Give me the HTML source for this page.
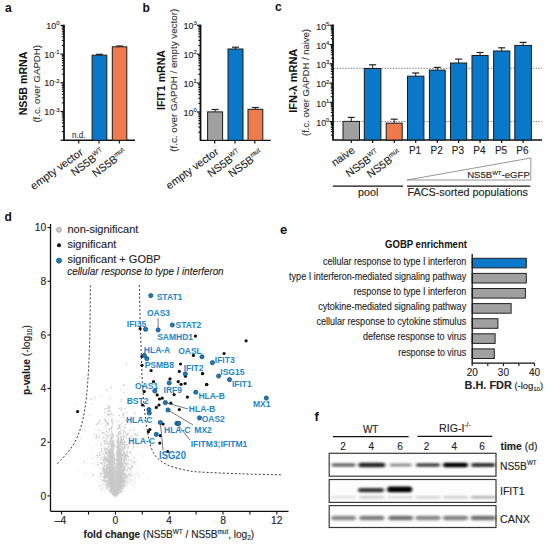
<!DOCTYPE html><html><head><meta charset="utf-8"><style>html,body{margin:0;padding:0;background:#fff;}svg{display:block;font-family:"Liberation Sans",sans-serif;}</style></head><body><svg width="550" height="544" viewBox="0 0 550 544">
<rect width="550" height="544" fill="#fff"/>
<text x="5" y="12" font-size="12" text-anchor="start" font-weight="bold" fill="#111">a</text>
<text x="142.5" y="12" font-size="12" text-anchor="start" font-weight="bold" fill="#111">b</text>
<text x="275" y="11" font-size="12" text-anchor="start" font-weight="bold" fill="#111">c</text>
<text x="4.5" y="221" font-size="12" text-anchor="start" font-weight="bold" fill="#111">d</text>
<text x="280" y="233.5" font-size="13" text-anchor="start" font-weight="bold" fill="#111">e</text>
<text x="314.6" y="421" font-size="13" text-anchor="start" font-weight="bold" fill="#111">f</text>
<line x1="64" y1="24.7" x2="64" y2="140.3" stroke="#111" stroke-width="1.8"/>
<line x1="60.5" y1="25.4" x2="64" y2="25.4" stroke="#111" stroke-width="1.2"/>
<line x1="61.8" y1="45.46043912444374" x2="64" y2="45.46043912444374" stroke="#111" stroke-width="1.1"/>
<line x1="61.8" y1="40.40661998954568" x2="64" y2="40.40661998954568" stroke="#111" stroke-width="1.1"/>
<line x1="61.8" y1="36.820878248887475" x2="64" y2="36.820878248887475" stroke="#111" stroke-width="1.1"/>
<line x1="61.8" y1="34.039560875556255" x2="64" y2="34.039560875556255" stroke="#111" stroke-width="1.1"/>
<line x1="61.8" y1="31.767059113989422" x2="64" y2="31.767059113989422" stroke="#111" stroke-width="1.1"/>
<line x1="61.8" y1="29.845686251590823" x2="64" y2="29.845686251590823" stroke="#111" stroke-width="1.1"/>
<line x1="61.8" y1="28.181317373331215" x2="64" y2="28.181317373331215" stroke="#111" stroke-width="1.1"/>
<line x1="61.8" y1="26.71323997909137" x2="64" y2="26.71323997909137" stroke="#111" stroke-width="1.1"/>
<line x1="60.5" y1="54.099999999999994" x2="64" y2="54.099999999999994" stroke="#111" stroke-width="1.2"/>
<line x1="61.8" y1="74.16043912444374" x2="64" y2="74.16043912444374" stroke="#111" stroke-width="1.1"/>
<line x1="61.8" y1="69.10661998954569" x2="64" y2="69.10661998954569" stroke="#111" stroke-width="1.1"/>
<line x1="61.8" y1="65.52087824888747" x2="64" y2="65.52087824888747" stroke="#111" stroke-width="1.1"/>
<line x1="61.8" y1="62.73956087555626" x2="64" y2="62.73956087555626" stroke="#111" stroke-width="1.1"/>
<line x1="61.8" y1="60.46705911398942" x2="64" y2="60.46705911398942" stroke="#111" stroke-width="1.1"/>
<line x1="61.8" y1="58.54568625159082" x2="64" y2="58.54568625159082" stroke="#111" stroke-width="1.1"/>
<line x1="61.8" y1="56.881317373331214" x2="64" y2="56.881317373331214" stroke="#111" stroke-width="1.1"/>
<line x1="61.8" y1="55.41323997909137" x2="64" y2="55.41323997909137" stroke="#111" stroke-width="1.1"/>
<line x1="60.5" y1="82.8" x2="64" y2="82.8" stroke="#111" stroke-width="1.2"/>
<line x1="61.8" y1="102.86043912444374" x2="64" y2="102.86043912444374" stroke="#111" stroke-width="1.1"/>
<line x1="61.8" y1="97.80661998954568" x2="64" y2="97.80661998954568" stroke="#111" stroke-width="1.1"/>
<line x1="61.8" y1="94.22087824888749" x2="64" y2="94.22087824888749" stroke="#111" stroke-width="1.1"/>
<line x1="61.8" y1="91.43956087555625" x2="64" y2="91.43956087555625" stroke="#111" stroke-width="1.1"/>
<line x1="61.8" y1="89.16705911398942" x2="64" y2="89.16705911398942" stroke="#111" stroke-width="1.1"/>
<line x1="61.8" y1="87.24568625159083" x2="64" y2="87.24568625159083" stroke="#111" stroke-width="1.1"/>
<line x1="61.8" y1="85.58131737333122" x2="64" y2="85.58131737333122" stroke="#111" stroke-width="1.1"/>
<line x1="61.8" y1="84.11323997909138" x2="64" y2="84.11323997909138" stroke="#111" stroke-width="1.1"/>
<line x1="60.5" y1="111.5" x2="64" y2="111.5" stroke="#111" stroke-width="1.2"/>
<line x1="61.8" y1="131.56043912444372" x2="64" y2="131.56043912444372" stroke="#111" stroke-width="1.1"/>
<line x1="61.8" y1="126.50661998954567" x2="64" y2="126.50661998954567" stroke="#111" stroke-width="1.1"/>
<line x1="61.8" y1="122.92087824888748" x2="64" y2="122.92087824888748" stroke="#111" stroke-width="1.1"/>
<line x1="61.8" y1="120.13956087555624" x2="64" y2="120.13956087555624" stroke="#111" stroke-width="1.1"/>
<line x1="61.8" y1="117.86705911398941" x2="64" y2="117.86705911398941" stroke="#111" stroke-width="1.1"/>
<line x1="61.8" y1="115.94568625159081" x2="64" y2="115.94568625159081" stroke="#111" stroke-width="1.1"/>
<line x1="61.8" y1="114.2813173733312" x2="64" y2="114.2813173733312" stroke="#111" stroke-width="1.1"/>
<line x1="61.8" y1="112.81323997909136" x2="64" y2="112.81323997909136" stroke="#111" stroke-width="1.1"/>
<line x1="60.5" y1="140.2" x2="64" y2="140.2" stroke="#111" stroke-width="1.2"/>
<text stroke="#222" stroke-width="0.12" x="59.6" y="29.0" font-size="9" text-anchor="end" fill="#222" font-family="Liberation Sans">10<tspan font-size="5.94" dy="-3.60">0</tspan></text>
<text stroke="#222" stroke-width="0.12" x="59.6" y="57.7" font-size="9" text-anchor="end" fill="#222" font-family="Liberation Sans">10<tspan font-size="5.94" dy="-3.60">-1</tspan></text>
<text stroke="#222" stroke-width="0.12" x="59.6" y="86.39999999999999" font-size="9" text-anchor="end" fill="#222" font-family="Liberation Sans">10<tspan font-size="5.94" dy="-3.60">-2</tspan></text>
<text stroke="#222" stroke-width="0.12" x="59.6" y="115.1" font-size="9" text-anchor="end" fill="#222" font-family="Liberation Sans">10<tspan font-size="5.94" dy="-3.60">-3</tspan></text>
<line x1="63.3" y1="140.3" x2="135" y2="140.3" stroke="#111" stroke-width="1.4"/>
<line x1="78.7" y1="140" x2="78.7" y2="143.5" stroke="#111" stroke-width="1.2"/>
<line x1="99" y1="140" x2="99" y2="143.5" stroke="#111" stroke-width="1.2"/>
<line x1="119.3" y1="140" x2="119.3" y2="143.5" stroke="#111" stroke-width="1.2"/>
<line x1="99.44999999999999" y1="55.2" x2="99.44999999999999" y2="54.3" stroke="#222" stroke-width="1"/>
<line x1="95.94999999999999" y1="54.3" x2="102.94999999999999" y2="54.3" stroke="#222" stroke-width="1.2"/>
<rect x="92.1" y="55.2" width="14.700000000000003" height="85.10000000000001" fill="#0a78c8" stroke="#1a1a1a" stroke-width="1"/>
<line x1="119.55" y1="46.8" x2="119.55" y2="46" stroke="#222" stroke-width="1"/>
<line x1="116.05" y1="46" x2="123.05" y2="46" stroke="#222" stroke-width="1.2"/>
<rect x="112.3" y="46.8" width="14.5" height="93.50000000000001" fill="#ef7b4d" stroke="#1a1a1a" stroke-width="1"/>
<text stroke="#3a3a3a" stroke-width="0.12" x="78.8" y="137.7" font-size="8.2" text-anchor="middle" font-weight="normal" fill="#3a3a3a">n.d.</text>
<text x="27.5" y="115.3" font-size="10.6" text-anchor="start" font-weight="bold" fill="#111" transform="rotate(-90 27.5 115.3)" textLength="63.7" lengthAdjust="spacingAndGlyphs">NS5B mRNA</text>
<text stroke="#3a3a3a" stroke-width="0.12" x="40.4" y="122.6" font-size="9.7" text-anchor="start" font-weight="normal" fill="#3a3a3a" transform="rotate(-90 40.4 122.6)" textLength="77.6" lengthAdjust="spacingAndGlyphs">(f.c. over GAPDH)</text>
<text stroke="#222" stroke-width="0.12" x="83.8" y="153.8" font-size="10.8" text-anchor="end" fill="#222" transform="rotate(-36 83.8 153.8)">empty vector</text>
<text stroke="#222" stroke-width="0.12" x="74.2" y="176.6" font-size="10.8" text-anchor="start" fill="#222" transform="rotate(-36 74.2 176.6)">NS5B<tspan font-size="6.5" dy="-4.5">WT</tspan></text>
<text stroke="#222" stroke-width="0.12" x="95.5" y="177.4" font-size="10.8" text-anchor="start" fill="#222" transform="rotate(-36 95.5 177.4)">NS5B<tspan font-size="6.5" dy="-4.5">mut</tspan></text>
<line x1="200.5" y1="24.6" x2="200.5" y2="140.4" stroke="#111" stroke-width="1.8"/>
<line x1="197.0" y1="25.3" x2="200.5" y2="25.3" stroke="#111" stroke-width="1.2"/>
<line x1="198.3" y1="45.50023312531095" x2="200.5" y2="45.50023312531095" stroke="#111" stroke-width="1.1"/>
<line x1="198.3" y1="40.41119573860176" x2="200.5" y2="40.41119573860176" stroke="#111" stroke-width="1.1"/>
<line x1="198.3" y1="36.800466250621895" x2="200.5" y2="36.800466250621895" stroke="#111" stroke-width="1.1"/>
<line x1="198.3" y1="33.99976687468906" x2="200.5" y2="33.99976687468906" stroke="#111" stroke-width="1.1"/>
<line x1="198.3" y1="31.711428863912705" x2="200.5" y2="31.711428863912705" stroke="#111" stroke-width="1.1"/>
<line x1="198.3" y1="29.776666643587983" x2="200.5" y2="29.776666643587983" stroke="#111" stroke-width="1.1"/>
<line x1="198.3" y1="28.100699375932837" x2="200.5" y2="28.100699375932837" stroke="#111" stroke-width="1.1"/>
<line x1="198.3" y1="26.622391477203514" x2="200.5" y2="26.622391477203514" stroke="#111" stroke-width="1.1"/>
<line x1="197.0" y1="54.2" x2="200.5" y2="54.2" stroke="#111" stroke-width="1.2"/>
<line x1="198.3" y1="74.40023312531093" x2="200.5" y2="74.40023312531093" stroke="#111" stroke-width="1.1"/>
<line x1="198.3" y1="69.31119573860175" x2="200.5" y2="69.31119573860175" stroke="#111" stroke-width="1.1"/>
<line x1="198.3" y1="65.70046625062189" x2="200.5" y2="65.70046625062189" stroke="#111" stroke-width="1.1"/>
<line x1="198.3" y1="62.89976687468905" x2="200.5" y2="62.89976687468905" stroke="#111" stroke-width="1.1"/>
<line x1="198.3" y1="60.61142886391269" x2="200.5" y2="60.61142886391269" stroke="#111" stroke-width="1.1"/>
<line x1="198.3" y1="58.67666664358798" x2="200.5" y2="58.67666664358798" stroke="#111" stroke-width="1.1"/>
<line x1="198.3" y1="57.000699375932825" x2="200.5" y2="57.000699375932825" stroke="#111" stroke-width="1.1"/>
<line x1="198.3" y1="55.522391477203506" x2="200.5" y2="55.522391477203506" stroke="#111" stroke-width="1.1"/>
<line x1="197.0" y1="83.1" x2="200.5" y2="83.1" stroke="#111" stroke-width="1.2"/>
<line x1="198.3" y1="103.30023312531094" x2="200.5" y2="103.30023312531094" stroke="#111" stroke-width="1.1"/>
<line x1="198.3" y1="98.21119573860176" x2="200.5" y2="98.21119573860176" stroke="#111" stroke-width="1.1"/>
<line x1="198.3" y1="94.60046625062189" x2="200.5" y2="94.60046625062189" stroke="#111" stroke-width="1.1"/>
<line x1="198.3" y1="91.79976687468906" x2="200.5" y2="91.79976687468906" stroke="#111" stroke-width="1.1"/>
<line x1="198.3" y1="89.5114288639127" x2="200.5" y2="89.5114288639127" stroke="#111" stroke-width="1.1"/>
<line x1="198.3" y1="87.57666664358798" x2="200.5" y2="87.57666664358798" stroke="#111" stroke-width="1.1"/>
<line x1="198.3" y1="85.90069937593283" x2="200.5" y2="85.90069937593283" stroke="#111" stroke-width="1.1"/>
<line x1="198.3" y1="84.42239147720352" x2="200.5" y2="84.42239147720352" stroke="#111" stroke-width="1.1"/>
<line x1="197.0" y1="112.0" x2="200.5" y2="112.0" stroke="#111" stroke-width="1.2"/>
<line x1="198.3" y1="132.20023312531094" x2="200.5" y2="132.20023312531094" stroke="#111" stroke-width="1.1"/>
<line x1="198.3" y1="127.11119573860177" x2="200.5" y2="127.11119573860177" stroke="#111" stroke-width="1.1"/>
<line x1="198.3" y1="123.5004662506219" x2="200.5" y2="123.5004662506219" stroke="#111" stroke-width="1.1"/>
<line x1="198.3" y1="120.69976687468906" x2="200.5" y2="120.69976687468906" stroke="#111" stroke-width="1.1"/>
<line x1="198.3" y1="118.4114288639127" x2="200.5" y2="118.4114288639127" stroke="#111" stroke-width="1.1"/>
<line x1="198.3" y1="116.47666664358799" x2="200.5" y2="116.47666664358799" stroke="#111" stroke-width="1.1"/>
<line x1="198.3" y1="114.80069937593284" x2="200.5" y2="114.80069937593284" stroke="#111" stroke-width="1.1"/>
<line x1="198.3" y1="113.32239147720352" x2="200.5" y2="113.32239147720352" stroke="#111" stroke-width="1.1"/>
<text stroke="#222" stroke-width="0.12" x="196.8" y="28.900000000000002" font-size="9" text-anchor="end" fill="#222" font-family="Liberation Sans">10<tspan font-size="5.94" dy="-3.60">3</tspan></text>
<text stroke="#222" stroke-width="0.12" x="196.8" y="57.800000000000004" font-size="9" text-anchor="end" fill="#222" font-family="Liberation Sans">10<tspan font-size="5.94" dy="-3.60">2</tspan></text>
<text stroke="#222" stroke-width="0.12" x="196.8" y="86.69999999999999" font-size="9" text-anchor="end" fill="#222" font-family="Liberation Sans">10<tspan font-size="5.94" dy="-3.60">1</tspan></text>
<text stroke="#222" stroke-width="0.12" x="196.8" y="115.6" font-size="9" text-anchor="end" fill="#222" font-family="Liberation Sans">10<tspan font-size="5.94" dy="-3.60">0</tspan></text>
<line x1="199.8" y1="140.4" x2="270.8" y2="140.4" stroke="#111" stroke-width="1.4"/>
<line x1="214.7" y1="140" x2="214.7" y2="143.5" stroke="#111" stroke-width="1.2"/>
<line x1="235" y1="140" x2="235" y2="143.5" stroke="#111" stroke-width="1.2"/>
<line x1="254.8" y1="140" x2="254.8" y2="143.5" stroke="#111" stroke-width="1.2"/>
<line x1="215.1" y1="111.9" x2="215.1" y2="109.5" stroke="#222" stroke-width="1"/>
<line x1="211.6" y1="109.5" x2="218.6" y2="109.5" stroke="#222" stroke-width="1.2"/>
<rect x="207.6" y="111.9" width="15.0" height="28.5" fill="#a0a0a0" stroke="#1a1a1a" stroke-width="1"/>
<line x1="235.5" y1="49" x2="235.5" y2="47.2" stroke="#222" stroke-width="1"/>
<line x1="232.0" y1="47.2" x2="239.0" y2="47.2" stroke="#222" stroke-width="1.2"/>
<rect x="228" y="49" width="15" height="91.4" fill="#0a78c8" stroke="#1a1a1a" stroke-width="1"/>
<line x1="255.4" y1="109.3" x2="255.4" y2="107.5" stroke="#222" stroke-width="1"/>
<line x1="251.9" y1="107.5" x2="258.9" y2="107.5" stroke="#222" stroke-width="1.2"/>
<rect x="248" y="109.3" width="14.800000000000011" height="31.10000000000001" fill="#ef7b4d" stroke="#1a1a1a" stroke-width="1"/>
<text x="165.2" y="110" font-size="10.6" text-anchor="start" font-weight="bold" fill="#111" transform="rotate(-90 165.2 110)" textLength="60" lengthAdjust="spacingAndGlyphs">IFIT1 mRNA</text>
<text stroke="#3a3a3a" stroke-width="0.12" x="176.6" y="151.8" font-size="9.8" text-anchor="start" font-weight="normal" fill="#3a3a3a" transform="rotate(-90 176.6 151.8)" textLength="143" lengthAdjust="spacingAndGlyphs">(f.c. over GAPDH / empty vector)</text>
<text stroke="#222" stroke-width="0.12" x="219.3" y="153.3" font-size="10.8" text-anchor="end" fill="#222" transform="rotate(-36 219.3 153.3)">empty vector</text>
<text stroke="#222" stroke-width="0.12" x="210.7" y="177.6" font-size="10.8" text-anchor="start" fill="#222" transform="rotate(-36 210.7 177.6)">NS5B<tspan font-size="6.5" dy="-4.5">WT</tspan></text>
<text stroke="#222" stroke-width="0.12" x="231.8" y="177.8" font-size="10.8" text-anchor="start" fill="#222" transform="rotate(-36 231.8 177.8)">NS5B<tspan font-size="6.5" dy="-4.5">mut</tspan></text>
<line x1="333" y1="24.6" x2="333" y2="140" stroke="#111" stroke-width="1.8"/>
<line x1="329.5" y1="25.3" x2="333" y2="25.3" stroke="#111" stroke-width="1.2"/>
<line x1="330.8" y1="38.76216228351173" x2="333" y2="38.76216228351173" stroke="#111" stroke-width="1.1"/>
<line x1="330.8" y1="35.37064463409931" x2="333" y2="35.37064463409931" stroke="#111" stroke-width="1.1"/>
<line x1="330.8" y1="32.964324567023446" x2="333" y2="32.964324567023446" stroke="#111" stroke-width="1.1"/>
<line x1="330.8" y1="31.09783771648828" x2="333" y2="31.09783771648828" stroke="#111" stroke-width="1.1"/>
<line x1="330.8" y1="29.572806917611025" x2="333" y2="29.572806917611025" stroke="#111" stroke-width="1.1"/>
<line x1="330.8" y1="28.283411749325413" x2="333" y2="28.283411749325413" stroke="#111" stroke-width="1.1"/>
<line x1="330.8" y1="27.16648685053517" x2="333" y2="27.16648685053517" stroke="#111" stroke-width="1.1"/>
<line x1="330.8" y1="26.181289268198604" x2="333" y2="26.181289268198604" stroke="#111" stroke-width="1.1"/>
<line x1="329.5" y1="44.56" x2="333" y2="44.56" stroke="#111" stroke-width="1.2"/>
<line x1="330.8" y1="58.02216228351173" x2="333" y2="58.02216228351173" stroke="#111" stroke-width="1.1"/>
<line x1="330.8" y1="54.63064463409931" x2="333" y2="54.63064463409931" stroke="#111" stroke-width="1.1"/>
<line x1="330.8" y1="52.22432456702345" x2="333" y2="52.22432456702345" stroke="#111" stroke-width="1.1"/>
<line x1="330.8" y1="50.357837716488284" x2="333" y2="50.357837716488284" stroke="#111" stroke-width="1.1"/>
<line x1="330.8" y1="48.83280691761103" x2="333" y2="48.83280691761103" stroke="#111" stroke-width="1.1"/>
<line x1="330.8" y1="47.543411749325415" x2="333" y2="47.543411749325415" stroke="#111" stroke-width="1.1"/>
<line x1="330.8" y1="46.42648685053517" x2="333" y2="46.42648685053517" stroke="#111" stroke-width="1.1"/>
<line x1="330.8" y1="45.44128926819861" x2="333" y2="45.44128926819861" stroke="#111" stroke-width="1.1"/>
<line x1="329.5" y1="63.82000000000001" x2="333" y2="63.82000000000001" stroke="#111" stroke-width="1.2"/>
<line x1="330.8" y1="77.28216228351174" x2="333" y2="77.28216228351174" stroke="#111" stroke-width="1.1"/>
<line x1="330.8" y1="73.89064463409932" x2="333" y2="73.89064463409932" stroke="#111" stroke-width="1.1"/>
<line x1="330.8" y1="71.48432456702346" x2="333" y2="71.48432456702346" stroke="#111" stroke-width="1.1"/>
<line x1="330.8" y1="69.61783771648828" x2="333" y2="69.61783771648828" stroke="#111" stroke-width="1.1"/>
<line x1="330.8" y1="68.09280691761103" x2="333" y2="68.09280691761103" stroke="#111" stroke-width="1.1"/>
<line x1="330.8" y1="66.80341174932542" x2="333" y2="66.80341174932542" stroke="#111" stroke-width="1.1"/>
<line x1="330.8" y1="65.68648685053518" x2="333" y2="65.68648685053518" stroke="#111" stroke-width="1.1"/>
<line x1="330.8" y1="64.70128926819862" x2="333" y2="64.70128926819862" stroke="#111" stroke-width="1.1"/>
<line x1="329.5" y1="83.08000000000001" x2="333" y2="83.08000000000001" stroke="#111" stroke-width="1.2"/>
<line x1="330.8" y1="96.54216228351174" x2="333" y2="96.54216228351174" stroke="#111" stroke-width="1.1"/>
<line x1="330.8" y1="93.15064463409932" x2="333" y2="93.15064463409932" stroke="#111" stroke-width="1.1"/>
<line x1="330.8" y1="90.74432456702345" x2="333" y2="90.74432456702345" stroke="#111" stroke-width="1.1"/>
<line x1="330.8" y1="88.8778377164883" x2="333" y2="88.8778377164883" stroke="#111" stroke-width="1.1"/>
<line x1="330.8" y1="87.35280691761105" x2="333" y2="87.35280691761105" stroke="#111" stroke-width="1.1"/>
<line x1="330.8" y1="86.06341174932543" x2="333" y2="86.06341174932543" stroke="#111" stroke-width="1.1"/>
<line x1="330.8" y1="84.94648685053518" x2="333" y2="84.94648685053518" stroke="#111" stroke-width="1.1"/>
<line x1="330.8" y1="83.96128926819861" x2="333" y2="83.96128926819861" stroke="#111" stroke-width="1.1"/>
<line x1="329.5" y1="102.34000000000002" x2="333" y2="102.34000000000002" stroke="#111" stroke-width="1.2"/>
<line x1="330.8" y1="115.80216228351175" x2="333" y2="115.80216228351175" stroke="#111" stroke-width="1.1"/>
<line x1="330.8" y1="112.41064463409933" x2="333" y2="112.41064463409933" stroke="#111" stroke-width="1.1"/>
<line x1="330.8" y1="110.00432456702347" x2="333" y2="110.00432456702347" stroke="#111" stroke-width="1.1"/>
<line x1="330.8" y1="108.13783771648829" x2="333" y2="108.13783771648829" stroke="#111" stroke-width="1.1"/>
<line x1="330.8" y1="106.61280691761104" x2="333" y2="106.61280691761104" stroke="#111" stroke-width="1.1"/>
<line x1="330.8" y1="105.32341174932543" x2="333" y2="105.32341174932543" stroke="#111" stroke-width="1.1"/>
<line x1="330.8" y1="104.20648685053519" x2="333" y2="104.20648685053519" stroke="#111" stroke-width="1.1"/>
<line x1="330.8" y1="103.22128926819863" x2="333" y2="103.22128926819863" stroke="#111" stroke-width="1.1"/>
<line x1="329.5" y1="121.60000000000002" x2="333" y2="121.60000000000002" stroke="#111" stroke-width="1.2"/>
<line x1="330.8" y1="135.06216228351173" x2="333" y2="135.06216228351173" stroke="#111" stroke-width="1.1"/>
<line x1="330.8" y1="131.67064463409932" x2="333" y2="131.67064463409932" stroke="#111" stroke-width="1.1"/>
<line x1="330.8" y1="129.26432456702346" x2="333" y2="129.26432456702346" stroke="#111" stroke-width="1.1"/>
<line x1="330.8" y1="127.39783771648828" x2="333" y2="127.39783771648828" stroke="#111" stroke-width="1.1"/>
<line x1="330.8" y1="125.87280691761103" x2="333" y2="125.87280691761103" stroke="#111" stroke-width="1.1"/>
<line x1="330.8" y1="124.58341174932542" x2="333" y2="124.58341174932542" stroke="#111" stroke-width="1.1"/>
<line x1="330.8" y1="123.46648685053518" x2="333" y2="123.46648685053518" stroke="#111" stroke-width="1.1"/>
<line x1="330.8" y1="122.48128926819862" x2="333" y2="122.48128926819862" stroke="#111" stroke-width="1.1"/>
<text stroke="#222" stroke-width="0.12" x="329.3" y="29.5" font-size="8.8" text-anchor="end" fill="#222" font-family="Liberation Sans">10<tspan font-size="5.81" dy="-3.52">5</tspan></text>
<text stroke="#222" stroke-width="0.12" x="329.3" y="48.800000000000004" font-size="8.8" text-anchor="end" fill="#222" font-family="Liberation Sans">10<tspan font-size="5.81" dy="-3.52">4</tspan></text>
<text stroke="#222" stroke-width="0.12" x="329.3" y="68.0" font-size="8.8" text-anchor="end" fill="#222" font-family="Liberation Sans">10<tspan font-size="5.81" dy="-3.52">3</tspan></text>
<text stroke="#222" stroke-width="0.12" x="329.3" y="87.3" font-size="8.8" text-anchor="end" fill="#222" font-family="Liberation Sans">10<tspan font-size="5.81" dy="-3.52">2</tspan></text>
<text stroke="#222" stroke-width="0.12" x="329.3" y="106.5" font-size="8.8" text-anchor="end" fill="#222" font-family="Liberation Sans">10<tspan font-size="5.81" dy="-3.52">1</tspan></text>
<text stroke="#222" stroke-width="0.12" x="329.3" y="125.8" font-size="8.8" text-anchor="end" fill="#222" font-family="Liberation Sans">10<tspan font-size="5.81" dy="-3.52">0</tspan></text>
<line x1="334" y1="68.3" x2="542" y2="68.3" stroke="#555" stroke-width="0.8" stroke-dasharray="1.4 1.4"/>
<line x1="334" y1="121.6" x2="542" y2="121.6" stroke="#555" stroke-width="0.8" stroke-dasharray="1.4 1.4"/>
<line x1="332.3" y1="140" x2="542" y2="140" stroke="#111" stroke-width="1.4"/>
<line x1="351.25" y1="121.4" x2="351.25" y2="117.4" stroke="#222" stroke-width="1"/>
<line x1="347.75" y1="117.4" x2="354.75" y2="117.4" stroke="#222" stroke-width="1.2"/>
<rect x="343" y="121.4" width="16.5" height="18.599999999999994" fill="#a0a0a0" stroke="#1a1a1a" stroke-width="1"/>
<line x1="351.25" y1="140" x2="351.25" y2="143" stroke="#111" stroke-width="1.2"/>
<line x1="372.6" y1="68.5" x2="372.6" y2="64.8" stroke="#222" stroke-width="1"/>
<line x1="369.1" y1="64.8" x2="376.1" y2="64.8" stroke="#222" stroke-width="1.2"/>
<rect x="364.3" y="68.5" width="16.599999999999966" height="71.5" fill="#0a78c8" stroke="#1a1a1a" stroke-width="1"/>
<line x1="372.6" y1="140" x2="372.6" y2="143" stroke="#111" stroke-width="1.2"/>
<line x1="394.2" y1="123.2" x2="394.2" y2="119.2" stroke="#222" stroke-width="1"/>
<line x1="390.7" y1="119.2" x2="397.7" y2="119.2" stroke="#222" stroke-width="1.2"/>
<rect x="386.2" y="123.2" width="16.0" height="16.799999999999997" fill="#ef7b4d" stroke="#1a1a1a" stroke-width="1"/>
<line x1="394.2" y1="140" x2="394.2" y2="143" stroke="#111" stroke-width="1.2"/>
<line x1="415.7" y1="76.2" x2="415.7" y2="73" stroke="#222" stroke-width="1"/>
<line x1="412.2" y1="73" x2="419.2" y2="73" stroke="#222" stroke-width="1.2"/>
<rect x="407.5" y="76.2" width="16.399999999999977" height="63.8" fill="#0a78c8" stroke="#1a1a1a" stroke-width="1"/>
<line x1="415.7" y1="140" x2="415.7" y2="143" stroke="#111" stroke-width="1.2"/>
<line x1="437.29999999999995" y1="70.1" x2="437.29999999999995" y2="67.4" stroke="#222" stroke-width="1"/>
<line x1="433.79999999999995" y1="67.4" x2="440.79999999999995" y2="67.4" stroke="#222" stroke-width="1.2"/>
<rect x="429.4" y="70.1" width="15.800000000000011" height="69.9" fill="#0a78c8" stroke="#1a1a1a" stroke-width="1"/>
<line x1="437.29999999999995" y1="140" x2="437.29999999999995" y2="143" stroke="#111" stroke-width="1.2"/>
<line x1="458.6" y1="63" x2="458.6" y2="59.1" stroke="#222" stroke-width="1"/>
<line x1="455.1" y1="59.1" x2="462.1" y2="59.1" stroke="#222" stroke-width="1.2"/>
<rect x="450.5" y="63" width="16.19999999999999" height="77" fill="#0a78c8" stroke="#1a1a1a" stroke-width="1"/>
<line x1="458.6" y1="140" x2="458.6" y2="143" stroke="#111" stroke-width="1.2"/>
<line x1="480.05" y1="55.5" x2="480.05" y2="52.5" stroke="#222" stroke-width="1"/>
<line x1="476.55" y1="52.5" x2="483.55" y2="52.5" stroke="#222" stroke-width="1.2"/>
<rect x="472" y="55.5" width="16.100000000000023" height="84.5" fill="#0a78c8" stroke="#1a1a1a" stroke-width="1"/>
<line x1="480.05" y1="140" x2="480.05" y2="143" stroke="#111" stroke-width="1.2"/>
<line x1="501.70000000000005" y1="51" x2="501.70000000000005" y2="47.8" stroke="#222" stroke-width="1"/>
<line x1="498.20000000000005" y1="47.8" x2="505.20000000000005" y2="47.8" stroke="#222" stroke-width="1.2"/>
<rect x="493.6" y="51" width="16.19999999999999" height="89" fill="#0a78c8" stroke="#1a1a1a" stroke-width="1"/>
<line x1="501.70000000000005" y1="140" x2="501.70000000000005" y2="143" stroke="#111" stroke-width="1.2"/>
<line x1="523.0999999999999" y1="45.4" x2="523.0999999999999" y2="42.4" stroke="#222" stroke-width="1"/>
<line x1="519.5999999999999" y1="42.4" x2="526.5999999999999" y2="42.4" stroke="#222" stroke-width="1.2"/>
<rect x="514.8" y="45.4" width="16.600000000000023" height="94.6" fill="#0a78c8" stroke="#1a1a1a" stroke-width="1"/>
<line x1="523.0999999999999" y1="140" x2="523.0999999999999" y2="143" stroke="#111" stroke-width="1.2"/>
<text stroke="#222" stroke-width="0.12" x="415.0" y="154.3" font-size="10" text-anchor="middle" font-weight="normal" fill="#222">P1</text>
<text stroke="#222" stroke-width="0.12" x="436.59999999999997" y="154.3" font-size="10" text-anchor="middle" font-weight="normal" fill="#222">P2</text>
<text stroke="#222" stroke-width="0.12" x="457.90000000000003" y="154.3" font-size="10" text-anchor="middle" font-weight="normal" fill="#222">P3</text>
<text stroke="#222" stroke-width="0.12" x="479.35" y="154.3" font-size="10" text-anchor="middle" font-weight="normal" fill="#222">P4</text>
<text stroke="#222" stroke-width="0.12" x="501.00000000000006" y="154.3" font-size="10" text-anchor="middle" font-weight="normal" fill="#222">P5</text>
<text stroke="#222" stroke-width="0.12" x="522.3999999999999" y="154.3" font-size="10" text-anchor="middle" font-weight="normal" fill="#222">P6</text>
<text x="297" y="112.7" font-size="10.5" text-anchor="start" font-weight="bold" fill="#111" transform="rotate(-90 297 112.7)" textLength="64" lengthAdjust="spacingAndGlyphs">IFN-λ mRNA</text>
<text stroke="#3a3a3a" stroke-width="0.12" x="308.6" y="136" font-size="9.7" text-anchor="start" font-weight="normal" fill="#3a3a3a" transform="rotate(-90 308.6 136)" textLength="107" lengthAdjust="spacingAndGlyphs">(f.c. over GAPDH / naive)</text>
<text stroke="#222" stroke-width="0.12" x="355.6" y="151.7" font-size="10.8" text-anchor="end" fill="#222" transform="rotate(-36 355.6 151.7)">naive</text>
<text stroke="#222" stroke-width="0.12" x="349.1" y="177.5" font-size="10.8" text-anchor="start" fill="#222" transform="rotate(-36 349.1 177.5)">NS5B<tspan font-size="6.5" dy="-4.5">WT</tspan></text>
<text stroke="#222" stroke-width="0.12" x="370.2" y="178.2" font-size="10.8" text-anchor="start" fill="#222" transform="rotate(-36 370.2 178.2)">NS5B<tspan font-size="6.5" dy="-4.5">mut</tspan></text>
<path d="M407 180 L530.8 158 L530.8 180 Z" fill="none" stroke="#8a8a8a" stroke-width="0.9"/>
<text stroke="#222" stroke-width="0.12" x="529.8" y="178.3" font-size="9.6" text-anchor="end" fill="#222">NS5B<tspan font-size="6" dy="-3.6">WT</tspan><tspan dy="3.6">-eGFP</tspan></text>
<line x1="332.9" y1="186.2" x2="403.2" y2="186.2" stroke="#111" stroke-width="1.3"/>
<line x1="407" y1="186.2" x2="530.4" y2="186.2" stroke="#111" stroke-width="1.3"/>
<text stroke="#222" stroke-width="0.12" x="368.2" y="196.2" font-size="10.8" text-anchor="middle" font-weight="normal" fill="#222">pool</text>
<text stroke="#222" stroke-width="0.12" x="407.4" y="196" font-size="10.8" text-anchor="start" font-weight="normal" fill="#222" textLength="120.5" lengthAdjust="spacingAndGlyphs">FACS-sorted populations</text>
<line x1="50.5" y1="224" x2="50.5" y2="511.3" stroke="#111" stroke-width="1.3"/>
<line x1="50.5" y1="511.3" x2="288.5" y2="511.3" stroke="#111" stroke-width="1.3"/>
<line x1="47.5" y1="495.9" x2="50.5" y2="495.9" stroke="#111" stroke-width="1.1"/>
<text stroke="#222" stroke-width="0.12" x="46.3" y="499.59999999999997" font-size="10.3" text-anchor="end" font-weight="normal" fill="#222">0</text>
<line x1="47.5" y1="442.24" x2="50.5" y2="442.24" stroke="#111" stroke-width="1.1"/>
<text stroke="#222" stroke-width="0.12" x="46.3" y="445.94" font-size="10.3" text-anchor="end" font-weight="normal" fill="#222">2</text>
<line x1="47.5" y1="388.58" x2="50.5" y2="388.58" stroke="#111" stroke-width="1.1"/>
<text stroke="#222" stroke-width="0.12" x="46.3" y="392.28" font-size="10.3" text-anchor="end" font-weight="normal" fill="#222">4</text>
<line x1="47.5" y1="334.91999999999996" x2="50.5" y2="334.91999999999996" stroke="#111" stroke-width="1.1"/>
<text stroke="#222" stroke-width="0.12" x="46.3" y="338.61999999999995" font-size="10.3" text-anchor="end" font-weight="normal" fill="#222">6</text>
<line x1="47.5" y1="281.26" x2="50.5" y2="281.26" stroke="#111" stroke-width="1.1"/>
<text stroke="#222" stroke-width="0.12" x="46.3" y="284.96" font-size="10.3" text-anchor="end" font-weight="normal" fill="#222">8</text>
<line x1="47.5" y1="227.60000000000002" x2="50.5" y2="227.60000000000002" stroke="#111" stroke-width="1.1"/>
<text stroke="#222" stroke-width="0.12" x="46.3" y="231.3" font-size="10.3" text-anchor="end" font-weight="normal" fill="#222">10</text>
<line x1="61.60000000000001" y1="511.3" x2="61.60000000000001" y2="514.5" stroke="#111" stroke-width="1.1"/>
<line x1="88.5" y1="511.3" x2="88.5" y2="514.5" stroke="#111" stroke-width="1.1"/>
<line x1="115.4" y1="511.3" x2="115.4" y2="514.5" stroke="#111" stroke-width="1.1"/>
<line x1="142.3" y1="511.3" x2="142.3" y2="514.5" stroke="#111" stroke-width="1.1"/>
<line x1="169.2" y1="511.3" x2="169.2" y2="514.5" stroke="#111" stroke-width="1.1"/>
<line x1="196.1" y1="511.3" x2="196.1" y2="514.5" stroke="#111" stroke-width="1.1"/>
<line x1="223.0" y1="511.3" x2="223.0" y2="514.5" stroke="#111" stroke-width="1.1"/>
<line x1="249.9" y1="511.3" x2="249.9" y2="514.5" stroke="#111" stroke-width="1.1"/>
<line x1="276.79999999999995" y1="511.3" x2="276.79999999999995" y2="514.5" stroke="#111" stroke-width="1.1"/>
<text stroke="#222" stroke-width="0.12" x="60.60000000000001" y="523.8" font-size="10.3" text-anchor="middle" font-weight="normal" fill="#222">–4</text>
<text stroke="#222" stroke-width="0.12" x="115.4" y="523.8" font-size="10.3" text-anchor="middle" font-weight="normal" fill="#222">0</text>
<text stroke="#222" stroke-width="0.12" x="169.2" y="523.8" font-size="10.3" text-anchor="middle" font-weight="normal" fill="#222">4</text>
<text stroke="#222" stroke-width="0.12" x="223.0" y="523.8" font-size="10.3" text-anchor="middle" font-weight="normal" fill="#222">8</text>
<text stroke="#222" stroke-width="0.12" x="276.79999999999995" y="523.8" font-size="10.3" text-anchor="middle" font-weight="normal" fill="#222">12</text>
<text stroke="#222" stroke-width="0.12" x="83.6" y="537.6" font-size="10.1" fill="#222"><tspan font-weight="bold">fold change</tspan> (NS5B<tspan font-size="6.4" dy="-3.7">WT</tspan><tspan dy="3.7"> / NS5B</tspan><tspan font-size="6.4" dy="-3.7">mut</tspan><tspan dy="3.7">, log</tspan><tspan font-size="6.4" dy="2.1">2</tspan><tspan dy="-2.1">)</tspan></text>
<text stroke="#222" stroke-width="0.12" x="30.2" y="395" font-size="10.26" fill="#222" transform="rotate(-90 30.2 395)"><tspan font-weight="bold">p-value</tspan> (-log<tspan font-size="6.5" dy="2.2">10</tspan><tspan dy="-2.2">)</tspan></text>
<path d="M134.6 478.3h0M102.5 481.4h0M114.5 492.4h0M120.8 492.2h0M114.4 492.7h0M113.7 490.9h0M117.7 480.0h0M114.1 487.2h0M118.8 483.1h0M105.0 475.4h0M107.3 483.6h0M115.1 493.4h0M118.0 471.2h0M116.7 491.8h0M118.7 484.4h0M115.6 495.3h0M109.6 481.2h0M114.6 492.7h0M116.4 493.5h0M120.9 488.7h0M108.2 477.2h0M115.0 495.4h0M121.7 467.2h0M84.9 463.0h0M118.8 485.5h0M111.6 489.5h0M120.6 478.2h0M125.2 461.6h0M120.1 477.2h0M116.7 484.3h0M125.8 480.2h0M117.5 483.5h0M99.1 484.6h0M113.1 493.1h0M118.1 489.7h0M115.0 495.3h0M118.6 490.1h0M118.1 438.8h0M113.1 488.5h0M115.4 495.9h0M114.1 485.8h0M96.6 460.0h0M111.3 482.7h0M98.3 482.5h0M127.5 484.4h0M115.3 495.6h0M116.7 492.1h0M123.1 485.8h0M116.9 489.4h0M117.9 477.1h0M107.6 488.5h0M115.8 494.1h0M113.1 484.5h0M122.3 482.3h0M115.6 495.4h0M114.2 494.6h0M124.3 487.7h0M112.0 490.3h0M116.0 492.6h0M128.7 469.7h0M118.0 490.0h0M109.5 467.1h0M120.5 493.1h0M117.7 478.8h0M115.2 495.7h0M114.3 489.7h0M114.1 484.9h0M116.8 491.7h0M122.2 473.7h0M115.4 495.9h0M111.0 492.6h0M117.4 485.0h0M118.3 486.1h0M112.7 490.3h0M119.7 475.9h0M115.7 494.9h0M114.6 483.6h0M122.7 469.3h0M101.4 445.3h0M112.5 490.8h0M113.0 493.5h0M122.8 472.8h0M113.6 461.8h0M115.9 495.1h0M113.4 492.8h0M115.5 495.7h0M114.4 494.4h0M104.6 468.7h0M113.3 484.6h0M120.3 488.4h0M114.5 489.8h0M124.9 479.4h0M121.3 458.4h0M102.3 487.2h0M119.2 472.4h0M115.4 495.6h0M115.9 495.3h0M109.7 485.9h0M120.6 486.9h0M116.3 484.3h0M114.6 492.2h0M124.8 486.3h0M134.3 487.0h0M116.3 487.9h0M114.4 493.7h0M118.7 491.1h0M109.6 476.2h0M117.5 488.9h0M113.8 489.0h0M101.7 413.8h0M107.8 482.4h0M99.4 468.0h0M111.1 489.5h0M122.2 477.5h0M107.5 489.4h0M115.7 494.4h0M117.7 481.7h0M112.4 485.7h0M116.7 493.2h0M112.4 474.7h0M120.8 488.9h0M104.9 487.6h0M115.0 494.7h0M105.6 484.8h0M116.4 492.4h0M113.3 481.3h0M115.8 494.7h0M123.9 487.3h0M100.1 472.2h0M117.6 483.1h0M113.3 488.7h0M117.0 486.0h0M132.0 471.5h0M118.0 485.6h0M124.0 469.8h0M125.3 469.6h0M115.3 495.8h0M124.7 480.9h0M110.9 493.2h0M117.0 493.5h0M128.4 483.1h0M113.9 481.7h0M114.1 490.1h0M122.6 480.7h0M115.6 495.1h0M117.2 491.9h0M114.8 494.1h0M117.5 491.3h0M120.8 483.6h0M138.5 474.3h0M129.7 468.2h0M111.7 485.5h0M134.1 463.4h0M116.8 492.9h0M109.7 473.5h0M112.3 488.4h0M113.0 493.3h0M116.5 492.7h0M105.0 460.2h0M115.7 494.9h0M123.9 481.6h0M117.9 486.7h0M96.1 480.5h0M118.0 482.9h0M116.0 492.1h0M95.1 428.5h0M117.4 488.0h0M128.3 465.8h0M112.8 489.5h0M111.2 477.3h0M118.5 491.2h0M116.7 492.1h0M111.1 466.3h0M124.7 477.3h0M110.5 482.5h0M113.0 486.0h0M119.2 491.2h0M110.0 487.9h0M115.9 494.2h0M121.4 466.2h0M117.2 490.5h0M119.8 481.8h0M112.1 491.1h0M117.6 488.6h0M123.8 485.9h0M114.5 487.4h0M112.1 481.4h0M120.3 463.0h0M110.2 482.4h0M110.7 475.3h0M120.5 476.9h0M112.9 491.7h0M115.0 493.9h0M117.6 479.9h0M113.6 484.0h0M112.2 487.3h0M122.4 465.6h0M125.0 455.7h0M105.1 473.8h0M118.2 475.3h0M114.6 492.6h0M119.4 478.6h0M110.6 477.6h0M124.9 478.2h0M116.0 493.6h0M122.2 485.3h0M112.8 487.6h0M120.2 488.5h0M120.8 488.3h0M124.2 476.4h0M116.5 489.4h0M115.4 495.8h0M115.2 495.7h0M115.7 494.7h0M131.5 471.7h0M117.4 493.3h0M109.3 471.4h0M137.2 464.7h0M117.1 480.6h0M116.7 489.0h0M116.2 495.0h0M116.8 493.8h0M115.4 495.7h0M112.1 484.4h0M107.5 482.2h0M116.2 493.4h0M137.3 472.4h0M124.9 474.6h0M125.7 468.5h0M110.1 485.2h0M114.2 493.5h0M106.1 453.1h0M125.7 454.2h0M113.4 489.6h0M117.3 495.0h0M119.7 491.7h0M112.4 491.0h0M100.4 479.7h0M114.6 493.9h0M119.0 493.8h0M107.6 480.9h0M110.0 483.4h0M103.6 480.3h0M122.6 460.6h0M111.3 456.7h0M106.1 476.8h0M114.9 494.6h0M112.7 491.2h0M122.5 481.3h0M117.0 493.2h0M112.8 483.4h0M113.7 491.4h0M116.1 493.7h0M115.8 495.1h0M120.7 486.0h0M117.9 490.7h0M109.8 467.2h0M115.9 494.9h0M101.9 479.8h0M120.1 477.3h0M117.9 471.8h0M121.9 478.5h0M114.1 490.2h0M116.5 491.8h0M115.5 495.8h0M117.3 477.1h0M118.7 487.3h0M123.2 483.6h0M100.7 424.2h0M111.0 482.1h0M115.1 495.5h0M118.2 482.2h0M128.0 451.4h0M117.0 490.7h0M109.6 491.0h0M106.3 479.7h0M125.1 478.8h0M117.0 492.4h0M110.7 465.3h0M116.5 494.2h0M123.3 482.5h0M118.4 488.6h0M125.6 466.4h0M124.4 488.7h0M114.7 493.4h0M119.4 485.3h0M118.6 479.0h0M110.8 488.1h0M116.5 492.5h0M119.7 482.9h0M115.7 495.4h0M129.8 468.9h0M112.6 479.9h0M115.4 495.7h0M115.0 495.1h0M117.8 488.7h0M112.0 485.0h0M111.6 493.9h0M125.0 431.0h0M120.3 484.8h0M117.5 491.9h0M110.3 482.2h0M114.5 493.8h0M110.0 487.7h0M115.1 494.5h0M119.6 486.2h0M113.2 488.4h0M114.8 495.4h0M117.9 480.4h0M113.8 484.1h0M117.1 491.7h0M111.7 488.9h0M111.0 493.5h0M120.9 482.7h0M125.2 453.6h0M113.6 473.1h0M129.5 436.5h0M122.1 477.8h0M113.2 490.2h0M115.4 495.6h0M110.0 466.2h0M116.8 494.0h0M125.8 485.6h0M114.7 491.1h0M117.0 492.6h0M124.8 468.6h0M116.8 491.4h0M109.5 490.7h0M114.8 491.3h0M115.4 495.9h0M113.1 479.9h0M114.8 491.4h0M114.9 494.7h0M113.2 486.3h0M111.7 485.8h0M116.3 493.0h0M99.8 477.1h0M111.2 482.7h0M101.9 468.6h0M115.8 495.2h0M124.4 470.7h0M126.1 467.0h0M131.2 450.7h0M100.9 475.3h0M116.2 493.1h0M116.4 494.3h0M114.6 494.9h0M114.0 490.2h0M109.4 472.4h0M114.9 494.8h0M118.4 490.2h0M112.9 488.3h0M117.1 490.3h0M108.8 485.8h0M114.0 489.0h0M119.2 489.0h0M119.7 473.2h0M115.2 495.4h0M113.5 493.7h0M115.9 489.3h0M117.8 492.6h0M125.9 468.0h0M114.3 493.6h0M97.0 433.6h0M116.2 490.8h0M110.4 469.7h0M140.0 454.0h0M118.7 479.4h0M107.7 455.9h0M130.4 472.9h0M110.7 482.8h0M114.0 490.9h0M116.2 494.0h0M115.0 495.4h0M115.3 494.9h0M116.7 494.0h0M106.3 475.6h0M123.4 473.2h0M111.1 489.7h0M122.0 485.3h0M122.7 425.8h0M118.5 483.0h0M102.2 484.1h0M119.8 474.6h0M113.9 493.3h0M115.1 495.5h0M115.7 495.2h0M112.3 476.5h0M113.5 480.8h0M104.0 459.7h0M125.1 471.5h0M120.8 442.4h0M125.0 466.8h0M109.1 467.2h0M113.9 489.3h0M104.0 456.1h0M124.0 483.7h0M120.9 471.3h0M120.9 468.8h0M129.3 459.8h0M121.8 491.8h0M103.0 459.6h0M116.8 493.7h0M132.6 467.6h0M112.2 492.1h0M133.1 445.2h0M114.0 486.2h0M115.7 494.3h0M116.8 490.9h0M109.9 474.9h0M130.6 479.6h0M113.5 490.7h0M110.9 476.0h0M110.9 493.2h0M114.2 475.6h0M115.1 495.7h0M117.9 492.5h0M115.9 494.7h0M113.3 488.7h0M94.9 474.3h0M106.3 475.0h0M132.0 466.5h0M111.5 485.9h0M111.9 483.9h0M115.5 495.8h0M118.5 485.6h0M121.0 491.3h0M119.4 489.6h0M117.2 492.6h0M104.5 468.3h0M113.5 486.6h0M121.8 488.7h0M117.0 492.3h0M114.6 493.4h0M114.5 494.7h0M119.2 493.5h0M108.7 460.1h0M92.4 447.0h0M117.3 488.9h0M107.5 478.1h0M126.3 474.2h0M114.2 493.6h0M111.3 490.9h0M116.1 495.0h0M111.6 493.5h0M117.7 489.1h0M116.0 492.4h0M101.5 458.0h0M119.4 491.0h0M110.3 487.9h0M110.3 483.1h0M105.1 477.2h0M121.2 467.6h0M117.6 492.1h0M109.6 466.2h0M109.5 476.2h0M114.4 492.9h0M117.1 488.6h0M123.8 481.2h0M113.6 480.4h0M109.4 487.2h0M115.5 495.6h0M115.3 494.9h0M111.0 464.7h0M117.0 492.0h0M114.9 494.2h0M117.7 486.1h0M113.7 492.0h0M115.1 494.1h0M110.0 484.9h0M116.6 492.8h0M115.8 493.8h0M116.7 493.1h0M105.4 483.4h0M120.9 484.4h0M118.0 492.2h0M114.0 492.4h0M122.8 481.3h0M111.1 483.7h0M114.2 489.7h0M111.9 471.6h0M110.0 471.8h0M118.2 478.6h0M111.0 481.9h0M118.5 489.9h0M92.6 463.8h0M113.7 494.0h0M112.8 486.9h0M121.1 478.6h0M119.4 490.4h0M85.4 473.1h0M117.4 490.6h0M112.9 491.4h0M120.9 485.1h0M116.2 492.8h0M111.4 490.3h0M116.6 489.0h0M122.2 481.9h0M107.7 474.9h0M111.7 447.8h0M112.3 486.1h0M114.2 493.4h0M114.6 494.8h0M115.0 495.1h0M118.2 491.4h0M131.2 483.0h0M117.6 490.2h0M111.2 490.4h0M115.7 494.6h0M106.6 450.9h0M115.9 494.8h0M116.7 492.8h0M112.6 482.6h0M108.9 479.8h0M120.2 472.8h0M108.6 472.8h0M122.5 474.0h0M114.7 494.0h0M115.5 495.6h0M114.4 494.4h0M112.5 487.0h0M129.7 473.1h0M113.0 476.0h0M118.2 492.0h0M119.7 484.1h0M119.0 491.1h0M121.7 488.4h0M98.6 463.1h0M117.0 490.7h0M102.7 465.2h0M114.5 494.4h0M110.0 486.1h0M119.4 482.1h0M118.7 487.2h0M119.0 489.5h0M121.3 458.7h0M120.6 455.5h0M113.7 490.0h0M119.6 491.1h0M118.7 478.6h0M116.0 495.2h0M119.5 485.1h0M120.3 479.8h0M114.0 488.2h0M121.0 477.3h0M114.1 489.6h0M122.6 485.5h0M121.1 488.9h0M114.0 492.5h0M111.3 487.9h0M104.0 477.1h0M117.8 491.0h0M121.5 470.0h0M123.2 468.6h0M114.7 495.0h0M111.7 486.4h0M135.2 463.0h0M110.6 481.7h0M120.8 477.9h0M105.6 477.7h0M109.3 481.3h0M115.8 482.1h0M106.6 484.3h0M122.6 484.8h0M117.2 491.3h0M120.2 480.4h0M115.7 495.3h0M114.1 489.3h0M116.6 494.5h0M108.1 489.9h0M114.9 493.3h0M113.7 479.1h0M128.8 456.8h0M117.5 487.3h0M118.8 486.9h0M115.2 495.0h0M115.0 494.8h0M118.5 476.8h0M112.8 492.3h0M117.3 491.3h0M128.3 463.8h0M114.0 483.6h0M109.6 478.9h0M116.0 492.5h0M118.1 489.0h0M112.2 481.2h0M117.6 493.2h0M122.4 449.2h0M113.7 490.4h0M117.9 483.3h0M112.8 490.8h0M116.1 493.8h0M122.8 482.7h0M117.8 486.6h0M110.3 489.3h0M115.8 493.7h0M110.6 465.1h0M117.3 487.1h0M114.7 493.0h0M114.6 494.2h0M113.1 469.2h0M119.5 483.8h0M114.6 488.7h0M127.5 445.8h0M114.4 494.8h0M109.9 484.0h0M114.8 494.1h0M117.2 490.6h0M120.3 458.4h0M110.3 462.3h0M115.1 495.4h0M114.6 493.4h0M114.8 494.4h0M98.9 439.7h0M111.3 491.4h0M110.9 490.2h0M88.1 445.0h0M117.4 487.7h0M115.5 495.8h0M110.6 475.9h0M120.7 487.6h0M116.8 492.4h0M106.2 481.2h0M115.5 495.6h0M132.5 481.1h0M114.0 493.9h0M116.2 494.9h0M116.3 493.8h0M101.0 476.2h0M118.0 478.9h0M108.8 474.7h0M115.4 495.8h0M114.3 490.7h0M113.7 486.5h0M114.8 493.8h0M108.3 477.9h0M119.3 486.9h0M114.5 492.6h0M113.8 493.0h0M113.5 487.2h0M114.7 494.6h0M110.1 475.7h0M113.8 481.9h0M114.8 493.4h0M113.9 489.0h0M119.4 486.8h0M116.4 491.0h0M118.8 479.3h0M118.6 483.3h0M87.5 456.0h0M118.2 493.3h0M118.3 483.7h0M110.4 453.3h0M124.9 477.9h0M119.6 475.5h0M113.8 491.6h0M112.8 491.2h0M115.3 495.6h0M116.0 495.1h0M117.2 492.9h0M119.8 474.0h0M111.5 488.2h0M128.6 434.0h0M133.6 463.8h0M125.3 470.6h0M116.8 486.4h0M121.6 487.1h0M118.6 476.0h0M119.4 489.8h0M115.5 495.5h0M118.0 489.2h0M106.9 478.9h0M105.5 459.0h0M112.4 488.1h0M107.8 484.2h0M114.6 492.5h0M116.9 489.9h0M130.5 476.1h0M108.7 466.8h0M66.5 463.8h0M120.2 486.2h0M110.2 458.5h0M109.5 488.7h0M123.4 437.7h0M109.4 477.9h0M110.9 479.9h0M109.4 473.8h0M121.8 482.9h0M116.7 493.7h0M97.1 462.0h0M96.2 465.9h0M115.6 495.6h0M119.1 481.6h0M114.3 493.1h0M120.2 490.4h0M113.5 491.8h0M115.5 495.7h0M116.2 494.2h0M120.4 484.5h0M125.9 484.6h0M89.6 415.4h0M120.8 481.4h0M114.4 493.7h0M115.1 495.5h0M114.5 494.8h0M111.3 490.0h0M116.1 494.7h0M112.3 482.7h0M109.8 482.6h0M132.3 475.9h0M78.2 470.4h0M118.2 482.0h0M113.1 490.9h0M111.5 477.5h0M114.9 494.7h0M120.2 467.3h0M118.2 482.4h0M98.7 443.5h0M111.0 484.8h0M128.1 456.2h0M115.9 492.4h0M118.5 489.0h0M115.5 495.2h0M125.3 487.1h0M130.3 464.6h0M109.7 483.4h0M113.4 481.7h0M113.1 491.9h0M113.2 488.1h0M120.3 486.7h0M116.5 494.2h0M123.9 461.3h0M120.3 477.4h0M111.1 487.0h0M116.0 495.4h0M114.6 493.5h0M117.3 493.8h0M115.4 495.9h0M113.1 491.7h0M115.6 495.8h0M116.3 488.4h0M115.9 494.6h0M117.4 493.7h0M112.7 490.2h0M116.0 494.8h0M116.1 493.0h0M116.7 494.6h0M121.0 445.6h0M117.7 479.2h0M112.2 484.3h0M114.7 495.0h0M123.8 483.1h0M119.5 490.9h0M116.6 494.8h0M121.8 478.0h0M114.1 493.8h0M111.7 471.5h0M115.5 495.6h0M116.0 489.9h0M110.0 489.3h0M102.5 473.6h0M109.6 461.2h0M109.3 482.1h0M108.5 457.6h0M102.1 464.6h0M120.5 474.3h0M111.4 485.0h0M120.8 467.4h0M127.1 469.6h0M119.9 483.1h0M117.3 490.2h0M120.1 465.3h0M118.4 486.5h0M114.2 493.2h0M112.6 485.2h0M118.3 485.1h0M122.2 475.3h0M104.0 485.6h0M115.0 493.6h0M121.7 476.5h0M101.8 460.3h0M111.2 487.4h0M118.3 474.5h0M115.8 495.2h0M112.4 481.0h0M114.4 468.3h0M124.4 477.8h0M115.0 495.1h0M113.8 479.6h0M122.6 481.5h0M116.6 490.0h0M118.0 486.5h0M106.9 468.7h0M111.4 480.0h0M119.0 487.8h0M128.2 475.7h0M112.2 487.9h0M121.5 486.2h0M104.7 461.2h0M116.3 493.6h0M112.0 491.7h0M116.9 490.1h0M118.1 491.9h0M117.5 491.6h0M111.8 489.0h0M121.8 481.9h0M122.1 490.9h0M102.7 439.3h0M108.5 487.4h0M121.4 476.9h0M118.4 488.7h0M111.9 461.7h0M116.0 494.2h0M118.5 467.1h0M119.5 489.5h0M116.3 491.9h0M114.1 488.3h0M118.4 489.3h0M121.2 478.8h0M121.1 482.7h0M117.0 490.1h0M118.3 485.3h0M118.6 486.0h0M121.0 484.0h0M110.3 487.5h0M109.7 487.0h0M112.4 487.9h0M120.9 485.8h0M122.2 483.4h0M111.6 493.0h0M115.2 495.3h0M116.8 495.1h0M121.8 475.9h0M115.5 495.6h0M117.7 487.3h0M112.0 488.9h0M114.4 488.9h0M113.8 490.1h0M108.5 483.5h0M122.5 466.4h0M119.3 491.5h0M122.9 462.8h0M109.4 481.4h0M119.1 485.9h0M113.3 479.7h0M107.3 477.3h0M130.6 461.6h0M114.9 494.9h0M119.3 489.8h0M120.2 489.9h0M117.5 489.5h0M119.1 489.7h0M124.9 474.8h0M126.1 483.8h0M117.0 474.9h0M117.2 492.1h0M111.1 487.7h0M123.9 469.7h0M120.5 488.0h0M131.6 478.7h0M111.9 486.8h0M113.1 480.6h0M118.9 485.2h0M116.4 490.0h0M115.6 495.2h0M110.7 482.3h0M113.4 492.9h0M115.4 495.8h0M115.4 495.9h0M112.8 489.6h0M109.6 469.6h0M112.9 491.7h0M111.7 475.0h0M113.9 493.3h0M104.8 478.9h0M120.8 488.4h0M113.0 491.4h0M127.8 465.6h0M112.2 485.4h0M111.1 479.4h0M114.9 491.3h0M114.1 487.0h0M119.2 485.7h0M128.1 457.9h0M121.6 475.9h0M113.2 485.1h0M114.9 494.5h0M120.3 482.4h0M116.8 487.7h0M112.9 491.6h0M119.1 468.6h0M107.6 486.9h0M122.1 483.2h0M118.4 490.4h0M123.4 487.3h0M117.7 486.6h0M116.4 494.2h0M113.0 491.9h0M103.0 473.2h0M123.1 465.8h0M118.0 487.1h0M114.3 494.2h0M104.8 466.2h0M113.0 469.9h0M114.3 493.9h0M113.6 493.4h0M114.6 493.2h0M122.5 474.2h0M116.9 491.0h0M115.8 494.2h0M108.5 476.1h0M108.4 469.5h0M115.6 495.3h0M117.4 492.8h0M113.2 489.8h0M109.8 485.8h0M113.9 490.9h0M121.6 480.6h0M103.8 478.1h0M110.1 491.8h0M123.9 480.9h0M105.2 466.4h0M100.7 485.9h0M121.6 482.9h0M148.4 441.1h0M106.6 468.1h0M114.3 485.1h0M134.9 433.7h0M104.1 454.9h0M112.9 490.9h0M113.9 489.2h0M130.1 474.4h0M114.6 494.5h0M133.7 442.6h0M118.9 479.3h0M114.7 492.5h0M138.7 424.0h0M113.0 481.0h0M121.5 490.4h0M121.8 455.5h0M118.6 485.1h0M109.7 452.6h0M111.1 480.3h0M116.8 493.1h0M118.4 494.2h0M94.0 430.4h0M143.0 472.4h0M96.8 455.5h0M120.7 478.2h0M112.5 484.4h0M116.1 494.7h0M118.4 493.0h0M116.0 492.3h0M120.4 480.4h0M118.2 484.0h0M110.1 480.6h0M114.2 491.7h0M121.1 467.9h0M112.1 487.7h0M117.1 492.6h0M118.8 492.0h0M107.4 470.1h0M120.2 475.0h0M109.4 486.1h0M124.8 476.2h0M114.2 494.4h0M115.6 494.8h0M121.8 488.2h0M116.8 483.3h0M119.5 485.7h0M115.2 495.6h0M113.2 492.5h0M113.3 490.9h0M111.9 477.7h0M123.9 487.2h0M116.3 494.4h0M113.3 490.0h0M116.4 493.0h0M107.7 482.8h0M117.3 489.3h0M114.6 494.1h0M116.3 495.0h0M116.8 494.0h0M127.0 445.0h0M118.3 478.2h0M117.7 477.1h0M114.7 492.4h0M120.3 483.1h0M113.3 486.7h0M112.3 490.4h0M115.3 495.2h0M116.5 489.2h0M117.5 483.7h0M107.7 483.8h0M118.1 485.2h0M123.3 485.7h0M111.4 484.4h0M114.2 484.2h0M114.9 494.9h0M115.3 495.4h0M114.9 495.0h0M110.9 481.2h0M122.2 473.8h0M113.1 485.4h0M113.0 484.9h0M115.9 490.8h0M117.1 487.4h0M108.1 448.8h0M131.0 479.7h0M111.1 490.3h0M123.0 479.4h0M116.8 489.3h0M112.3 478.9h0M113.0 486.5h0M118.6 487.0h0M110.2 488.7h0M106.6 489.0h0M114.8 489.5h0M112.1 489.5h0M109.1 460.4h0M110.3 480.3h0M122.7 481.8h0M111.5 489.5h0M116.7 490.0h0M117.3 491.1h0M118.1 481.1h0M114.5 494.4h0M119.5 490.3h0M114.7 493.3h0M138.4 433.0h0M116.3 492.0h0M116.1 494.8h0M107.0 487.3h0M123.3 435.5h0M110.1 479.6h0M118.5 491.4h0M115.6 495.2h0M113.3 484.6h0M120.5 493.2h0M114.9 495.1h0M126.0 446.0h0M127.0 447.0h0M116.7 489.6h0M116.5 492.9h0M123.1 464.3h0M118.1 477.9h0M106.7 484.7h0M124.9 471.2h0M115.4 495.8h0M111.9 487.8h0M111.7 488.5h0M120.0 484.0h0M136.0 453.3h0M117.4 492.3h0M117.6 490.7h0M113.3 491.0h0M119.3 469.7h0M121.3 486.1h0M114.9 493.8h0M132.7 480.0h0M118.4 482.3h0M115.8 494.5h0M114.0 484.0h0M118.8 490.5h0M118.6 485.0h0M115.8 493.9h0M113.6 481.9h0M115.9 494.2h0M107.2 482.6h0M116.8 494.4h0M115.1 495.1h0M119.1 480.3h0M115.4 495.8h0M109.0 450.2h0M114.3 494.4h0M116.3 494.2h0M115.0 494.6h0M121.5 474.1h0M115.3 495.4h0M116.5 491.7h0M116.0 493.6h0M116.0 494.8h0M122.1 481.2h0M104.9 459.4h0M120.7 482.8h0M124.6 477.8h0M122.7 487.5h0M108.3 488.5h0M113.3 478.4h0M116.4 494.8h0M108.9 468.6h0M107.7 470.4h0M111.9 491.6h0M112.6 491.8h0M114.4 491.0h0M118.1 485.3h0M115.2 495.7h0M100.3 455.2h0M117.5 482.0h0M122.1 484.3h0M100.6 451.1h0M117.2 484.8h0M93.9 457.8h0M114.9 493.5h0M116.3 489.8h0M117.3 492.6h0M113.0 481.1h0M113.1 491.8h0M114.2 486.2h0M107.0 449.8h0M108.6 475.8h0M116.0 494.2h0M120.7 489.0h0M117.0 489.3h0M120.6 484.7h0M114.9 494.5h0M114.6 493.6h0M116.0 494.6h0M107.6 466.5h0M102.0 451.7h0M112.0 482.5h0M128.2 443.8h0M117.8 486.1h0M114.3 489.7h0M106.7 476.9h0M107.2 480.0h0M113.2 492.3h0M121.2 486.3h0M114.3 494.1h0M124.9 463.8h0M114.6 494.9h0M113.6 492.7h0M113.9 489.4h0M122.3 478.5h0M111.1 487.9h0M120.1 491.4h0M116.3 488.2h0M115.1 495.3h0M116.5 490.5h0M113.7 490.8h0M109.9 478.6h0M119.5 477.7h0M112.3 486.6h0M106.2 472.5h0M119.4 479.1h0M114.6 494.8h0M117.9 489.1h0M113.5 488.8h0M119.6 487.7h0M117.6 488.6h0M107.7 486.0h0M117.7 492.2h0M111.7 488.1h0M100.9 477.8h0M104.2 460.2h0M101.7 482.4h0M113.9 489.9h0M113.4 483.7h0M118.0 474.9h0M115.2 495.6h0M117.8 489.9h0M108.8 478.1h0M114.9 494.6h0M118.9 486.7h0M109.9 478.2h0M117.2 492.3h0M117.8 492.9h0M115.6 495.2h0M97.3 457.7h0M116.8 490.9h0M102.3 482.7h0M122.9 472.4h0M121.2 487.1h0M135.8 455.8h0M123.3 477.2h0M119.7 477.9h0M121.1 479.3h0M111.1 488.9h0M120.9 478.5h0M111.1 480.2h0M117.6 491.2h0M123.0 486.7h0M110.3 484.9h0M119.3 465.2h0M115.9 494.3h0M124.6 474.9h0M119.1 490.9h0M112.1 486.2h0M109.1 475.8h0M107.2 472.8h0M114.8 493.8h0M117.3 489.3h0M116.9 491.0h0M106.3 477.7h0M111.8 482.2h0M116.0 494.2h0M118.4 487.5h0M124.2 478.6h0M115.6 495.2h0M114.3 480.2h0M116.0 494.9h0M115.4 495.9h0M119.4 481.6h0M114.9 493.5h0M133.2 485.6h0M114.8 494.5h0M117.6 490.9h0M113.3 489.6h0M119.9 485.0h0M115.0 494.5h0M115.5 495.0h0M117.8 486.9h0M117.4 478.2h0M118.2 476.8h0M113.1 492.0h0M113.6 493.9h0M110.5 488.9h0M128.5 483.0h0M127.9 475.1h0M114.3 490.1h0M126.6 479.7h0M133.9 483.8h0M113.2 489.7h0M107.4 488.2h0M114.3 492.5h0M117.0 494.3h0M111.9 470.5h0M124.5 491.1h0M104.3 433.0h0M121.6 475.2h0M111.8 488.5h0M117.1 490.0h0M106.7 454.3h0M111.8 482.7h0M111.2 488.1h0M114.4 493.4h0M113.7 445.3h0M138.3 467.5h0M115.1 494.6h0M115.8 495.1h0M115.8 494.8h0M115.1 495.3h0M116.5 491.6h0M133.9 464.5h0M118.6 491.1h0M118.1 489.2h0M116.6 490.0h0M116.3 494.3h0M120.5 468.8h0M116.3 494.4h0M121.9 491.6h0M103.8 478.0h0M110.0 477.7h0M113.4 492.0h0M120.1 479.7h0M122.7 476.4h0M114.2 487.4h0M118.9 488.6h0M101.3 477.0h0M108.4 479.5h0M130.5 473.0h0M114.5 492.5h0M117.1 490.5h0M122.8 486.4h0M117.5 490.8h0M116.6 492.6h0M115.8 495.3h0M120.3 483.2h0M118.8 492.0h0M116.0 494.8h0M112.4 486.2h0M115.2 494.7h0M117.9 490.8h0M107.9 486.4h0M117.2 494.2h0M112.0 484.2h0M123.3 479.8h0M120.4 466.6h0M126.1 455.2h0M116.0 491.7h0M120.6 485.8h0M113.9 491.2h0M117.3 488.0h0M120.3 482.3h0M119.5 482.2h0M113.3 493.4h0M115.2 494.8h0M116.8 492.0h0M122.1 472.2h0M114.6 492.4h0M118.8 493.7h0M109.3 483.9h0M115.4 495.9h0M122.9 484.3h0M122.6 480.8h0M107.1 457.6h0M118.1 488.3h0M119.1 479.6h0M121.8 485.0h0M112.1 491.9h0M115.5 495.7h0M120.5 465.3h0M115.8 495.5h0M115.3 495.4h0M109.9 486.5h0M111.5 484.9h0M109.6 490.9h0M101.8 472.0h0M122.0 470.1h0M117.4 489.7h0M120.0 475.9h0M115.9 495.7h0M116.0 491.7h0M117.6 490.5h0M100.4 475.7h0M112.8 488.5h0M122.5 470.6h0M120.2 482.6h0M113.9 493.2h0M116.2 490.7h0M108.0 467.4h0M115.0 495.1h0M116.3 493.4h0M133.9 477.7h0M119.0 474.4h0M127.2 478.9h0M108.5 456.9h0M92.1 403.9h0M116.7 488.4h0M120.1 485.1h0M113.8 492.8h0M115.0 494.9h0M114.8 490.2h0M116.6 491.3h0M115.3 495.7h0M114.7 494.7h0M109.8 491.2h0M114.7 491.8h0M117.6 491.1h0M119.2 484.1h0M119.9 462.2h0M109.1 488.6h0M119.7 490.2h0M114.3 492.6h0M114.3 486.7h0M118.3 486.3h0M90.9 477.2h0M113.6 490.1h0M120.8 468.4h0M113.1 491.1h0M116.5 495.0h0M118.6 493.0h0M115.1 495.3h0M120.8 480.6h0M114.3 492.7h0M114.9 495.2h0M109.5 481.9h0M114.3 494.9h0M113.9 492.9h0M118.1 481.5h0M114.1 494.7h0M114.3 472.2h0M118.6 484.4h0M116.9 489.8h0M124.2 474.3h0M111.5 483.0h0M121.9 488.3h0M107.4 474.4h0M107.9 471.4h0M104.6 492.8h0M128.0 462.8h0M113.2 479.3h0M126.7 441.6h0M113.4 490.6h0M113.7 486.4h0M139.4 458.7h0M108.3 484.6h0M119.0 469.2h0M107.6 482.3h0M110.9 485.5h0M114.6 494.2h0M118.9 489.6h0M114.2 486.5h0M107.0 459.1h0M120.8 427.9h0M115.0 494.4h0M111.2 444.8h0M108.9 471.2h0M111.5 489.3h0M118.6 484.4h0M115.3 495.5h0M127.0 471.5h0M105.8 467.7h0M122.0 488.5h0M116.4 494.7h0M116.4 493.5h0M119.3 487.9h0M117.3 474.5h0M111.9 489.5h0M116.9 492.5h0M118.5 489.0h0M117.9 487.3h0M93.4 451.6h0M113.7 491.2h0M115.1 494.8h0M116.3 493.0h0M122.7 462.8h0M121.9 479.2h0M111.9 486.9h0M117.7 481.6h0M122.8 474.1h0M111.4 485.0h0M113.4 490.8h0M117.9 481.8h0M116.6 481.6h0M113.6 480.3h0M111.4 479.4h0M113.2 489.0h0M117.1 489.6h0M108.5 450.2h0M118.8 479.4h0M114.1 492.6h0M113.6 488.7h0M114.1 492.5h0M118.2 489.5h0M115.9 493.1h0M111.4 482.4h0M119.1 484.9h0M113.6 488.4h0M112.6 492.0h0M127.1 456.1h0M110.1 478.5h0M110.2 473.5h0M117.1 493.7h0M116.3 492.5h0M118.5 489.3h0M120.8 470.4h0M113.6 489.8h0M121.4 460.7h0M118.1 478.2h0M115.2 495.4h0M118.2 487.5h0M115.9 493.7h0M105.8 487.9h0M115.4 495.9h0M114.5 491.4h0M109.9 478.5h0M120.4 477.1h0M124.1 468.0h0M120.3 478.7h0M118.1 483.6h0M112.8 491.0h0M117.9 486.0h0M120.5 484.1h0M107.1 478.9h0M119.9 470.1h0M113.9 489.1h0M116.4 488.5h0M109.7 486.8h0M110.2 470.9h0M111.3 477.1h0M114.2 491.5h0M123.7 479.7h0M110.2 479.5h0M134.4 463.0h0M119.8 468.1h0M114.8 492.8h0M119.7 468.4h0M114.0 492.4h0M117.0 491.9h0M114.3 494.4h0M117.3 492.3h0M114.6 493.7h0M116.7 491.2h0M118.3 488.7h0M120.5 479.1h0M115.1 494.5h0M109.5 475.4h0M111.4 488.6h0M109.9 478.6h0M112.9 494.0h0M111.0 482.9h0M105.3 466.4h0M113.9 491.3h0M116.4 488.7h0M113.0 488.4h0M116.9 494.7h0M107.9 477.7h0M117.2 492.1h0M114.0 492.4h0M116.0 494.8h0M121.6 482.3h0M121.2 463.2h0M115.8 493.9h0M118.8 490.7h0M107.2 455.3h0M130.2 464.2h0M111.6 482.6h0M115.5 495.7h0M114.2 493.3h0M113.2 493.0h0M101.4 456.2h0M118.1 486.6h0M116.8 490.8h0M115.3 495.3h0M120.0 489.1h0M123.9 470.6h0M111.7 478.7h0M113.1 490.9h0M112.9 488.7h0M116.0 492.5h0M108.1 461.4h0M117.4 477.9h0M116.3 492.6h0M122.1 487.9h0M114.9 493.6h0M117.1 493.1h0M117.0 483.6h0M115.2 494.8h0M107.1 456.3h0M124.5 469.3h0M113.3 481.3h0M113.4 490.4h0M114.5 492.6h0M117.7 492.3h0M111.4 488.0h0M107.0 480.4h0M108.0 485.0h0M116.7 489.8h0M117.7 485.0h0M114.6 493.3h0M112.3 492.0h0M115.4 495.8h0M117.2 480.5h0M116.7 493.3h0M121.9 475.4h0M113.4 493.2h0M116.8 493.4h0M115.2 494.8h0M123.4 481.3h0M115.4 495.9h0M129.1 473.4h0M114.7 493.4h0M110.2 478.5h0M115.0 493.2h0M112.5 481.9h0M114.2 494.3h0M117.5 483.2h0M115.9 493.4h0M116.2 492.2h0M116.1 491.5h0M121.8 491.1h0M113.3 493.5h0M114.9 494.6h0M112.5 473.5h0M102.6 479.0h0M117.2 490.8h0M114.3 492.2h0M114.6 494.9h0M112.4 488.6h0M110.2 463.7h0M110.8 488.5h0M120.2 471.2h0M118.5 494.5h0M124.0 473.9h0M118.8 482.6h0M116.9 486.3h0M115.9 493.7h0M114.7 489.0h0M117.3 494.3h0M123.2 479.0h0M120.3 472.6h0M116.2 494.1h0M98.6 440.7h0M120.7 476.1h0M108.2 484.1h0M115.3 495.6h0M122.6 474.9h0M109.4 479.3h0M126.4 484.9h0M121.2 445.7h0M117.9 491.7h0M123.9 466.7h0M122.0 482.5h0M115.8 495.3h0M112.3 478.3h0M115.0 494.8h0M114.1 491.3h0M109.9 463.0h0M126.1 471.4h0M115.6 495.8h0M114.0 493.3h0M114.3 490.7h0M113.1 487.6h0M103.7 422.6h0M108.0 479.4h0M118.9 475.0h0M117.0 494.5h0M129.0 479.9h0M115.8 493.7h0M114.6 492.7h0M112.1 488.0h0M117.2 491.1h0M112.5 491.5h0M114.1 491.2h0M116.1 494.7h0M133.4 488.2h0M137.2 460.6h0M116.6 491.0h0M120.4 464.8h0M135.6 484.0h0M109.8 489.9h0M121.4 490.1h0M108.5 489.6h0M118.0 488.7h0M117.2 487.4h0M127.5 461.0h0M114.1 493.3h0M115.0 493.9h0M111.2 482.1h0M105.2 482.2h0M114.1 485.6h0M113.1 494.2h0M115.4 495.9h0M118.0 486.6h0M114.4 485.9h0M118.8 484.3h0M116.6 493.5h0M116.9 490.1h0M123.5 488.7h0M104.6 449.9h0M113.1 488.3h0M115.9 494.9h0M113.8 490.4h0M118.0 492.3h0M112.5 485.2h0M116.6 491.3h0M117.7 492.9h0M119.1 482.6h0M116.9 479.6h0M114.6 494.7h0M118.6 491.4h0M110.4 488.8h0M123.8 476.6h0M109.9 455.9h0M115.6 495.5h0M117.9 490.9h0M130.9 450.1h0M117.2 490.9h0M118.7 488.4h0M158.6 430.7h0M111.3 477.7h0M107.7 464.6h0M118.0 489.2h0M118.0 480.6h0M128.7 443.0h0M113.8 489.8h0M117.7 487.9h0M124.7 445.9h0M119.9 484.3h0M112.1 492.7h0M116.0 493.1h0M115.7 494.8h0M109.5 485.9h0M111.3 485.7h0M111.6 463.2h0M114.6 493.2h0M112.4 491.2h0M78.6 441.8h0M105.4 478.9h0M121.6 478.6h0M112.8 489.2h0M114.7 493.6h0M114.6 493.1h0M109.1 484.8h0M113.8 490.8h0M116.2 494.6h0M108.5 483.7h0M121.1 485.9h0M118.7 450.5h0M109.4 462.9h0M116.1 494.4h0M113.5 494.3h0M111.8 486.6h0M118.8 488.3h0M116.2 494.6h0M121.0 484.4h0M115.1 494.6h0M115.9 492.9h0M113.4 491.9h0M112.1 489.2h0M116.0 493.6h0M97.6 476.6h0M117.0 494.9h0M126.5 458.7h0M113.8 491.8h0M113.4 491.3h0M115.4 495.8h0M118.7 472.6h0M108.0 479.8h0M112.8 475.3h0M112.2 481.1h0M116.4 494.5h0M100.9 431.2h0M118.3 489.0h0M99.3 451.0h0M112.9 476.2h0M111.9 490.4h0M112.1 484.9h0M104.6 446.9h0M111.1 485.1h0M112.4 492.1h0M115.4 495.8h0M116.2 490.5h0M111.7 490.5h0M125.4 472.2h0M91.9 459.2h0M122.0 489.6h0M117.1 493.4h0M117.0 493.4h0M117.3 490.3h0M107.3 486.8h0M119.5 477.8h0M110.7 486.9h0M118.1 490.8h0M105.2 475.6h0M111.1 485.1h0M109.7 486.7h0M115.7 495.0h0M116.6 492.4h0M115.0 494.7h0M113.5 491.4h0M111.2 476.1h0M108.5 485.7h0M113.2 488.5h0M113.2 487.3h0M119.6 460.1h0M117.9 487.3h0M113.6 489.4h0M116.6 493.0h0M121.4 481.0h0M115.4 495.3h0M111.1 488.3h0M119.4 492.5h0M117.7 478.3h0M112.9 489.4h0M114.6 489.7h0M132.7 455.8h0M109.1 459.7h0M113.8 493.3h0M113.3 492.8h0M120.1 483.8h0M138.1 446.1h0M120.8 487.2h0M109.4 481.4h0M109.1 481.7h0M115.5 495.7h0M112.4 478.9h0M112.4 486.3h0M113.0 478.8h0M99.9 479.0h0M115.8 494.1h0M147.1 479.5h0M118.1 491.3h0M119.9 484.2h0M108.7 475.3h0M119.3 483.6h0M112.7 491.2h0M109.9 484.0h0M124.4 449.6h0M116.8 494.1h0M121.5 477.9h0M113.7 492.2h0M122.6 482.3h0M133.6 447.7h0M116.6 489.8h0M106.3 462.2h0M108.4 482.5h0M121.7 473.6h0M112.7 481.7h0M115.4 495.8h0M116.1 494.5h0M116.8 493.4h0M118.4 487.9h0M136.2 476.4h0M115.6 495.2h0M124.3 476.9h0M114.9 494.3h0M116.6 494.5h0M109.5 478.6h0M121.0 484.6h0M107.7 478.4h0M117.3 485.7h0M87.1 462.9h0M118.6 489.5h0M117.1 490.7h0M114.0 482.9h0M116.9 488.7h0M99.4 485.6h0M120.2 484.2h0M114.2 494.0h0M113.1 480.7h0M111.8 491.9h0M121.0 481.8h0M115.6 495.0h0M120.7 485.2h0M103.0 484.2h0M119.2 451.3h0M109.3 486.3h0M114.6 493.9h0M103.9 477.6h0M110.6 489.0h0M110.4 487.6h0M116.2 495.0h0M117.8 487.0h0M112.6 478.9h0M116.7 494.2h0M116.5 492.5h0M112.1 492.6h0M111.0 481.0h0M117.2 482.8h0M119.9 488.7h0M115.5 495.6h0M109.3 487.7h0M109.8 469.0h0M113.5 484.0h0M110.6 469.3h0M111.5 488.0h0M117.1 492.2h0M110.0 483.9h0M112.6 493.6h0M114.4 492.0h0M113.9 494.1h0M94.6 463.8h0M110.8 481.5h0M112.9 490.8h0M109.7 477.4h0M118.8 482.2h0M114.9 495.4h0M108.0 461.8h0M118.1 488.0h0M115.0 494.7h0M119.0 485.5h0M114.4 491.8h0M121.4 487.7h0M114.3 488.7h0M103.8 484.2h0M139.5 475.7h0M115.1 494.1h0M114.8 494.9h0M114.0 491.1h0M113.4 489.2h0M131.0 452.3h0M115.2 495.5h0M127.2 469.9h0M117.8 487.8h0M116.7 492.8h0M109.0 473.8h0M112.4 491.2h0M118.1 482.7h0M111.5 490.4h0M120.4 454.9h0M119.1 479.4h0M117.0 494.4h0M114.4 492.6h0M106.5 474.0h0M109.2 485.6h0M112.7 485.2h0M115.1 494.9h0M112.2 480.5h0M121.9 489.7h0M124.5 479.5h0M113.9 491.2h0M117.2 492.5h0M108.7 477.0h0M112.8 489.7h0M114.1 488.5h0M113.6 482.2h0M113.7 490.3h0M109.5 481.5h0M111.0 473.2h0M104.1 455.8h0M118.6 486.8h0M115.8 495.2h0M116.4 494.3h0M130.6 467.7h0M122.3 479.1h0M120.5 490.3h0M110.7 488.3h0M99.1 466.6h0M112.1 486.7h0M116.9 493.8h0M144.1 453.4h0M115.7 495.0h0M110.5 459.8h0M114.9 495.2h0M101.8 451.8h0M102.2 470.2h0M131.5 453.3h0M112.8 488.8h0M118.9 491.3h0M116.4 491.6h0M132.4 428.3h0M115.1 495.7h0M117.3 493.5h0M123.3 480.4h0M116.8 493.7h0M136.0 444.2h0M115.2 495.2h0M116.0 494.7h0M114.6 490.2h0M106.4 488.0h0M117.9 490.3h0M110.9 480.5h0M109.5 467.5h0M117.9 481.3h0M112.1 477.2h0M112.1 443.9h0M113.2 478.4h0M115.6 495.2h0M116.1 494.5h0M115.5 495.5h0M116.7 493.8h0M119.1 484.5h0M107.9 481.3h0M117.8 494.2h0M114.2 481.5h0M121.3 487.3h0M109.7 483.5h0M119.7 464.1h0M118.0 492.2h0M121.3 480.9h0M98.5 489.2h0M106.8 486.0h0M117.3 493.5h0M114.2 494.1h0M117.4 492.8h0M113.1 489.4h0M115.6 495.3h0M108.2 480.1h0M113.1 487.2h0M109.3 483.5h0M116.7 494.2h0M115.8 493.6h0M116.5 494.6h0M114.1 491.7h0M108.5 487.1h0M112.4 484.9h0M110.9 480.5h0M121.3 466.0h0M112.9 479.1h0M130.6 481.3h0M107.7 485.5h0M116.8 488.9h0M115.2 495.2h0M120.1 491.0h0M111.6 489.8h0M105.9 423.5h0M121.2 489.7h0M106.3 473.3h0M110.2 480.2h0M120.2 488.1h0M115.1 494.7h0M115.3 495.8h0M113.7 491.2h0M106.5 460.3h0M132.4 448.4h0M115.9 494.4h0M123.9 452.0h0M111.1 483.2h0M115.7 495.3h0M112.7 480.2h0M114.0 492.6h0M116.1 491.5h0M120.2 489.6h0M115.3 495.4h0M116.2 494.2h0M120.2 486.9h0M113.2 493.5h0M111.6 478.5h0M113.9 493.7h0M76.3 404.0h0M115.5 495.7h0M119.3 484.3h0M121.6 487.7h0M143.6 427.3h0M118.1 478.6h0M104.8 481.7h0M114.9 494.6h0M118.4 489.4h0M115.7 495.5h0M110.1 477.1h0M122.2 482.5h0M119.8 476.4h0M116.4 491.1h0M124.1 448.6h0M109.8 460.0h0M119.7 490.0h0M132.2 455.5h0M108.4 489.8h0M99.6 474.2h0M98.4 464.8h0M111.8 480.2h0M122.8 474.8h0M117.1 493.7h0M113.2 488.7h0M101.4 470.3h0M116.4 492.4h0M110.3 472.5h0M118.1 477.6h0M115.9 493.8h0M114.8 494.4h0M114.6 491.8h0M119.7 476.7h0M111.0 479.1h0M113.8 492.5h0M107.3 458.6h0M114.2 493.1h0M118.0 473.0h0M118.1 490.4h0M117.4 484.9h0M130.4 478.5h0M112.8 493.6h0M109.5 473.8h0M116.2 492.8h0M110.3 462.0h0M117.6 484.1h0M115.0 493.8h0M119.1 481.5h0M119.0 488.1h0M115.2 495.4h0M120.1 487.8h0M115.5 495.7h0M100.8 473.7h0M116.8 480.6h0M106.5 462.8h0M115.0 495.3h0M116.2 491.9h0M130.6 484.7h0M117.4 481.1h0M118.2 486.0h0M116.5 492.8h0M114.3 493.8h0M109.4 481.8h0M117.5 492.8h0M113.9 493.0h0M112.3 484.7h0M115.6 495.6h0M114.1 482.0h0M122.3 490.7h0M105.1 464.6h0M110.6 473.4h0M115.2 495.0h0M119.9 490.3h0M130.4 464.1h0M118.6 476.6h0M109.7 489.3h0M116.9 492.3h0M115.3 495.7h0M116.9 489.9h0M116.8 492.9h0M118.8 477.3h0M124.6 483.5h0M111.6 481.1h0M112.3 491.0h0M115.5 495.8h0M116.6 487.5h0M115.4 495.8h0M116.4 494.6h0M116.4 489.8h0M119.3 491.5h0M120.3 485.9h0M112.8 492.9h0M116.3 492.6h0M117.3 488.0h0M119.8 467.8h0M117.7 478.5h0M127.7 468.4h0M115.2 495.5h0M115.9 494.9h0M117.9 487.3h0M111.1 492.4h0M101.9 485.5h0M112.4 487.5h0M113.3 490.0h0M115.5 495.5h0M78.4 436.4h0M106.9 461.4h0M104.1 458.6h0M113.1 490.5h0M122.7 474.2h0M117.3 494.1h0M113.0 493.9h0M125.0 479.6h0M129.1 481.2h0M114.3 493.0h0M119.7 452.7h0M117.9 481.3h0M108.8 486.6h0M117.9 488.9h0M126.6 477.5h0M113.5 491.6h0M114.4 493.7h0M105.4 471.4h0M112.6 490.4h0M121.6 482.5h0M115.9 494.4h0M124.3 469.2h0M114.5 492.1h0M124.9 436.0h0M114.0 494.1h0M103.4 469.3h0M116.3 477.0h0M124.9 460.3h0M104.3 476.3h0M120.5 482.1h0M115.2 495.1h0M106.3 459.6h0M114.2 491.2h0M111.2 483.8h0M114.6 494.9h0M118.6 469.9h0M114.6 491.9h0M116.6 494.8h0M122.7 476.0h0M118.3 485.3h0M137.7 474.5h0M106.9 474.7h0M111.0 486.7h0M143.3 456.7h0M114.0 484.8h0M119.4 485.2h0M114.6 493.5h0M116.4 494.3h0M116.2 494.0h0M95.8 444.2h0M120.1 491.7h0M115.1 495.2h0M112.9 485.2h0M108.6 470.6h0M118.3 459.4h0M110.6 475.0h0M117.4 492.9h0M115.8 492.9h0M134.2 475.1h0M129.8 454.2h0M132.0 427.4h0M117.4 491.1h0M116.6 491.7h0M131.0 473.6h0M119.1 486.1h0M121.5 459.1h0M112.1 485.9h0M115.3 495.6h0M123.4 473.0h0M117.2 492.5h0M123.5 477.6h0M116.0 495.2h0M122.0 484.5h0M111.8 489.4h0M80.5 437.9h0M114.6 493.4h0M122.6 482.1h0M123.6 474.5h0M114.2 487.1h0M111.4 488.6h0M115.2 495.1h0M111.5 441.5h0M116.7 484.9h0M115.3 495.5h0M114.5 487.8h0M114.6 493.3h0M112.3 486.6h0M111.6 485.4h0M110.5 482.6h0M116.2 489.0h0M108.4 470.2h0M112.0 473.7h0M127.0 464.9h0M112.9 490.2h0M129.0 478.6h0M114.1 491.5h0M113.3 475.6h0M132.6 463.1h0M128.6 477.7h0M116.4 494.1h0M110.7 485.8h0M110.2 478.6h0M125.2 480.6h0M118.9 489.9h0M130.3 451.8h0M115.4 495.9h0M117.1 488.4h0M125.3 417.5h0M112.2 486.3h0M118.4 487.4h0M124.0 477.5h0M106.5 479.0h0M111.7 488.4h0M114.6 495.0h0M116.3 490.3h0M116.7 487.4h0M104.9 478.0h0M113.5 492.9h0M117.7 488.7h0M122.4 483.0h0M111.5 487.0h0M111.8 480.8h0M116.0 495.0h0M110.4 478.2h0M113.9 493.7h0M109.5 471.3h0M123.4 485.5h0M111.0 465.6h0M132.4 437.8h0M109.4 473.7h0M118.1 483.3h0M119.9 456.6h0M120.1 492.4h0M119.9 476.4h0M123.1 484.9h0M119.9 483.1h0M104.4 478.7h0M113.6 479.9h0M122.4 474.6h0M109.4 488.7h0M119.6 479.9h0M116.2 493.8h0M115.1 494.9h0M112.1 454.8h0M117.1 489.0h0M103.6 480.9h0M113.4 489.3h0M114.4 495.1h0M114.3 493.6h0M109.8 416.7h0M109.0 471.6h0M116.6 493.9h0M117.0 492.3h0M102.8 451.1h0M117.5 488.1h0M111.9 492.5h0M110.7 474.5h0M126.1 465.5h0M111.3 491.0h0M119.7 489.3h0M114.2 493.5h0M111.0 482.7h0M114.9 495.5h0M115.6 495.4h0M118.9 488.9h0M111.7 486.5h0M111.7 484.1h0M111.2 482.8h0M122.6 484.1h0M114.2 493.2h0M104.8 468.3h0M112.7 491.9h0M113.6 493.3h0M116.7 490.5h0M110.4 488.2h0M104.1 471.0h0M115.2 495.2h0M102.9 438.9h0M116.0 488.5h0M116.6 493.5h0M116.2 490.5h0M114.4 489.8h0M113.7 490.0h0M114.0 486.0h0M121.4 471.6h0M118.7 492.4h0M111.3 490.1h0M114.7 494.1h0M120.4 491.2h0M110.6 477.6h0M115.0 494.8h0M118.3 488.9h0M116.9 492.2h0M115.1 495.3h0M113.8 486.4h0M114.5 494.8h0M110.2 482.4h0M118.2 477.7h0M114.7 490.0h0M118.9 478.9h0M108.6 469.2h0M114.3 490.7h0M119.9 471.2h0M117.8 491.9h0M114.8 491.5h0M118.0 493.1h0M105.0 490.8h0M118.9 472.5h0M108.5 487.7h0M112.4 493.0h0M112.6 485.3h0M115.1 495.7h0M124.4 483.8h0M116.0 495.0h0M116.7 494.0h0M130.3 453.7h0M116.2 495.3h0M116.8 491.2h0M118.4 487.2h0M123.5 477.3h0M103.7 446.2h0M110.1 484.3h0M112.5 492.9h0M118.6 470.0h0M116.5 494.4h0M112.3 481.6h0M111.3 481.1h0M106.6 475.5h0M117.0 494.3h0M120.6 478.3h0M115.2 495.5h0M109.7 485.5h0M113.7 491.8h0M111.7 478.6h0M114.4 491.8h0M120.6 490.3h0M118.0 487.0h0M117.2 491.5h0M105.6 481.1h0M117.5 490.0h0M123.3 479.3h0M129.2 476.9h0M110.8 486.3h0M114.2 481.0h0M123.6 467.9h0M118.0 487.0h0M109.7 489.1h0M128.6 452.0h0M117.1 488.3h0M116.2 493.5h0M113.7 488.2h0M112.8 490.6h0M112.0 492.9h0M103.9 461.5h0M105.8 481.3h0M116.0 494.5h0M118.7 479.0h0M114.8 494.4h0M123.7 469.2h0M117.2 488.5h0M117.2 493.3h0M130.2 478.1h0M117.0 492.6h0M117.3 491.0h0M120.9 467.3h0M110.8 491.2h0M115.1 495.3h0M127.4 470.7h0M124.2 453.5h0M105.5 465.5h0M117.4 490.1h0M118.7 477.5h0M115.3 495.3h0M115.4 495.6h0M118.1 488.1h0M117.3 488.7h0M111.4 486.7h0M109.5 462.9h0M112.2 486.8h0M118.4 489.8h0M125.1 482.0h0M118.7 475.9h0M103.0 428.4h0M121.7 480.2h0M112.5 488.7h0M112.3 485.0h0M115.2 494.8h0M115.1 494.6h0M110.4 482.0h0M126.7 483.2h0M120.2 480.6h0M117.7 489.6h0M113.7 490.5h0M118.8 489.8h0M113.2 475.7h0M121.2 488.1h0M118.0 492.4h0M120.0 473.0h0M122.0 480.8h0M113.6 479.3h0M104.7 474.3h0M120.5 476.2h0M108.4 486.4h0M114.9 491.5h0M116.0 493.6h0M116.2 495.2h0M110.1 478.8h0M114.9 495.5h0M122.8 469.5h0M120.2 488.1h0M110.6 479.1h0M111.4 479.0h0M114.7 485.9h0M113.4 493.7h0M117.4 492.2h0M108.5 476.4h0M116.9 494.2h0M113.6 493.7h0M114.5 494.5h0M115.5 495.8h0M135.1 473.9h0M116.9 492.3h0M113.3 467.8h0M115.8 495.0h0M112.4 468.0h0M113.9 494.4h0M117.3 487.1h0M111.9 491.8h0M111.9 493.0h0M103.5 462.0h0M123.1 464.9h0M125.0 470.6h0M110.3 452.6h0M118.3 486.7h0M116.6 489.6h0M135.6 481.5h0M110.0 483.8h0M122.9 471.4h0M115.6 495.3h0M112.7 482.6h0M111.1 490.3h0M119.9 489.1h0M106.8 471.5h0M119.1 471.2h0M115.1 494.6h0M111.9 485.8h0M114.2 488.7h0M123.9 461.6h0M115.0 495.5h0M106.4 457.8h0M115.5 495.3h0M120.3 487.7h0M112.2 485.6h0M120.7 474.3h0M114.5 494.2h0M109.3 476.9h0M123.7 485.9h0M103.0 488.4h0M108.8 477.2h0M115.2 495.4h0M121.1 485.6h0M111.8 479.1h0M119.6 484.4h0M117.0 493.9h0M119.1 489.4h0M115.3 495.7h0M116.2 495.2h0M110.9 491.8h0M107.8 481.7h0M112.1 486.4h0M117.2 490.9h0M107.5 476.4h0M106.2 465.6h0M125.8 481.1h0M120.4 489.0h0M117.8 492.5h0M120.8 486.0h0M124.0 456.4h0M111.5 488.8h0M111.3 489.9h0M112.0 486.8h0M117.7 475.7h0M107.2 482.6h0M109.0 488.4h0M113.4 492.2h0M106.7 478.2h0M117.9 492.1h0M133.6 456.4h0M119.6 460.9h0M117.5 490.4h0M117.5 493.9h0M111.7 488.0h0M98.8 487.1h0M110.5 471.3h0M117.0 494.6h0M117.7 468.9h0M114.4 489.5h0M112.6 489.3h0M126.6 485.7h0M117.4 481.3h0M117.3 493.6h0M117.9 488.4h0M115.5 495.8h0M106.8 466.3h0M116.6 492.1h0M109.2 475.4h0M121.5 487.5h0M118.9 493.0h0M119.2 486.0h0M97.7 465.2h0M110.9 483.7h0M107.1 476.9h0M122.4 466.7h0M104.8 458.4h0" stroke="#c8c8c8" stroke-opacity="0.35" stroke-width="1.6" stroke-linecap="round" fill="none"/>
<path d="M112.1 473.1h0M114.8 488.7h0M117.1 489.3h0M110.8 471.3h0M122.1 464.2h0M112.2 492.4h0M114.5 483.5h0M115.7 494.2h0M116.8 492.4h0M115.9 493.3h0M111.7 467.6h0M115.5 495.9h0M123.5 385.2h0M113.0 470.4h0M115.2 494.8h0M111.7 478.6h0M119.0 452.8h0M115.2 495.9h0M118.2 478.8h0M116.7 486.7h0M118.5 483.9h0M114.3 490.9h0M116.2 492.3h0M114.5 487.2h0M119.3 487.3h0M119.7 477.5h0M116.8 493.7h0M115.7 491.6h0M116.8 492.8h0M104.3 475.5h0M116.1 493.8h0M113.5 481.4h0M119.6 476.0h0M117.8 469.5h0M116.9 476.0h0M113.1 480.9h0M117.5 463.7h0M115.9 486.2h0M123.6 483.1h0M113.8 480.7h0M124.2 427.5h0M119.7 463.4h0M114.4 485.5h0M120.6 467.5h0M112.3 454.6h0M113.4 488.3h0M117.3 483.5h0M116.1 494.5h0M113.8 489.3h0M124.6 462.0h0M114.9 489.3h0M117.3 493.4h0M115.5 483.7h0M115.6 493.6h0M84.4 461.8h0M115.8 487.6h0M115.5 494.4h0M112.9 442.5h0M116.7 460.6h0M118.6 481.5h0M113.8 485.4h0M112.2 485.6h0M120.1 445.8h0M112.7 479.2h0M109.4 456.1h0M120.0 482.4h0M113.4 484.9h0M113.8 476.1h0M115.2 495.8h0M119.5 467.4h0M116.4 473.3h0M117.1 484.2h0M117.2 491.5h0M107.4 444.9h0M114.3 484.1h0M118.7 481.4h0M115.0 487.3h0M116.4 487.1h0M116.1 493.0h0M114.8 482.6h0M117.9 476.6h0M115.6 494.6h0M114.8 491.5h0M120.9 460.4h0M115.0 493.2h0M113.7 486.3h0M113.9 484.3h0M110.1 477.3h0M114.7 492.5h0M115.9 494.8h0M115.1 494.2h0M116.7 480.8h0M113.3 472.1h0M118.6 476.4h0M118.1 466.5h0M115.5 483.2h0M112.1 480.5h0M109.7 473.1h0M114.6 490.6h0M112.5 454.7h0M120.7 489.1h0M114.9 491.5h0M108.2 480.2h0M112.5 484.7h0M112.4 461.3h0M115.3 495.7h0M115.4 493.6h0M120.1 464.7h0M112.2 462.2h0M109.2 471.3h0M116.4 490.5h0M118.3 473.7h0M114.6 483.6h0M113.7 477.2h0M116.6 473.5h0M124.6 452.3h0M113.7 487.1h0M114.8 492.6h0M117.3 474.2h0M116.6 477.6h0M114.7 494.3h0M112.9 492.8h0M115.1 494.3h0M117.7 484.0h0M113.3 481.9h0M119.5 471.2h0M115.6 495.5h0M116.4 485.7h0M111.9 482.1h0M119.8 479.0h0M115.0 495.9h0M115.4 493.4h0M114.2 487.5h0M117.1 469.5h0M116.6 482.9h0M113.4 487.7h0M116.3 485.0h0M124.5 445.0h0M116.2 490.4h0M119.4 461.9h0M116.2 488.6h0M115.2 488.9h0M116.7 485.9h0M108.9 447.8h0M110.9 459.3h0M115.5 495.6h0M115.5 493.2h0M114.6 490.8h0M117.0 492.5h0M107.4 423.8h0M124.4 436.9h0M116.5 490.5h0M112.9 477.5h0M114.5 494.8h0M117.4 489.6h0M112.8 478.4h0M115.5 493.8h0M112.7 475.9h0M113.9 485.3h0M110.4 485.4h0M114.3 494.6h0M109.7 457.6h0M117.0 460.8h0M110.9 461.9h0M115.0 495.1h0M119.4 480.1h0M114.4 481.1h0M119.5 431.9h0M114.1 485.3h0M114.2 493.4h0M115.0 488.7h0M114.9 495.6h0M115.5 495.4h0M115.9 493.4h0M114.8 495.8h0M113.4 491.0h0M118.8 467.5h0M114.6 491.0h0M123.5 439.4h0M119.1 479.9h0M115.2 492.5h0M114.9 491.3h0M113.2 488.1h0M113.9 477.3h0M115.3 495.4h0M117.2 492.1h0M106.4 460.6h0M112.1 491.7h0M123.4 450.1h0M117.2 489.1h0M110.7 434.6h0M107.3 476.2h0M114.3 490.6h0M113.5 483.7h0M113.7 488.8h0M116.3 488.5h0M113.9 480.9h0M102.5 473.5h0M115.9 495.1h0M118.9 468.6h0M113.4 488.8h0M113.7 474.2h0M115.4 495.7h0M134.6 412.9h0M116.2 491.4h0M117.3 477.7h0M115.1 490.9h0M116.1 483.7h0M112.3 483.3h0M116.7 481.3h0M116.9 489.7h0M111.8 471.0h0M113.5 485.5h0M113.6 481.2h0M112.6 487.6h0M112.3 437.9h0M123.7 459.7h0M115.5 493.5h0M114.9 491.6h0M114.8 490.7h0M117.6 484.4h0M112.2 464.6h0M110.1 478.6h0M115.6 491.0h0M118.3 445.4h0M113.5 487.9h0M114.4 490.3h0M113.7 482.2h0M112.7 486.6h0M117.8 487.1h0M116.1 491.1h0M111.8 476.3h0M116.9 487.2h0M115.4 493.9h0M118.3 467.7h0M114.9 491.4h0M116.3 491.2h0M104.9 442.7h0M120.6 478.2h0M114.3 487.1h0M111.6 459.3h0M118.5 487.9h0M112.2 472.7h0M108.8 463.9h0M116.6 485.6h0M108.1 467.0h0M117.4 468.8h0M114.3 493.0h0M113.9 489.0h0M109.8 398.5h0M116.4 492.1h0M125.5 424.5h0M120.1 476.7h0M112.8 486.8h0M113.2 452.0h0M116.0 494.6h0M116.1 494.2h0M114.5 490.5h0M119.9 483.5h0M118.7 474.6h0M114.6 494.3h0M114.8 489.4h0M114.6 485.2h0M117.2 484.3h0M112.7 474.1h0M120.9 401.7h0M117.8 475.6h0M117.5 471.4h0M116.3 491.7h0M117.8 485.3h0M114.2 445.8h0M121.4 473.0h0M120.4 453.3h0M110.0 464.3h0M114.8 494.8h0M116.0 494.2h0M116.4 488.4h0M112.3 478.6h0M115.5 491.8h0M114.6 491.6h0M114.4 491.7h0M115.9 490.7h0M111.0 479.5h0M116.0 486.8h0M116.6 485.3h0M115.3 495.0h0M114.7 478.3h0M115.7 493.4h0M114.0 486.8h0M117.6 481.6h0M110.5 475.0h0M116.6 485.9h0M117.6 473.5h0M112.8 481.4h0M116.0 492.3h0M111.3 467.9h0M116.5 485.3h0M116.7 490.8h0M114.9 491.7h0M114.8 488.8h0M115.3 493.5h0M116.7 487.3h0M110.9 472.2h0M114.6 493.5h0M117.4 481.3h0M120.3 473.4h0M111.6 456.7h0M110.8 473.1h0M116.7 478.0h0M120.0 480.1h0M118.0 473.8h0M109.1 453.4h0M114.8 489.5h0M115.5 490.9h0M106.2 476.4h0M122.7 482.1h0M124.1 467.5h0M114.7 491.4h0M117.9 421.3h0M109.2 472.8h0M111.1 488.7h0M119.0 471.0h0M114.8 490.8h0M116.6 494.4h0M114.4 489.5h0M113.8 467.0h0M115.7 495.2h0M119.5 477.2h0M113.9 487.9h0M115.1 494.8h0M114.9 493.8h0M112.6 489.0h0M112.2 478.5h0M112.0 477.0h0M106.6 389.9h0M113.3 459.8h0M112.1 448.5h0M115.6 493.5h0M114.8 494.2h0M110.2 443.3h0M115.3 495.8h0M114.9 493.3h0M113.6 478.7h0M116.1 489.0h0M113.9 491.3h0M118.3 490.9h0M113.9 478.5h0M118.5 482.0h0M113.2 449.0h0M120.0 478.1h0M115.5 495.5h0M117.4 482.3h0M116.9 466.6h0M116.5 487.8h0M121.8 444.2h0M127.0 476.4h0M113.4 485.8h0M122.4 441.2h0M115.9 489.1h0M115.6 494.7h0M118.0 490.2h0M121.6 450.9h0M115.9 494.3h0M112.5 474.2h0M114.7 483.5h0M116.1 494.3h0M115.3 493.9h0M115.7 485.9h0M111.1 478.2h0M113.4 481.4h0M117.5 470.3h0M130.5 468.0h0M111.7 475.3h0M115.1 495.2h0M115.6 495.8h0M116.1 490.1h0M114.6 493.1h0M121.0 449.4h0M109.7 461.5h0M117.9 464.4h0M112.6 469.6h0M118.1 475.6h0M110.7 450.6h0M111.5 476.1h0M115.4 494.6h0M115.2 489.6h0M115.8 490.5h0M119.1 475.0h0M114.2 492.5h0M114.3 481.0h0M116.7 492.8h0M115.7 494.4h0M115.2 494.2h0M116.4 479.7h0M115.9 493.6h0M118.2 485.5h0M114.1 481.4h0M124.1 470.3h0M117.0 491.1h0M120.0 471.3h0M118.1 479.9h0M116.9 488.5h0M111.3 459.2h0M115.5 495.3h0M117.5 484.9h0M115.0 491.3h0M115.8 491.2h0M116.6 485.0h0M115.5 494.8h0M115.5 492.9h0M113.8 487.2h0M114.8 494.0h0M114.6 493.4h0M120.3 471.5h0M116.1 482.3h0M117.2 473.8h0M116.4 493.5h0M119.1 475.0h0M116.4 492.8h0M121.4 478.4h0M116.1 489.9h0M115.6 492.6h0M115.4 495.6h0M116.6 485.1h0M115.0 493.8h0M117.1 489.9h0M115.6 494.0h0M115.5 494.6h0M123.1 455.6h0M118.4 464.4h0M113.8 487.5h0M115.7 494.2h0M113.5 490.5h0M114.8 494.1h0M115.3 493.1h0M117.1 488.2h0M112.8 482.8h0M114.6 488.3h0M116.1 495.2h0M115.3 493.2h0M116.8 482.6h0M110.2 449.2h0M114.8 472.5h0M114.2 488.2h0M112.9 481.1h0M116.4 491.1h0M114.7 494.6h0M118.4 486.1h0M115.3 495.6h0M119.2 481.6h0M114.9 490.8h0M115.3 493.4h0M118.7 480.2h0M115.7 490.6h0M114.5 491.3h0M115.7 494.3h0M114.9 494.6h0M115.6 477.9h0M112.3 482.1h0M114.2 487.0h0M112.3 481.5h0M122.0 453.3h0M116.2 493.0h0M117.5 481.2h0M116.8 487.8h0M116.5 485.8h0M118.2 472.4h0M115.9 489.6h0M112.2 470.1h0M112.4 485.2h0M107.1 474.0h0M117.4 466.4h0M119.1 454.7h0M116.7 474.4h0M113.5 487.9h0M112.6 472.8h0M114.2 492.3h0M115.3 495.4h0M121.0 472.4h0M116.8 485.0h0M122.6 477.6h0M115.3 492.9h0M115.7 492.2h0M113.4 484.4h0M110.9 482.2h0M113.1 463.1h0M115.4 491.0h0M109.9 463.0h0M114.8 491.3h0M115.0 494.1h0M116.4 488.4h0M113.6 479.6h0M119.2 415.6h0M116.8 489.3h0M113.3 491.1h0M115.4 495.7h0M112.9 476.2h0M116.8 486.9h0M114.0 493.3h0M110.3 475.1h0M115.0 490.0h0M114.1 488.3h0M116.6 485.3h0M115.6 495.5h0M114.1 488.7h0M114.3 487.7h0M113.8 488.6h0M115.6 494.5h0M115.6 487.9h0M117.4 491.2h0M112.9 478.1h0M111.0 480.2h0M114.3 483.8h0M134.5 434.6h0M109.0 456.2h0M113.3 486.9h0M115.8 492.2h0M118.3 471.2h0M117.2 485.5h0M115.2 495.5h0M115.2 490.1h0M119.0 477.2h0M116.9 489.6h0M114.4 491.9h0M115.6 493.7h0M115.1 491.6h0M114.0 478.6h0M117.6 477.1h0M117.0 484.7h0M116.3 488.8h0M115.2 495.3h0M113.8 487.8h0M113.3 486.7h0M115.7 495.1h0M111.5 431.5h0M119.1 448.8h0M131.5 435.8h0M118.8 476.6h0M115.0 493.8h0M121.2 465.6h0M117.2 490.8h0M115.0 495.5h0M114.0 490.1h0M109.3 468.4h0M112.9 471.2h0M117.4 472.4h0M114.4 488.4h0M115.7 489.3h0M114.5 492.7h0M114.1 483.6h0M115.3 488.5h0M116.5 486.9h0M114.6 492.8h0M126.3 474.8h0M113.9 484.7h0M106.7 473.2h0M116.0 491.3h0M114.9 495.7h0M114.9 495.8h0M116.3 491.3h0M114.4 492.5h0M116.6 487.7h0M116.5 494.8h0M114.2 469.5h0M115.6 493.9h0M116.9 491.4h0M116.9 472.4h0M116.3 490.1h0M114.9 462.2h0M119.9 471.2h0M117.0 475.0h0M118.5 468.1h0M113.4 489.5h0M114.3 487.4h0M116.0 493.2h0M112.4 477.5h0M117.5 471.6h0M118.5 488.6h0M115.1 495.0h0M119.7 479.9h0M108.4 460.5h0M115.7 487.2h0M110.8 481.3h0M118.6 470.8h0M111.8 489.8h0M111.1 479.1h0M115.2 495.2h0M115.7 494.5h0M105.6 435.1h0M118.0 465.7h0M114.3 489.7h0M114.9 489.5h0M115.7 482.5h0M111.3 485.7h0M117.6 483.1h0M117.2 475.4h0M117.9 449.6h0M115.8 493.4h0M112.8 482.2h0M100.6 473.8h0M118.0 478.7h0M112.4 471.8h0M118.2 478.4h0M119.5 482.2h0M116.7 492.9h0M117.1 483.6h0M118.6 484.8h0M113.4 475.1h0M115.6 493.4h0M121.6 483.9h0M118.9 448.0h0M115.5 494.2h0M121.7 469.6h0M120.5 475.6h0M115.9 492.1h0M114.9 495.2h0M114.7 492.2h0M116.6 477.0h0M116.1 492.4h0M113.0 489.4h0M111.7 475.2h0M111.1 450.1h0M121.7 477.6h0M110.1 463.0h0M116.3 489.3h0M117.7 428.3h0M118.6 478.9h0M118.5 491.0h0M112.5 488.0h0M106.6 458.1h0M109.9 441.5h0M116.3 488.6h0M112.3 485.0h0M115.8 494.3h0M122.1 455.0h0M115.9 489.5h0M115.4 495.0h0M116.4 486.7h0M115.8 495.9h0M115.5 495.2h0M112.8 443.3h0M117.4 478.6h0M113.7 478.0h0M116.3 476.9h0M116.5 490.3h0M117.3 483.4h0M116.2 486.3h0M131.7 466.1h0M115.8 489.9h0M119.9 459.2h0M121.4 462.3h0M115.4 490.3h0M115.7 494.3h0M113.8 485.8h0M114.8 494.9h0M107.6 422.6h0M115.7 493.3h0M114.3 479.4h0M117.6 486.3h0M113.7 490.8h0M114.8 486.5h0M116.8 491.6h0M112.4 444.1h0M116.0 478.7h0M123.6 466.6h0M115.6 495.4h0M114.0 477.6h0M115.9 495.2h0M121.4 471.1h0M119.0 475.1h0M116.9 489.3h0M114.9 486.1h0M115.8 488.6h0M113.0 487.6h0M115.0 493.0h0M117.8 461.6h0M121.4 458.2h0M116.9 476.2h0M112.4 425.2h0M114.5 487.3h0M115.1 495.8h0M126.4 454.7h0M113.2 475.0h0M118.4 489.0h0M115.8 494.0h0M113.8 485.5h0M114.7 490.7h0M105.3 470.6h0M115.5 491.2h0M115.3 489.2h0M115.2 494.6h0M115.6 493.4h0M114.9 493.4h0M117.6 482.2h0M114.6 493.4h0M112.6 490.2h0M113.9 479.5h0M113.2 473.0h0M116.5 494.5h0M116.9 483.5h0M115.5 494.6h0M120.8 474.4h0M113.9 482.2h0M133.6 430.1h0M115.1 493.3h0M114.8 492.5h0M117.5 482.0h0M114.7 492.7h0M119.6 471.7h0M114.1 493.9h0M114.2 490.6h0M115.2 494.6h0M113.7 486.0h0M113.5 478.8h0M112.6 471.8h0M114.9 493.2h0M112.1 483.3h0M106.0 478.2h0M117.1 466.0h0M115.2 494.1h0M114.1 477.7h0M115.2 493.8h0M117.3 489.3h0M110.2 453.9h0M115.7 484.6h0M114.3 493.9h0M116.6 490.9h0M106.4 421.5h0M114.2 489.4h0M116.3 494.0h0M113.2 481.3h0M113.5 479.2h0M116.2 492.7h0M118.1 475.3h0M116.0 494.6h0M119.1 473.4h0M116.3 492.2h0M116.6 482.2h0M116.4 491.9h0M117.7 483.1h0M99.2 422.3h0M122.5 485.6h0M114.3 490.4h0M113.7 459.0h0M112.8 487.2h0M114.8 480.9h0M118.3 474.5h0M116.1 492.8h0M120.8 487.8h0M115.5 487.7h0M120.7 478.9h0M114.9 493.2h0M117.3 474.0h0M114.9 491.4h0M112.3 491.5h0M116.1 492.4h0M115.0 493.1h0M116.2 482.1h0M115.7 494.8h0M115.2 494.3h0M112.0 486.8h0M114.0 488.2h0M114.2 484.1h0M112.7 423.0h0M116.6 486.5h0M121.6 438.5h0M115.7 495.0h0M116.7 493.6h0M115.7 495.4h0M117.2 456.7h0M114.1 486.8h0M115.8 495.0h0M113.7 485.1h0M116.2 493.0h0M116.4 479.2h0M116.4 486.8h0M117.3 486.7h0M112.8 483.9h0M109.0 408.2h0M116.4 487.2h0M114.7 488.8h0M114.4 492.6h0M111.2 484.6h0M115.4 495.5h0M118.2 474.5h0M117.1 471.1h0M118.3 479.0h0M116.0 493.9h0M114.4 490.6h0M112.0 485.3h0M114.4 495.2h0M115.1 495.6h0M112.3 475.2h0M118.0 453.3h0M116.6 493.0h0M101.1 463.4h0M114.6 485.1h0M110.3 456.4h0M115.9 491.5h0M126.5 438.2h0M109.0 479.3h0M107.7 468.0h0M121.0 469.3h0M121.4 455.3h0M118.9 487.1h0M109.6 407.6h0M115.8 495.3h0M110.6 472.1h0M112.2 441.1h0M114.2 481.2h0M117.0 487.4h0M113.9 485.4h0M114.8 490.4h0M118.4 484.6h0M114.3 480.4h0M122.6 447.9h0M118.6 470.3h0M114.9 490.5h0M113.7 475.2h0M115.8 489.9h0M115.5 495.6h0M118.9 472.4h0M115.9 492.1h0M120.5 479.6h0M112.5 481.6h0M119.0 475.6h0M110.6 468.6h0M113.4 471.9h0M115.2 486.7h0M113.9 481.5h0M115.8 495.5h0M118.2 478.2h0M115.3 494.4h0M112.1 467.1h0M113.2 490.0h0M116.4 490.7h0M117.4 485.0h0M111.9 478.6h0M112.6 465.8h0M116.3 482.6h0M120.3 465.0h0M115.9 492.9h0M118.0 481.2h0M115.9 494.8h0M111.5 470.3h0M124.9 421.0h0M117.9 491.1h0M115.9 495.2h0M114.7 494.9h0M114.1 477.5h0M112.8 482.5h0M114.8 484.8h0M112.5 476.7h0M115.3 484.1h0M118.5 457.6h0M117.1 481.8h0M114.8 490.6h0M114.3 472.9h0M116.0 492.7h0M114.9 485.6h0M118.1 478.0h0M113.9 483.8h0M96.4 424.4h0M126.2 444.7h0M115.7 482.7h0M116.3 482.3h0M115.4 495.6h0M117.1 463.3h0M116.7 488.2h0M112.7 481.7h0M113.9 493.5h0M115.1 493.4h0M116.8 474.9h0M118.7 456.8h0M112.8 481.6h0M114.6 487.6h0M110.2 478.5h0M115.5 490.8h0M116.0 489.5h0M117.4 480.4h0M111.0 478.0h0M119.2 485.4h0M115.5 495.9h0M115.7 492.3h0M114.9 494.7h0M113.8 493.1h0M117.5 490.9h0M112.4 481.9h0M112.5 482.0h0M115.9 486.1h0M117.2 485.1h0M124.5 469.1h0M112.3 487.4h0M119.2 483.5h0M117.1 489.8h0M110.8 485.8h0M116.1 494.2h0M124.8 462.8h0M121.6 456.3h0M114.5 491.2h0M97.9 457.3h0M111.8 474.5h0M119.7 464.2h0M116.0 485.0h0M113.1 489.0h0M117.8 472.6h0M115.4 495.8h0M116.2 493.7h0M115.5 495.2h0M114.0 480.5h0M116.6 471.9h0M113.0 478.3h0M112.1 482.2h0M115.3 495.6h0M115.8 488.8h0M116.0 493.3h0M115.8 490.5h0M118.2 486.5h0M114.7 486.8h0M114.3 476.3h0M117.6 437.8h0M112.1 480.0h0M117.7 472.9h0M114.7 495.0h0M116.4 490.6h0M115.7 495.8h0M113.9 491.9h0M114.8 481.0h0M113.9 476.2h0M120.0 479.0h0M116.1 493.1h0M114.9 492.8h0M117.0 485.2h0M112.2 487.5h0M103.9 472.0h0M114.9 493.9h0M116.0 486.5h0M113.2 491.4h0M117.0 490.1h0M115.6 494.6h0M114.3 491.5h0M114.2 487.8h0M115.7 492.4h0M114.0 490.9h0M114.1 494.2h0M115.9 495.0h0M117.7 471.0h0M116.4 492.6h0M117.0 481.7h0M114.8 493.6h0M115.5 492.9h0M116.3 490.2h0M116.4 493.1h0M115.4 494.7h0M113.4 453.4h0M116.3 477.2h0M114.3 485.7h0M126.2 465.5h0M116.3 486.5h0M115.4 490.7h0M116.2 494.6h0M117.4 487.2h0M116.3 493.0h0M113.5 485.6h0M116.5 483.8h0M115.1 494.3h0M116.1 493.8h0M119.6 469.3h0M113.7 480.0h0M116.8 477.7h0M114.5 492.3h0M114.4 490.0h0M116.5 478.5h0M117.9 483.6h0M109.7 474.7h0M118.5 475.7h0M114.7 493.7h0M111.8 457.0h0M117.5 490.6h0M104.4 469.4h0M115.0 494.5h0M123.9 477.8h0M113.7 453.2h0M114.5 495.8h0M117.7 486.6h0M114.7 493.3h0M114.2 487.9h0M119.6 473.1h0M116.5 454.1h0M117.2 479.9h0M115.7 490.7h0M114.6 491.8h0M117.4 481.3h0M121.7 399.7h0M114.5 494.1h0M115.7 493.6h0M112.7 483.9h0M116.2 488.6h0M115.2 493.1h0M108.1 424.5h0M115.6 494.2h0M115.6 491.7h0M114.9 473.8h0M116.3 493.9h0M115.4 485.6h0M114.4 487.5h0M115.1 494.2h0M116.2 492.9h0M113.6 488.7h0M113.3 475.6h0M115.0 483.9h0M114.3 482.2h0M114.6 473.8h0M117.6 459.5h0M118.2 475.5h0M117.0 469.6h0M116.3 489.0h0M108.8 480.1h0M113.4 492.4h0M115.9 495.2h0M112.4 478.7h0M115.7 494.5h0M114.4 491.6h0M113.9 488.7h0M113.3 469.4h0M116.3 492.3h0M115.8 495.5h0M113.3 484.1h0M117.6 471.5h0M117.5 487.3h0M115.2 492.7h0M114.3 491.2h0M115.7 493.3h0M109.7 480.6h0M115.3 494.9h0M115.2 485.6h0M118.3 491.0h0M120.6 478.5h0M112.0 485.5h0M110.6 478.4h0M119.6 483.2h0M114.4 486.8h0M114.5 492.8h0M112.8 459.2h0M114.7 488.3h0M115.9 494.6h0M115.9 488.2h0M114.2 484.2h0M118.7 469.8h0M116.5 475.7h0M116.3 493.8h0M113.5 453.5h0M112.3 484.8h0M117.6 476.9h0M116.1 478.2h0M113.6 458.0h0M116.0 495.8h0M119.2 477.4h0M114.7 491.2h0M118.6 476.1h0M115.2 495.3h0M119.0 447.0h0M116.1 492.8h0M116.2 491.0h0M114.1 474.9h0M117.2 487.5h0M116.2 491.2h0M115.4 494.7h0M117.6 478.3h0M118.3 442.9h0M117.1 481.5h0M121.6 471.3h0M116.2 491.1h0M117.0 491.9h0M117.4 448.0h0M114.3 467.1h0M114.5 492.3h0M115.2 493.5h0M115.0 489.1h0M109.7 454.9h0M117.3 487.8h0M115.3 493.2h0M114.0 484.4h0M110.9 481.4h0M119.2 472.2h0M119.8 475.2h0M115.4 494.0h0M113.9 481.2h0M113.3 484.3h0M114.3 490.2h0M113.9 471.3h0M115.2 495.3h0M121.9 478.5h0M114.4 494.8h0M116.9 486.6h0M117.4 490.4h0M117.3 479.8h0M117.7 485.8h0M114.7 491.7h0M116.1 490.1h0M110.8 466.4h0M113.8 481.9h0M118.0 480.0h0M116.4 493.5h0M118.6 456.0h0M115.9 493.9h0M119.5 481.7h0M113.3 482.6h0M120.0 458.9h0M119.3 462.3h0M116.8 491.7h0M112.6 461.3h0M112.6 485.4h0M111.6 484.3h0M113.6 446.6h0M114.5 493.0h0M115.6 493.8h0M118.9 478.3h0M120.8 486.9h0M112.1 481.2h0M114.7 492.4h0M114.0 489.3h0M115.5 495.4h0M117.2 487.0h0M111.1 477.1h0M117.3 484.1h0M114.4 490.3h0M115.7 495.3h0M114.5 492.9h0M115.8 494.0h0M116.1 485.5h0M116.8 490.2h0M115.4 492.3h0M115.0 495.5h0M116.3 488.9h0M113.2 478.9h0M112.0 471.4h0M114.5 492.2h0M114.7 495.7h0M109.7 472.0h0M104.0 457.9h0M120.9 476.2h0M110.9 461.2h0M122.6 450.2h0M115.3 493.3h0M111.3 483.4h0M115.8 495.4h0M113.2 489.1h0M115.3 492.8h0M109.8 464.0h0M114.4 493.2h0M116.4 487.6h0M112.1 472.8h0M109.7 482.2h0M115.2 494.7h0M115.7 491.2h0M117.6 481.9h0M116.2 495.3h0M115.8 494.0h0M117.0 484.4h0M116.3 495.5h0M113.8 488.0h0M115.0 495.5h0M115.3 495.4h0M112.7 486.3h0M121.4 443.4h0M120.1 432.7h0M110.8 481.8h0M114.5 491.2h0M110.3 452.2h0M119.8 465.2h0M116.1 494.0h0M114.5 485.9h0M113.4 481.1h0M117.3 471.1h0M112.8 477.5h0M114.8 488.3h0M115.7 495.3h0M115.2 494.7h0M119.2 483.7h0M120.5 448.2h0M113.5 478.2h0M114.7 493.4h0M114.2 492.3h0M115.0 485.8h0M102.7 432.9h0M114.6 493.9h0M111.1 480.2h0M115.5 495.2h0M108.7 473.1h0M116.9 478.0h0M114.9 495.2h0M116.9 481.4h0M119.8 426.5h0M115.0 493.9h0M119.8 480.1h0M108.4 462.3h0M123.1 434.6h0M115.2 495.6h0M119.9 447.4h0M113.5 483.7h0M115.5 495.0h0M115.9 485.5h0M108.9 471.6h0M116.7 489.0h0M102.3 451.2h0M118.3 485.1h0M109.6 479.7h0M113.9 483.4h0M115.0 494.5h0M115.1 495.4h0M118.1 471.3h0M118.3 425.3h0M112.7 466.8h0M119.7 476.0h0M116.0 493.3h0M115.8 492.8h0M115.8 495.7h0M115.9 489.1h0M115.5 495.0h0M111.0 438.1h0M113.9 489.8h0M110.1 482.8h0M114.6 489.1h0M111.0 489.2h0M118.2 468.4h0M121.7 423.6h0M109.6 410.9h0M115.4 493.9h0M111.8 481.0h0M115.7 495.0h0M115.7 493.6h0M103.2 460.1h0M118.5 457.9h0M119.3 469.7h0M114.6 493.1h0M114.7 484.7h0M112.0 484.4h0M117.7 449.7h0M116.0 494.9h0M118.5 484.0h0M116.7 488.2h0M113.5 490.3h0M116.4 487.8h0M113.9 491.6h0M117.6 486.2h0M115.6 495.5h0M115.1 494.9h0M115.0 488.3h0M113.8 485.9h0M114.7 492.8h0M117.1 482.8h0M126.7 458.8h0M115.1 459.6h0M120.0 483.8h0M114.6 492.8h0M121.5 463.3h0M112.5 485.2h0M116.0 491.3h0M111.9 483.3h0M117.7 488.0h0M122.8 480.8h0M113.8 484.1h0M115.4 494.0h0M115.7 492.9h0M115.7 492.3h0M116.6 482.7h0M120.8 482.4h0M117.0 459.5h0M123.3 469.0h0M117.9 475.5h0M120.2 478.1h0M118.7 480.8h0M109.6 465.4h0M114.7 491.9h0M113.2 472.2h0M114.6 491.3h0M116.0 492.4h0M116.5 486.4h0M112.7 480.1h0M115.9 485.1h0M111.5 475.7h0M109.0 457.0h0M114.4 489.5h0M113.8 479.8h0M114.8 492.2h0M120.8 455.8h0M113.2 490.2h0M116.1 495.6h0M114.1 481.7h0M112.7 490.3h0M117.4 447.4h0M103.5 468.1h0M114.4 490.8h0M115.8 493.2h0M113.1 489.3h0M120.9 477.5h0M121.4 480.2h0M115.5 467.6h0M113.1 467.7h0M113.3 489.9h0M114.4 491.8h0M115.6 494.3h0M115.9 493.9h0M112.7 474.9h0M113.6 483.6h0M114.3 485.4h0M120.2 484.2h0M113.2 491.3h0M115.6 494.4h0M117.2 486.8h0M117.3 486.0h0M113.7 487.0h0M113.5 477.4h0M113.7 486.5h0M117.1 491.4h0M112.6 434.6h0M112.9 482.3h0M112.5 484.4h0M109.4 462.5h0M118.6 474.8h0M115.4 495.5h0M118.8 470.2h0M111.2 469.5h0M115.0 495.1h0M113.4 480.1h0M120.2 472.1h0M110.5 478.5h0M118.0 487.1h0M116.7 489.4h0M113.8 494.2h0M113.4 491.1h0M122.9 414.9h0M114.1 487.3h0M116.5 489.2h0M118.8 484.7h0M112.1 472.5h0M114.7 470.9h0M113.4 486.3h0M112.3 487.3h0M113.5 482.8h0M116.4 486.9h0M113.9 486.4h0M112.2 483.7h0M117.8 493.2h0M115.4 492.6h0M110.6 468.2h0M120.5 448.7h0M112.1 480.2h0M114.6 487.7h0M119.2 463.1h0M120.2 461.2h0M116.2 491.5h0M115.5 494.6h0M117.0 487.2h0M115.9 495.6h0M118.6 467.7h0M109.6 477.4h0M115.5 495.2h0M115.5 495.2h0M117.2 491.2h0M113.9 484.2h0M114.9 495.5h0M115.9 495.3h0M113.7 467.4h0M115.3 495.6h0M114.4 486.7h0M117.5 484.6h0M119.3 476.9h0M116.9 484.5h0M120.5 480.9h0M115.5 495.4h0M115.0 487.9h0M113.3 484.5h0M118.9 482.7h0M118.4 474.4h0M109.4 459.5h0M114.0 491.0h0M113.7 490.3h0M111.3 451.9h0M112.8 480.5h0M120.6 476.7h0M114.0 487.8h0M114.3 484.1h0M113.8 481.8h0M112.2 479.7h0M118.8 480.6h0M119.2 482.4h0M115.2 495.4h0M114.7 491.1h0M122.2 441.9h0M114.1 493.3h0M115.1 494.0h0M115.1 491.0h0M114.8 495.0h0M115.0 494.8h0M116.0 494.1h0M116.7 475.7h0M114.0 482.3h0M112.0 482.9h0M117.3 442.8h0M112.1 464.7h0M115.3 495.8h0M114.2 486.4h0M114.1 482.6h0M116.0 482.2h0M113.6 491.1h0M115.3 491.4h0M115.4 493.4h0M112.1 420.4h0M114.8 488.8h0M114.1 480.8h0M115.1 494.8h0M119.0 475.9h0M117.6 440.1h0M109.0 483.6h0M118.2 483.9h0M112.5 487.8h0M118.1 488.6h0M115.9 488.1h0M113.5 491.1h0M118.6 487.2h0M112.6 469.6h0M117.3 475.5h0M116.1 489.9h0M115.7 473.2h0M115.6 494.3h0M114.8 490.8h0M113.7 469.4h0M115.2 492.9h0M112.0 483.5h0M117.1 486.9h0M111.3 461.6h0M116.5 472.8h0M110.9 489.2h0M120.4 462.8h0M114.9 492.7h0M114.8 487.5h0M113.7 489.2h0M120.8 482.0h0M109.5 479.8h0M120.6 474.2h0M116.7 473.9h0M114.4 489.9h0M113.2 487.4h0M115.0 494.9h0M112.3 478.3h0M111.0 474.2h0M115.3 494.4h0M117.5 471.3h0M106.1 480.5h0M115.9 487.0h0M115.9 490.9h0M116.8 468.0h0M115.3 493.4h0M116.1 493.5h0M115.5 494.6h0M115.7 493.5h0M121.2 470.0h0M115.8 492.6h0M115.3 492.6h0M114.5 494.2h0M108.6 467.1h0M116.5 486.1h0M126.7 444.5h0M113.5 455.4h0M114.2 480.7h0M116.9 472.1h0M118.1 483.1h0M117.1 476.2h0M115.6 492.9h0M118.3 479.6h0M124.3 427.6h0M111.0 481.8h0M114.5 493.5h0M116.3 488.3h0M111.5 483.1h0M117.0 475.9h0M117.3 485.2h0M115.4 487.3h0M113.9 472.3h0M111.7 422.1h0M115.1 495.8h0M115.3 494.0h0M116.4 484.0h0M114.2 490.9h0M113.7 481.8h0M115.4 495.1h0M116.3 491.6h0M116.1 491.6h0M125.2 477.7h0M117.3 476.7h0M115.2 495.1h0M115.3 492.7h0M114.7 495.6h0M117.8 488.7h0M110.5 461.4h0M110.7 482.0h0M115.9 495.7h0M120.4 476.2h0M114.4 478.2h0M116.2 490.0h0M118.6 478.7h0M112.8 475.7h0M116.2 478.8h0M113.8 486.2h0M117.1 490.4h0M115.7 495.1h0M116.2 495.2h0M123.2 481.0h0M114.5 490.8h0M109.1 466.9h0M108.5 415.5h0M115.2 492.7h0M113.0 447.0h0M122.8 443.7h0M118.4 470.1h0M113.5 457.7h0M115.2 495.5h0M113.2 480.4h0M109.7 477.4h0M113.8 492.3h0M115.5 495.4h0M115.1 491.3h0M111.6 488.2h0M115.8 493.9h0M118.8 469.9h0M111.9 484.0h0M113.5 482.3h0M116.2 487.6h0M113.3 471.4h0M119.2 469.7h0M117.3 490.8h0M114.0 455.8h0M119.1 456.5h0M116.4 486.9h0M115.8 493.5h0M110.0 483.1h0M113.4 481.2h0M117.7 492.1h0M115.7 495.5h0M114.6 494.5h0M115.8 490.5h0M117.7 492.9h0M111.4 483.4h0M116.9 493.6h0M118.4 444.9h0M114.7 494.9h0M115.5 492.2h0M114.8 492.8h0M113.3 484.2h0M115.0 494.9h0M125.4 455.2h0M117.1 470.5h0M114.2 491.7h0M114.1 480.9h0M117.8 480.3h0M118.6 453.5h0M114.8 493.9h0M115.6 495.5h0M113.6 485.8h0M114.3 490.0h0M116.4 487.3h0M116.7 484.6h0M116.4 487.1h0M115.8 493.4h0M115.7 492.9h0M114.3 490.3h0M114.9 487.4h0M116.2 492.5h0M115.9 490.2h0M116.6 472.2h0M114.0 485.5h0M117.7 490.2h0M123.6 457.0h0M114.5 494.2h0M117.6 479.2h0M117.9 486.0h0M117.9 476.7h0M115.6 494.9h0M110.6 455.4h0M118.6 470.2h0M115.5 495.2h0M120.4 480.6h0M115.5 495.8h0M108.2 472.2h0M114.5 487.5h0M112.6 444.6h0M113.5 474.4h0M114.9 492.0h0M111.9 487.2h0M115.8 495.4h0M110.2 473.8h0M114.5 494.8h0M119.4 474.8h0M114.3 481.1h0M119.2 447.1h0M115.8 484.6h0M116.4 490.8h0M117.6 485.1h0M116.7 493.8h0M114.1 478.2h0M116.6 490.7h0M114.8 493.8h0M115.1 493.0h0M112.3 479.0h0M114.6 475.1h0M114.6 490.0h0M116.4 491.2h0M114.5 490.9h0M115.1 484.8h0M118.9 482.4h0M112.8 456.0h0M115.6 492.0h0M112.8 486.4h0M115.0 494.4h0M116.8 488.2h0M117.9 478.1h0M115.2 493.8h0M118.2 472.2h0M117.4 484.6h0M116.8 489.6h0M113.7 464.8h0M108.6 459.7h0M107.5 471.6h0M107.9 483.2h0M118.6 485.3h0M117.9 486.1h0M115.4 495.0h0M115.1 491.5h0M121.0 461.7h0M114.3 489.1h0M114.3 490.0h0M116.4 477.0h0M116.8 483.0h0M116.3 488.0h0M115.3 494.0h0M116.5 480.8h0M111.8 471.1h0M117.6 478.2h0M113.3 484.6h0M118.6 481.5h0M117.3 485.0h0M117.3 486.6h0M116.3 490.4h0M116.0 483.2h0M116.4 478.7h0M115.8 495.6h0M118.3 480.4h0M119.8 466.3h0M121.8 481.5h0M117.5 485.3h0M119.1 462.7h0M104.7 480.3h0M115.1 489.4h0M115.7 490.9h0M119.9 453.8h0M121.5 408.1h0M122.5 486.0h0M111.8 462.9h0M117.0 483.7h0M114.0 472.9h0M117.1 460.3h0M119.5 473.7h0M115.0 494.3h0M115.5 495.5h0M114.5 491.3h0M119.4 458.3h0M111.6 474.3h0M115.8 485.4h0M98.1 423.7h0M128.8 460.0h0M114.4 487.3h0M105.2 451.6h0M117.5 480.9h0M113.1 463.8h0M110.8 485.1h0M104.0 433.2h0M115.9 493.5h0M115.6 492.4h0M113.2 488.3h0M113.9 490.4h0M106.6 431.3h0M111.2 464.4h0M114.0 491.9h0M94.8 397.5h0M118.7 461.8h0M115.1 490.0h0M124.3 458.8h0M118.1 488.3h0M104.5 472.2h0M113.4 483.4h0M114.3 488.5h0M115.9 495.5h0M117.4 485.6h0M114.3 482.4h0M112.7 489.2h0M116.6 484.8h0M115.1 494.5h0M115.3 491.7h0M114.5 482.1h0M116.1 492.2h0M117.4 491.1h0M118.0 489.6h0M116.2 472.0h0M111.7 476.6h0M101.5 448.8h0M114.3 488.8h0M117.9 484.2h0M117.0 468.1h0M115.5 495.6h0M116.5 489.9h0M110.3 456.9h0M117.5 482.1h0M115.2 493.9h0M116.1 493.4h0M114.0 487.6h0M115.0 495.8h0M114.2 485.1h0M118.3 482.8h0M115.4 490.1h0M114.4 494.3h0M115.3 495.5h0M115.4 495.8h0M116.3 490.9h0M117.9 480.2h0M128.1 456.5h0M114.9 493.3h0M116.0 494.4h0M125.9 474.7h0M116.1 489.1h0M94.3 434.3h0M115.4 494.3h0M114.3 478.8h0M114.2 493.4h0M116.3 486.1h0M118.0 464.0h0M119.3 464.1h0M117.3 479.2h0M115.5 494.4h0M117.3 492.1h0M111.0 468.5h0M114.6 493.0h0M102.5 462.8h0M112.4 461.7h0M113.1 476.3h0M116.5 492.2h0M116.0 492.2h0M116.6 478.9h0M115.7 488.9h0M124.1 474.5h0M121.3 453.6h0M115.3 490.8h0M114.6 488.0h0M116.3 488.9h0M115.0 494.2h0M114.9 490.5h0M117.9 473.7h0M116.3 486.8h0M114.9 492.7h0M116.0 494.9h0M116.0 494.3h0M116.2 489.4h0M112.3 480.2h0M118.3 478.3h0M115.7 488.7h0M112.0 479.0h0M112.0 470.1h0M111.3 491.6h0M123.3 470.0h0M108.8 475.8h0M115.4 495.6h0M115.0 487.8h0M116.9 474.7h0M115.4 494.7h0M118.0 487.8h0M105.9 428.8h0M112.0 450.3h0M114.2 492.2h0M115.8 486.3h0M114.3 487.3h0M117.1 469.4h0M112.6 478.2h0M109.8 473.7h0M114.7 495.9h0M117.7 490.7h0M114.6 481.5h0M118.9 477.4h0M114.4 485.7h0M112.8 479.9h0M112.5 481.9h0M114.4 486.1h0M112.7 481.2h0M113.7 471.9h0M114.7 495.2h0M112.3 488.6h0M113.9 480.7h0M116.2 487.5h0M111.9 419.3h0M113.5 474.0h0M117.8 462.8h0M118.7 450.3h0M115.2 495.5h0M113.7 476.0h0M116.3 481.4h0M117.4 478.0h0M113.4 483.1h0M114.7 489.2h0M114.5 492.8h0M113.4 476.7h0M112.3 482.9h0M113.1 488.0h0M116.2 492.5h0M114.3 491.2h0M113.8 491.2h0M114.4 483.7h0M113.7 471.4h0M109.9 464.0h0M115.2 491.9h0M116.2 488.2h0M116.7 483.2h0M115.6 495.2h0M115.1 495.7h0M120.2 485.3h0M111.5 473.0h0M127.6 434.0h0M118.6 475.7h0M117.5 440.6h0M117.7 484.8h0M115.2 495.0h0M111.8 483.3h0M116.2 487.6h0M117.3 489.0h0M113.5 487.0h0M121.1 488.0h0M116.4 487.6h0M119.0 489.2h0M117.5 474.0h0M113.4 489.2h0M112.2 490.1h0M118.3 482.4h0M111.3 482.4h0M115.4 492.7h0M118.5 478.9h0M116.0 477.2h0M116.9 482.9h0M117.5 463.5h0M114.1 489.6h0M112.9 482.2h0M115.2 495.5h0M115.4 494.9h0M117.4 486.1h0M112.0 477.5h0M109.1 411.1h0M115.0 494.5h0M114.8 493.3h0M96.6 437.4h0M116.2 493.8h0M114.8 494.4h0M120.6 460.6h0M113.5 476.0h0M111.0 482.6h0M115.0 489.1h0M118.7 472.4h0M113.8 490.3h0M118.7 458.2h0M115.0 487.5h0M115.0 495.0h0M112.8 475.6h0M118.6 484.9h0M115.9 495.6h0M113.7 475.2h0M105.1 481.8h0M115.0 492.1h0M114.6 485.9h0M113.2 486.3h0M116.4 479.8h0M113.7 492.1h0M113.1 480.4h0M115.8 493.3h0M118.7 482.3h0M117.7 492.7h0M113.9 491.7h0M114.5 492.7h0M116.8 492.7h0M116.6 484.9h0M114.2 487.3h0M115.2 495.4h0M115.7 489.9h0M112.9 488.0h0M116.4 465.2h0M118.2 487.9h0M111.6 458.7h0M113.8 484.5h0M115.0 494.8h0M110.5 454.2h0M115.0 495.7h0M128.8 446.7h0M115.9 493.9h0M118.8 463.0h0M114.3 486.5h0M111.2 479.7h0M121.6 441.3h0M105.1 477.9h0M114.7 494.4h0M111.3 471.8h0M114.6 495.2h0M118.5 461.2h0M114.7 488.1h0M110.9 480.5h0M117.8 488.1h0M115.9 493.8h0M115.9 492.5h0M113.4 482.1h0M114.3 487.4h0M116.6 494.5h0M113.6 470.6h0M113.8 478.5h0M114.6 487.2h0M113.9 483.0h0M117.6 485.7h0M116.1 494.6h0M126.8 412.7h0M117.6 477.4h0M114.4 484.8h0M114.9 495.3h0M117.3 484.0h0M114.0 480.9h0M106.2 452.4h0M119.6 477.6h0M115.6 489.3h0M117.3 471.3h0M116.8 489.9h0M112.3 471.2h0M115.0 495.9h0M113.9 456.8h0M115.0 490.6h0M111.0 475.3h0M114.7 495.8h0M119.1 489.7h0M113.1 487.8h0M112.9 472.8h0M107.9 453.8h0M114.7 495.3h0M116.9 488.8h0M123.1 464.6h0M105.6 454.1h0M113.3 488.8h0M113.2 477.3h0M115.8 493.8h0M115.3 494.0h0M122.9 443.0h0M114.2 489.6h0M104.1 466.0h0M115.2 493.3h0M114.5 493.2h0M119.6 467.4h0M123.3 444.5h0M114.6 492.2h0M117.1 482.3h0M116.7 488.0h0M117.6 480.2h0M115.2 495.9h0M115.5 494.4h0M107.6 435.9h0M111.3 477.4h0M118.3 488.3h0M113.9 462.3h0M105.0 473.5h0M114.0 455.6h0M106.7 431.0h0M117.4 482.1h0M113.7 474.5h0M110.2 461.6h0M113.9 478.7h0M124.6 466.5h0M114.4 490.9h0M118.8 483.1h0M112.9 485.4h0M116.4 493.1h0M115.6 494.5h0M119.3 481.7h0M118.3 471.5h0M114.7 489.5h0M115.3 491.3h0M116.6 488.8h0M121.7 454.9h0M116.8 491.3h0M116.1 493.9h0M111.4 447.5h0M116.6 490.4h0M116.6 489.8h0M115.6 487.9h0M116.6 493.1h0M119.1 476.0h0M114.9 487.8h0M112.2 474.5h0M104.4 474.0h0M118.4 456.4h0M111.1 460.9h0M116.9 487.3h0M116.4 493.3h0M116.7 487.7h0M113.0 485.3h0M112.9 468.1h0M113.8 485.9h0M116.0 495.2h0M119.5 482.2h0M117.6 490.1h0M115.1 494.2h0M115.1 495.5h0M114.5 490.6h0M115.2 494.9h0M117.7 482.4h0M114.7 489.2h0M118.4 475.0h0M116.8 493.4h0M117.2 482.4h0M111.4 481.6h0M124.7 453.5h0M114.7 487.6h0M115.4 494.7h0M119.9 465.5h0M111.7 473.0h0M116.1 480.3h0M121.4 436.8h0M115.6 494.4h0M117.6 486.9h0M124.9 427.5h0M117.7 466.2h0M113.4 476.7h0M113.3 471.6h0M114.7 490.0h0M116.2 485.7h0M117.1 489.1h0M106.8 487.7h0M114.2 479.4h0M121.4 458.6h0M113.1 470.1h0M116.9 492.0h0M114.1 471.5h0M116.6 487.1h0M115.0 495.2h0M114.4 490.0h0M113.7 486.8h0M103.9 476.6h0M114.5 492.1h0M115.3 494.6h0M114.8 488.4h0M119.1 484.9h0M115.6 492.8h0M114.4 487.8h0M115.0 493.4h0M121.2 459.1h0M102.7 467.5h0M117.2 481.3h0M114.5 491.3h0M119.1 483.2h0M114.2 492.5h0M116.9 487.8h0M114.6 490.0h0M116.6 490.2h0M116.3 464.5h0M114.3 494.5h0M117.7 482.8h0M111.3 479.3h0M115.5 494.1h0M108.8 414.2h0M116.6 485.5h0M105.5 441.0h0M115.5 494.6h0M115.3 488.9h0M113.3 469.6h0M118.3 489.0h0M114.9 493.2h0M106.6 441.6h0M115.3 494.7h0M115.5 495.9h0M118.0 476.7h0M116.3 493.6h0M114.9 489.6h0M105.9 420.2h0M114.6 493.5h0M116.5 492.4h0M117.8 491.4h0M111.0 468.2h0M115.9 481.7h0M118.4 465.9h0M117.4 489.8h0M116.7 487.3h0M119.0 484.7h0M115.6 477.3h0M119.7 486.6h0M115.7 493.5h0M116.5 475.5h0M115.9 464.1h0M113.3 479.8h0M113.1 488.1h0M108.2 462.5h0M113.8 486.4h0M111.1 478.0h0M113.6 470.4h0M118.3 486.8h0M125.5 464.0h0M122.8 476.9h0M112.7 482.3h0M124.2 484.7h0M114.4 493.4h0M112.2 473.3h0M105.2 462.0h0M112.4 476.6h0M117.5 487.1h0M113.8 484.4h0M119.6 489.2h0M113.0 478.4h0M130.0 444.0h0M117.2 483.3h0M115.1 494.8h0M115.1 494.6h0M116.5 483.8h0M116.7 490.4h0M114.7 494.4h0M114.0 488.0h0M114.7 484.3h0M115.4 495.1h0M116.1 493.3h0M115.2 494.1h0M116.7 480.4h0M114.7 493.1h0M115.8 491.7h0M117.9 458.1h0M115.0 485.8h0M118.7 484.9h0M116.1 485.4h0M120.4 484.3h0M114.6 474.1h0M108.4 432.3h0M114.7 490.0h0M117.0 462.2h0M116.9 487.9h0M114.0 485.1h0M114.5 493.5h0M115.0 487.8h0M108.4 486.1h0M114.0 469.7h0M117.6 487.0h0M117.3 484.7h0M113.3 483.9h0M118.4 474.4h0M110.9 449.7h0M116.3 463.7h0M124.2 481.7h0M113.5 443.7h0M113.0 481.6h0M116.3 482.9h0M115.1 493.8h0M114.0 490.9h0M115.3 492.3h0M116.7 485.7h0M118.5 479.1h0M114.0 485.0h0M117.5 455.3h0M115.4 480.7h0M109.4 472.1h0M116.7 488.9h0M117.3 488.5h0M115.5 485.8h0M114.8 495.8h0M118.8 479.2h0M119.2 476.9h0M112.3 487.5h0M114.7 484.9h0M116.4 492.2h0M111.9 483.0h0M115.2 494.4h0M118.3 467.5h0M118.0 471.8h0M113.9 475.7h0M114.6 494.0h0M117.2 489.4h0M124.8 442.7h0M115.1 494.6h0M107.7 468.3h0M116.5 486.6h0M120.5 482.9h0M114.6 493.0h0M119.5 465.9h0M113.3 478.9h0M115.3 494.0h0M114.9 488.0h0M119.5 474.6h0M114.3 493.2h0M116.8 447.8h0M114.2 478.2h0M114.3 484.7h0M114.1 473.8h0M115.3 489.2h0M111.9 467.0h0M116.1 492.0h0M115.5 495.7h0M108.0 452.0h0M117.7 481.3h0M114.6 489.7h0M115.6 486.0h0M116.5 494.1h0M112.8 492.8h0M115.6 490.5h0M112.6 492.9h0M114.3 490.0h0M115.4 494.3h0M123.6 455.3h0M116.4 488.2h0M114.7 482.0h0M119.2 458.1h0M117.4 474.8h0M110.9 463.9h0M121.4 482.0h0M114.0 490.2h0M112.8 477.1h0M124.8 409.1h0M115.9 494.2h0M118.8 474.8h0M119.8 466.2h0M117.7 491.0h0M117.2 492.6h0M116.5 492.5h0M116.6 492.2h0M115.1 492.6h0M114.8 494.0h0M115.4 495.9h0M113.4 487.9h0M113.8 478.7h0M114.5 487.8h0M114.2 487.5h0M116.8 486.8h0M115.6 490.5h0M112.8 479.3h0M111.3 468.3h0M110.4 465.8h0M113.6 485.9h0M113.9 486.1h0M117.5 484.2h0M116.1 494.4h0M112.6 469.2h0M114.2 483.8h0M112.7 473.0h0M116.0 487.7h0M125.9 482.1h0M116.5 483.5h0M120.1 458.7h0M118.3 463.4h0M112.0 477.0h0M115.4 493.3h0M119.7 467.1h0M110.8 470.6h0M115.6 495.5h0M118.1 488.4h0M113.2 485.3h0M113.4 476.4h0M115.4 494.8h0M117.0 446.4h0M113.4 489.3h0M119.6 434.1h0M116.6 493.8h0M111.6 468.3h0M119.6 473.9h0M115.7 495.0h0M124.6 480.0h0M117.1 474.7h0M115.2 495.6h0M115.6 494.4h0M114.6 492.4h0M111.6 458.3h0M114.6 493.9h0M113.8 483.2h0M115.6 495.4h0M116.4 494.5h0M114.3 491.2h0M112.8 474.5h0M110.2 443.1h0M116.5 453.0h0M117.5 475.0h0M114.5 478.8h0M114.7 487.9h0M119.1 473.7h0M106.9 471.1h0M118.7 481.2h0M114.8 492.1h0M112.0 484.9h0M117.2 491.3h0M114.5 482.9h0M110.6 455.7h0M114.4 482.1h0M119.2 481.2h0M116.3 488.6h0M115.4 494.6h0M114.7 474.6h0M110.9 475.8h0M118.5 477.0h0M117.4 493.7h0M118.0 481.0h0M115.5 495.9h0M116.2 493.1h0M113.9 485.9h0M114.1 491.0h0M116.1 492.1h0M116.7 485.0h0M115.9 492.5h0M118.9 482.1h0M114.2 474.6h0M123.7 450.4h0M113.0 484.2h0M113.0 482.9h0M114.8 491.9h0M116.7 489.1h0M114.3 477.4h0M114.8 495.7h0M117.0 480.8h0M114.9 487.1h0M113.7 489.6h0M112.6 468.6h0M115.4 491.5h0M113.3 488.9h0M117.5 483.3h0M117.4 489.4h0M112.7 471.8h0M114.2 489.5h0M114.3 493.1h0M117.8 476.2h0M108.5 468.4h0M118.4 466.7h0M117.1 445.1h0M115.9 483.9h0M116.5 492.8h0M133.8 444.2h0M116.7 480.8h0M115.0 492.6h0M112.9 491.4h0M116.0 490.8h0M122.9 473.9h0M115.5 493.9h0M115.1 494.1h0M119.8 471.6h0M113.7 490.0h0M116.4 490.3h0M112.7 486.1h0M122.0 462.2h0M117.3 489.4h0M112.0 475.4h0M113.7 493.4h0M110.5 467.4h0M113.2 482.7h0M117.9 492.3h0M115.4 493.0h0M114.2 493.0h0M120.4 389.8h0M123.4 460.0h0M118.1 479.7h0M118.3 481.0h0M115.6 492.6h0M117.6 493.3h0M112.8 490.4h0M115.6 490.0h0M114.5 493.1h0M111.0 458.8h0M115.7 481.4h0M120.0 444.8h0M116.6 477.7h0M118.4 482.4h0M112.3 490.4h0M110.7 439.2h0M114.8 495.7h0M114.4 491.3h0M117.1 459.3h0M112.9 457.1h0M115.3 494.3h0M118.1 467.8h0M115.3 495.7h0M113.4 485.7h0M117.0 489.8h0M117.2 487.9h0M113.5 489.7h0M117.8 490.4h0M117.8 485.8h0M116.9 476.9h0M117.2 488.4h0M116.2 480.7h0M119.5 455.1h0M115.5 490.1h0M123.3 413.3h0M112.1 471.6h0M114.4 492.3h0M110.9 468.9h0M115.0 489.1h0M115.0 494.3h0M113.5 492.5h0M113.4 480.4h0M117.9 482.1h0M115.3 495.2h0M117.7 477.0h0M113.2 491.2h0M118.9 471.8h0M115.5 495.0h0M116.3 466.0h0M114.7 491.6h0M115.5 494.2h0M122.7 443.0h0M115.8 491.1h0M120.2 488.9h0M116.4 487.0h0M115.7 491.5h0M112.3 488.0h0M115.0 495.4h0M116.0 493.5h0M116.1 492.4h0M111.3 477.9h0M116.4 495.3h0M115.5 495.0h0M111.9 476.0h0M112.5 482.5h0M116.0 489.6h0M116.7 484.1h0M116.0 493.4h0M112.7 464.4h0M115.2 493.3h0M115.1 495.6h0M114.6 494.8h0M116.7 479.1h0M117.3 488.0h0M110.7 486.8h0M115.5 495.5h0M114.5 492.6h0M111.9 475.7h0M115.8 493.7h0M112.6 490.9h0M116.6 488.4h0M117.0 486.1h0M116.0 494.7h0M118.6 461.2h0M116.9 480.8h0M117.1 487.0h0M118.4 492.6h0M111.8 477.6h0M115.4 486.6h0M116.2 483.7h0M115.0 474.3h0M112.1 465.5h0M116.3 487.7h0M116.9 479.1h0M114.8 485.0h0M115.1 493.6h0M116.3 482.6h0M111.9 471.8h0M114.2 487.9h0M114.1 485.7h0M115.4 492.2h0M115.2 494.9h0M117.8 463.6h0M116.8 489.3h0M115.7 495.5h0M110.7 460.1h0M118.5 443.8h0M113.9 488.3h0M115.8 486.5h0M116.3 493.2h0M113.5 488.6h0M115.1 494.5h0M113.4 482.5h0M113.8 480.3h0M119.9 486.5h0M113.9 491.7h0M116.7 483.7h0M117.3 480.1h0M115.3 490.3h0M114.2 488.7h0M113.9 491.1h0M120.2 482.9h0M112.4 480.9h0M109.1 414.7h0M115.4 491.7h0M111.2 463.1h0M111.2 462.6h0M114.4 478.3h0M114.0 486.7h0M118.4 467.6h0M118.3 469.5h0M116.3 489.7h0M115.1 493.9h0M116.7 494.1h0M110.1 457.7h0M114.2 489.5h0M119.6 462.5h0M115.6 492.2h0M115.2 488.3h0M115.8 493.8h0M115.8 494.9h0M115.4 494.6h0M117.1 489.3h0M114.5 491.8h0M115.9 492.2h0M113.6 488.4h0M109.7 428.9h0M116.2 493.4h0M114.0 492.4h0M115.8 488.4h0M115.8 489.6h0M115.3 492.1h0M113.3 475.6h0M118.1 492.8h0M116.0 492.1h0M120.6 474.1h0M116.9 487.2h0M116.8 491.2h0M110.8 481.7h0M113.0 477.9h0M114.9 492.4h0M116.2 484.3h0M113.7 484.4h0M122.3 477.9h0M114.8 479.5h0M114.2 491.0h0M110.6 480.8h0M115.7 493.9h0M115.5 494.3h0M116.8 473.5h0M121.3 483.6h0M120.6 455.8h0M111.5 463.4h0M121.2 486.8h0M114.2 485.0h0M116.2 494.4h0M115.2 494.7h0M115.8 493.5h0M117.9 489.4h0M117.9 486.2h0M114.0 471.4h0M115.9 494.9h0M121.3 478.9h0M114.9 495.4h0M112.2 474.5h0M118.0 471.2h0M114.2 484.9h0M117.1 490.8h0M116.9 484.9h0M113.3 469.4h0M115.6 490.1h0M112.9 455.6h0M114.4 486.9h0M113.5 476.0h0M117.1 482.2h0M115.5 494.8h0M116.4 483.8h0M115.3 491.2h0M114.3 492.7h0M117.0 489.4h0M115.8 495.0h0M116.2 495.2h0M118.0 472.5h0M112.2 486.0h0M107.9 455.9h0M114.8 490.6h0M113.3 487.5h0M112.0 449.0h0M115.0 485.0h0M117.5 476.0h0M114.0 479.6h0M118.9 480.4h0M114.5 487.2h0M109.4 475.0h0M110.0 472.0h0M114.3 492.1h0M111.5 485.9h0M119.3 467.9h0M119.4 464.9h0M117.3 491.3h0M118.0 463.1h0M112.3 463.4h0M116.4 493.7h0M112.3 471.5h0M119.5 485.2h0M116.0 492.0h0M118.0 478.8h0M114.8 495.7h0M117.7 476.0h0M115.7 493.3h0M111.7 471.9h0M115.7 493.6h0M111.8 453.0h0M114.8 494.2h0M114.5 489.0h0M118.2 466.5h0M115.5 495.5h0M114.8 489.0h0M116.5 485.9h0M115.3 495.0h0M116.3 493.9h0M111.8 490.8h0M120.9 484.5h0M123.0 463.1h0M119.9 481.9h0M119.9 470.1h0M114.7 493.9h0M124.2 446.9h0M110.3 472.1h0M118.7 484.6h0M111.9 484.3h0M115.4 490.6h0M114.2 461.2h0M113.1 462.5h0M114.4 489.5h0M114.1 489.2h0M115.4 495.9h0M116.2 493.3h0M115.4 494.3h0M110.6 478.5h0M116.5 492.6h0M114.4 482.3h0M116.2 488.4h0M113.0 475.2h0M118.7 474.6h0M115.6 482.8h0M117.8 483.1h0M117.0 488.7h0M116.2 495.1h0M116.1 480.1h0M117.9 481.7h0M112.7 481.8h0M97.8 464.6h0M113.3 457.1h0M114.8 490.7h0M117.9 464.8h0M116.0 481.8h0M119.4 483.2h0M116.8 485.9h0M112.2 478.6h0M120.1 483.5h0M119.3 475.8h0M115.4 495.4h0M112.3 477.1h0M115.1 490.5h0M117.5 488.6h0M115.8 489.9h0M119.1 481.7h0M118.1 471.6h0M114.9 495.2h0M118.0 466.9h0M116.7 466.0h0M113.4 477.5h0M114.8 493.3h0M112.9 459.6h0M110.9 471.2h0M115.4 494.3h0M109.8 441.8h0M117.5 488.9h0M114.5 493.8h0M121.2 436.5h0M115.7 494.6h0M118.4 473.7h0M115.6 494.9h0M116.0 471.8h0M115.2 490.1h0M115.4 495.1h0M114.0 491.1h0M112.1 464.4h0M114.7 494.0h0M111.1 464.4h0M117.1 488.3h0M114.3 491.9h0M115.2 494.6h0M117.9 489.9h0M111.5 459.3h0M115.8 494.8h0M114.3 493.1h0M118.7 455.4h0M115.9 494.2h0M117.2 473.9h0M115.7 489.3h0M111.4 484.4h0M117.1 482.0h0M117.0 486.4h0M112.3 489.1h0M116.6 487.2h0M118.5 452.9h0M116.4 488.6h0M117.0 482.4h0M115.8 491.9h0M119.8 476.7h0M113.9 494.0h0M112.6 482.0h0M114.3 483.7h0M115.6 492.4h0M109.0 460.6h0M116.4 494.5h0M117.7 475.5h0M118.8 488.6h0M137.3 435.4h0M112.0 480.8h0M115.1 495.8h0M111.6 450.0h0M109.9 461.5h0M116.7 492.3h0M121.8 443.0h0M112.9 484.8h0M111.8 475.7h0M115.5 479.3h0M120.1 469.8h0M112.3 451.0h0M119.5 448.2h0M104.3 458.0h0M111.7 485.6h0M114.3 483.9h0M114.5 488.5h0M115.8 494.1h0M119.9 452.4h0M115.3 493.7h0M114.2 479.0h0M116.5 490.2h0M119.3 484.4h0M113.7 488.8h0M116.4 490.4h0M116.1 493.5h0M114.9 488.8h0M120.6 454.2h0M113.2 484.3h0M115.4 493.4h0M113.6 482.6h0M112.3 477.2h0M114.8 489.6h0M110.2 474.1h0M121.7 460.9h0M120.6 454.6h0M116.2 489.0h0M118.8 483.1h0M112.1 475.9h0M115.6 492.8h0M117.0 475.8h0M115.9 478.7h0M109.8 478.7h0M115.7 491.5h0M118.3 467.4h0M113.6 490.0h0M112.6 441.3h0M121.9 479.8h0M117.0 488.8h0M114.3 486.5h0M112.6 485.1h0M112.3 474.1h0M115.4 494.6h0M116.1 480.4h0M113.0 475.3h0M114.6 490.7h0M115.2 494.9h0M117.4 491.9h0M111.8 485.9h0M116.5 490.4h0M112.3 471.3h0M115.9 493.0h0M112.9 479.6h0M115.9 495.0h0M115.2 494.8h0M125.0 448.1h0M117.1 476.0h0M110.7 467.3h0M115.0 487.5h0M115.2 489.6h0M116.2 494.1h0M114.1 487.3h0M113.2 491.4h0M117.0 484.8h0M121.2 471.3h0M115.0 493.1h0M113.0 486.6h0M116.0 492.6h0M115.3 495.1h0M120.4 485.7h0M115.0 494.5h0M107.7 452.8h0M116.7 490.1h0M119.9 479.9h0M119.9 428.4h0M110.5 475.6h0M118.7 477.4h0M115.0 494.9h0M114.8 494.4h0M118.5 474.2h0M113.6 484.6h0M117.4 465.2h0M115.4 494.6h0M116.2 487.4h0M116.2 490.3h0M110.3 460.9h0M116.3 488.1h0M115.2 492.6h0M116.2 491.8h0M116.0 466.9h0M114.2 485.8h0M113.0 470.0h0M113.3 485.6h0M116.9 482.7h0M114.7 494.4h0M115.9 486.6h0M113.8 487.1h0M115.6 495.1h0M112.2 471.1h0M116.4 476.5h0M120.4 451.6h0M116.5 480.1h0M115.9 491.0h0M103.0 453.7h0M114.7 491.9h0M115.4 494.5h0M114.7 494.0h0M114.9 493.3h0M105.4 476.2h0M115.8 472.5h0M119.3 480.3h0M113.5 463.2h0M99.8 437.6h0M116.8 491.2h0M116.2 495.9h0M117.7 475.1h0M115.2 495.3h0M112.7 488.5h0M114.6 478.6h0M117.0 490.5h0M117.1 491.1h0M115.8 495.8h0M117.5 483.5h0M116.0 487.4h0M122.0 460.2h0M107.3 474.6h0M118.0 474.8h0M120.9 481.9h0M114.7 493.7h0M114.7 475.2h0M112.7 490.0h0M116.2 495.4h0M114.4 492.5h0M114.0 488.7h0M114.6 490.6h0M118.2 469.1h0M116.6 487.0h0M114.5 492.5h0M117.7 482.4h0M119.0 474.2h0M116.8 492.4h0M113.3 485.2h0M115.2 491.9h0M116.3 494.8h0M119.8 480.3h0M116.7 494.5h0M115.3 494.7h0M117.2 484.2h0M116.3 488.8h0M115.5 483.8h0M111.7 454.5h0M115.2 491.5h0M113.6 448.3h0M118.7 472.5h0M109.0 452.1h0M114.5 494.8h0M121.7 482.7h0M117.2 487.7h0M114.4 492.5h0M115.8 490.7h0M125.8 456.4h0M118.9 481.1h0M116.8 489.8h0M116.7 476.0h0M115.0 491.7h0M116.0 491.8h0M115.7 494.8h0M114.8 481.0h0M115.2 489.9h0M116.6 480.4h0M120.5 470.4h0M114.5 489.9h0M112.1 469.9h0M117.2 484.4h0M115.2 491.8h0M116.4 488.8h0M116.8 485.5h0M109.2 467.9h0M115.1 495.9h0M117.3 482.0h0M119.9 471.0h0M115.0 495.3h0M114.8 488.2h0M110.1 479.7h0M113.7 486.0h0M119.3 481.7h0M116.1 492.3h0M110.9 472.9h0M115.5 495.1h0M113.9 459.1h0M116.3 487.3h0M117.6 490.7h0M117.9 478.5h0M115.8 495.6h0M121.6 465.5h0M111.9 467.7h0M121.9 479.4h0M112.4 478.3h0M119.6 484.8h0M118.2 482.5h0M116.0 491.8h0M114.2 481.0h0M113.6 480.9h0M115.1 475.6h0M118.9 469.3h0M118.3 475.4h0M114.8 494.8h0M116.0 488.1h0M116.2 484.7h0M116.2 481.7h0M114.8 493.3h0M114.3 491.9h0M112.5 484.1h0M116.7 485.0h0M113.4 488.2h0M116.2 491.3h0M117.8 481.3h0M113.5 490.4h0M118.2 486.9h0M114.6 494.1h0M116.8 492.1h0M108.4 458.9h0M119.2 467.9h0M113.5 485.6h0M116.4 488.7h0M116.8 485.7h0M119.9 469.0h0M111.8 484.4h0M113.5 473.7h0M117.7 479.9h0M115.8 493.7h0M117.9 467.1h0M118.5 479.5h0M115.2 495.5h0M114.8 494.8h0M115.6 494.8h0M115.4 494.7h0M114.7 489.5h0M114.7 493.4h0M113.8 470.0h0M116.2 488.1h0M113.9 491.7h0M113.7 480.2h0M117.5 475.2h0M115.8 494.6h0M116.6 491.0h0M130.9 475.4h0M114.9 495.0h0M119.4 489.5h0M115.8 491.0h0M120.7 433.5h0M115.1 495.6h0M115.6 494.5h0M114.8 494.6h0M106.5 485.1h0M115.7 485.6h0M116.6 480.3h0M118.8 466.7h0M115.9 478.5h0M113.4 490.0h0M114.0 471.6h0M115.1 495.2h0M116.1 489.2h0M104.2 471.3h0M113.8 491.0h0M120.2 459.1h0M114.6 490.7h0M110.3 473.8h0M120.0 466.5h0M119.6 463.2h0M118.4 480.0h0M127.3 433.8h0M113.8 473.9h0M114.5 475.4h0M116.6 485.0h0M120.8 476.0h0M115.4 493.7h0M119.4 453.5h0M114.8 493.0h0M111.1 479.0h0M117.8 470.9h0M116.8 488.5h0M118.0 483.8h0M117.5 490.2h0M115.5 494.7h0M114.9 485.4h0M116.9 489.2h0M117.2 469.0h0M114.5 489.9h0M113.8 481.8h0M112.0 483.2h0M115.3 495.9h0M112.8 476.2h0M115.0 491.1h0M113.0 480.8h0M116.7 486.8h0M115.0 495.7h0M117.6 472.1h0M111.9 472.4h0M111.0 477.2h0M116.5 492.0h0M115.0 495.8h0M113.6 491.1h0M114.5 473.8h0M114.4 463.1h0M112.1 478.9h0M119.7 460.4h0M115.0 493.8h0M115.8 495.5h0M115.5 495.5h0M119.2 478.5h0M100.6 462.7h0M117.4 488.9h0M119.9 459.8h0M114.0 493.9h0M113.7 490.3h0M115.6 495.7h0M115.6 495.9h0M116.3 492.8h0M116.9 488.0h0M118.8 477.6h0M121.0 454.1h0M115.7 490.1h0M116.7 466.2h0M115.2 491.9h0M114.4 493.1h0M120.3 443.2h0M117.5 477.5h0M114.8 490.1h0M117.2 477.4h0M112.9 469.9h0M117.0 489.3h0M118.4 489.2h0M112.2 473.8h0M118.4 472.3h0M111.5 448.7h0M112.7 479.5h0M116.5 493.2h0M115.1 495.2h0M115.5 491.2h0M113.2 473.4h0M113.3 489.5h0M117.4 478.4h0M113.7 468.4h0M114.7 491.7h0M117.0 487.0h0M113.9 467.0h0M113.9 479.8h0M115.8 490.4h0M117.6 484.7h0M116.4 495.7h0M114.9 493.0h0M115.7 495.8h0M115.8 490.8h0M117.2 489.7h0M99.1 430.3h0M116.2 485.4h0M117.6 476.7h0M118.3 479.0h0M116.6 480.1h0M112.4 450.0h0M115.0 491.5h0M112.8 472.3h0M118.0 479.5h0M117.5 469.7h0M116.9 470.5h0M114.3 482.8h0M115.2 491.9h0M119.3 486.4h0M112.7 467.6h0M111.9 485.7h0M114.5 492.1h0M116.2 492.7h0M116.4 491.7h0M117.2 490.2h0M116.4 489.6h0M114.2 489.4h0M114.4 489.4h0M121.0 491.6h0M115.3 495.9h0M114.8 493.1h0M116.4 492.3h0M117.0 484.5h0M117.5 472.2h0M114.7 485.1h0M116.1 490.4h0M112.3 458.9h0M117.9 481.3h0M113.5 488.3h0M115.1 492.9h0M113.6 469.4h0M114.7 487.9h0M105.7 469.4h0M115.6 493.3h0M115.8 494.5h0M115.8 484.3h0M112.8 486.1h0M116.0 489.7h0M116.3 493.3h0M117.5 489.2h0M117.2 474.4h0M115.5 495.4h0M115.7 491.1h0M115.1 486.7h0M115.7 495.6h0M113.3 480.4h0M119.0 483.9h0M109.7 466.9h0M110.3 456.0h0M115.6 495.5h0M112.8 483.5h0M116.0 494.6h0M116.6 489.3h0M114.2 478.5h0M117.3 471.4h0M117.0 481.5h0M118.9 487.7h0M115.1 495.6h0M116.0 492.4h0M116.4 494.2h0M120.2 484.2h0M115.0 494.4h0M114.8 490.0h0M117.7 473.2h0M116.1 490.2h0M112.8 489.2h0M106.4 473.8h0M114.2 477.2h0M112.9 471.7h0M117.2 483.3h0M115.5 490.3h0M114.7 483.8h0M116.0 495.2h0M118.0 483.9h0M111.9 479.4h0M115.5 494.1h0M118.9 476.8h0M116.0 493.7h0M118.1 475.9h0M114.8 492.7h0M112.6 493.5h0M117.0 477.8h0M115.7 495.6h0M119.8 483.2h0M111.5 479.0h0M116.5 453.5h0M115.4 494.6h0M117.9 475.3h0M116.6 435.4h0M112.7 483.2h0M115.5 495.0h0M120.5 482.3h0M114.0 485.0h0M114.8 494.5h0M112.7 486.8h0M130.1 452.8h0M120.4 470.5h0M116.1 486.2h0M115.0 492.9h0M115.3 494.7h0M113.0 451.1h0M113.5 486.8h0M115.6 489.1h0M114.2 493.2h0M111.9 475.4h0M115.5 495.4h0M116.8 483.6h0M118.6 488.8h0M119.0 478.4h0M115.2 486.7h0M115.9 495.0h0M114.6 492.9h0M116.7 491.4h0M114.7 494.9h0M117.7 476.4h0M117.0 478.9h0M108.8 479.6h0M115.8 494.4h0M114.8 489.8h0M119.0 477.8h0M118.5 478.3h0M112.7 480.4h0M112.0 464.5h0M121.8 439.2h0M116.3 491.1h0M114.7 495.9h0M113.9 491.9h0M116.1 495.5h0M118.9 469.0h0M116.6 478.9h0M113.2 483.6h0M111.5 483.7h0M112.7 474.6h0M115.7 489.3h0M110.3 490.7h0M117.7 469.9h0M116.9 487.6h0M124.7 460.2h0M116.2 492.4h0M113.9 493.3h0M117.9 488.6h0M118.6 459.2h0M116.2 493.1h0M116.8 465.9h0M115.4 495.9h0M114.8 491.5h0M113.7 487.6h0M115.1 489.6h0M114.3 490.9h0M117.7 470.4h0M116.2 483.0h0M119.6 476.3h0M115.5 494.4h0M113.3 464.0h0M114.9 494.6h0M116.2 493.8h0M116.7 480.9h0M117.0 489.9h0M117.2 488.2h0M110.1 460.1h0M113.8 479.3h0M114.9 491.4h0M114.6 489.3h0M121.0 442.9h0M112.1 481.1h0M113.2 488.4h0M116.1 493.2h0M116.6 490.3h0M116.9 492.3h0M113.8 484.5h0M112.2 474.2h0M114.2 488.9h0M116.2 495.9h0M112.4 480.7h0M116.1 493.2h0M105.1 412.0h0M114.9 495.1h0M114.0 481.0h0M120.6 486.2h0M108.5 463.1h0M111.1 480.6h0M106.3 474.0h0M118.0 488.1h0M116.9 493.1h0M132.4 467.2h0M117.2 483.5h0M114.3 487.5h0M115.5 494.5h0M117.8 475.1h0M115.8 495.2h0M115.3 495.7h0M114.9 495.2h0M116.6 492.4h0M102.7 433.3h0M116.5 494.2h0M112.9 470.5h0M115.1 493.2h0M118.2 447.0h0M114.5 486.0h0M117.2 491.7h0M111.2 472.4h0M116.1 490.8h0M113.9 480.1h0M115.8 494.0h0M114.2 492.7h0M111.7 458.2h0M114.2 494.9h0M113.5 486.1h0M116.9 480.9h0M120.5 487.5h0M117.8 488.1h0M115.5 495.5h0M116.2 493.4h0M113.4 489.0h0M112.7 486.1h0M115.8 490.7h0M116.4 489.2h0M118.8 459.9h0M115.8 489.6h0M120.4 439.3h0M119.1 480.2h0M114.3 492.8h0M116.1 489.6h0M110.5 413.5h0M116.1 494.1h0M117.3 455.8h0M117.1 487.6h0M120.6 483.6h0M111.9 482.5h0M113.5 467.3h0M113.0 471.5h0M104.8 440.2h0M115.1 494.8h0M106.7 408.5h0M115.0 494.8h0M113.6 485.9h0M117.4 473.3h0M117.1 483.3h0M116.0 494.6h0M115.3 493.1h0M113.9 484.5h0M114.9 492.0h0M113.7 488.6h0M116.1 494.0h0M118.1 482.6h0M118.0 480.7h0M122.3 465.4h0M113.6 487.8h0M113.4 486.1h0M117.1 488.6h0M115.2 492.8h0M118.4 470.2h0M118.5 479.9h0M112.9 451.8h0M118.8 455.2h0M120.2 483.5h0M115.9 495.8h0M115.6 491.9h0M116.5 481.0h0M113.1 444.8h0M113.4 488.8h0M113.4 489.1h0M113.4 492.6h0M112.7 477.1h0M111.6 456.0h0M112.3 482.8h0M118.5 489.3h0M109.6 472.5h0M111.3 464.1h0M114.8 488.1h0M115.1 494.5h0M116.1 489.4h0M116.8 485.1h0M115.6 493.8h0M114.5 488.4h0M116.6 484.4h0M117.3 457.1h0M115.9 491.4h0M117.3 483.9h0M110.7 477.1h0M114.5 493.1h0M119.5 472.5h0M115.4 495.4h0M115.8 490.7h0M104.6 456.4h0M117.0 488.5h0M116.5 490.1h0M113.7 483.5h0M109.5 475.7h0M117.9 489.8h0M115.8 490.6h0M117.5 456.4h0M112.1 477.9h0M118.4 474.0h0M114.7 492.6h0M117.2 482.1h0M118.3 436.5h0M118.9 427.3h0M116.9 492.7h0M109.2 468.2h0M110.3 467.6h0M114.4 494.3h0M118.7 482.7h0M118.3 480.1h0M114.6 490.9h0M115.8 488.6h0M117.0 474.6h0M116.6 489.3h0M114.6 487.4h0M113.8 478.2h0M115.5 494.7h0M114.2 489.7h0M116.4 482.1h0M116.8 489.8h0M115.3 492.5h0M117.2 475.2h0M117.1 441.1h0M115.9 494.0h0M115.5 493.8h0M116.6 479.1h0M115.1 495.9h0M119.4 470.3h0M114.6 493.5h0M117.6 483.9h0M116.6 484.1h0M115.3 486.6h0M116.2 494.5h0M109.9 476.6h0M116.0 491.1h0M108.9 468.5h0M116.2 490.6h0M115.4 493.9h0M117.4 460.8h0M116.2 490.6h0M116.9 483.6h0M118.0 481.7h0M116.0 493.8h0M111.5 485.2h0M115.5 494.7h0M116.7 489.6h0M117.3 486.2h0M113.9 484.2h0M114.7 489.6h0M115.9 490.9h0M116.0 489.0h0M114.4 490.2h0M112.7 484.9h0M115.5 490.7h0M113.4 488.9h0M114.0 489.1h0M114.7 489.1h0M115.1 490.6h0M113.8 474.2h0M104.7 444.3h0M118.2 478.8h0M110.3 465.1h0M115.8 494.5h0M113.0 482.7h0M126.2 460.0h0M114.6 492.9h0M111.2 463.1h0M123.1 471.3h0M115.2 491.9h0M115.7 480.8h0M116.9 486.3h0M118.1 490.1h0M116.7 487.8h0M117.0 488.2h0M128.4 467.7h0M114.8 492.2h0M115.3 483.7h0M118.3 483.6h0M114.3 488.9h0M118.8 467.6h0M114.5 491.0h0M116.3 495.2h0M114.3 481.9h0M114.3 480.2h0M125.1 480.2h0M118.8 488.7h0M115.9 494.6h0M113.8 488.6h0M116.2 492.6h0M117.6 477.1h0M115.7 493.3h0M113.1 452.5h0M120.2 472.6h0M113.7 476.6h0M113.9 472.7h0M114.7 492.6h0M115.0 494.5h0M113.4 491.1h0M115.1 494.2h0M117.8 488.9h0M116.2 489.0h0M119.9 450.0h0M105.3 468.5h0M115.4 495.7h0M115.8 495.4h0M115.4 492.9h0M115.8 488.5h0M118.1 478.0h0M115.2 487.0h0M116.4 489.7h0M115.6 491.6h0M117.1 487.9h0M116.7 488.0h0M111.6 479.5h0M114.9 495.5h0M119.1 489.0h0M115.5 495.6h0M115.2 495.9h0M115.3 495.3h0M115.6 490.4h0M124.5 431.3h0M115.9 495.3h0M117.1 463.9h0M113.7 486.5h0M116.3 489.7h0M118.3 478.3h0M121.9 464.7h0M119.0 473.7h0M114.6 487.8h0M115.7 495.1h0M114.4 491.0h0M112.8 490.9h0M112.7 478.2h0M114.6 478.6h0M114.1 482.8h0M125.6 476.0h0M116.3 489.1h0M118.0 468.1h0M113.4 482.1h0M115.6 481.0h0M115.9 495.3h0M109.6 469.3h0M114.4 494.1h0M121.5 475.9h0M116.0 492.7h0M116.4 488.5h0M115.9 490.6h0M116.8 493.5h0M115.1 492.7h0M112.0 480.4h0M119.9 478.3h0M118.3 482.3h0M115.2 492.5h0M112.8 486.9h0M115.4 495.1h0M116.5 489.2h0M115.4 489.2h0M117.8 480.2h0M113.1 479.1h0M111.1 465.3h0M117.6 478.8h0M111.1 479.3h0M114.2 489.1h0M118.4 473.9h0M114.9 492.0h0M116.1 495.0h0M121.7 453.5h0M126.3 463.5h0M115.8 494.1h0M117.3 478.8h0M116.5 477.2h0M111.5 469.7h0M116.4 492.1h0M111.3 475.0h0M113.0 483.7h0M120.7 488.5h0M117.5 467.8h0M115.0 495.9h0M112.8 486.5h0M127.4 455.5h0M114.1 487.5h0M120.2 480.6h0M113.0 490.2h0M115.8 494.9h0M115.2 492.9h0M117.9 489.3h0M115.1 475.0h0M115.1 495.3h0M114.3 486.1h0M116.5 489.4h0M116.6 471.2h0M115.0 493.4h0M122.9 471.2h0M113.9 490.8h0M117.0 456.3h0M114.8 493.9h0M116.7 486.2h0M108.4 475.7h0M115.6 493.2h0M114.0 480.8h0M118.2 473.6h0M115.3 493.8h0M114.3 491.8h0M115.1 485.5h0M110.1 465.4h0M112.5 491.1h0M116.7 489.6h0M122.9 471.3h0M113.0 464.1h0M118.7 474.6h0M112.8 483.1h0M113.5 488.3h0M109.5 466.7h0M108.3 450.1h0M114.7 487.3h0M105.3 457.8h0M116.9 459.6h0M117.4 484.0h0M116.6 491.0h0M114.3 494.3h0M111.9 468.8h0M112.0 488.9h0M111.7 450.6h0M112.6 475.7h0M117.7 491.4h0M110.7 457.8h0M112.6 489.8h0M119.0 471.0h0M115.8 483.3h0M115.8 495.6h0M111.4 476.9h0M120.5 448.4h0M114.4 495.9h0M111.6 474.7h0M113.8 491.0h0M116.5 494.1h0M115.9 490.8h0M113.5 471.4h0M115.6 495.2h0M114.9 492.4h0M114.3 488.9h0M113.8 474.0h0M115.8 494.7h0M118.9 484.9h0M115.8 494.4h0M113.1 477.2h0M115.5 492.6h0M114.0 486.2h0M115.7 488.4h0M117.5 485.0h0M123.3 454.0h0M115.9 494.6h0M113.5 489.4h0M120.6 452.0h0M115.2 489.0h0M112.6 484.5h0M118.3 492.2h0M117.0 482.7h0M115.0 495.1h0M106.5 438.8h0M112.7 473.8h0M116.2 483.3h0M114.3 489.1h0M115.8 493.6h0M113.5 479.7h0M117.3 483.5h0M116.0 491.0h0M115.3 493.9h0M116.8 491.1h0M114.0 489.1h0M119.5 473.5h0M114.4 483.7h0M114.3 486.0h0M115.6 492.0h0M114.0 491.8h0M112.5 466.1h0M124.5 385.4h0M115.1 491.4h0M122.0 441.2h0M117.3 493.5h0M114.1 486.5h0M112.2 432.9h0M115.9 483.9h0M114.2 491.3h0M115.3 495.5h0M117.1 490.4h0M114.4 492.9h0M116.8 493.8h0M115.9 490.2h0M111.3 474.3h0M114.0 484.3h0M113.9 465.2h0M113.3 485.9h0M118.2 468.9h0M114.9 490.1h0M115.0 488.7h0M115.6 491.8h0M112.6 485.2h0M112.8 483.6h0M116.9 476.2h0M120.4 431.0h0M107.2 469.5h0M115.5 493.2h0M114.8 493.9h0M113.5 440.2h0M116.3 491.4h0M117.5 472.1h0M116.0 494.0h0M112.2 477.2h0M118.2 434.4h0M117.9 473.4h0M115.1 493.9h0M117.3 489.7h0M112.0 481.2h0M112.2 477.4h0M105.2 420.9h0M115.8 489.9h0M114.4 486.4h0M113.5 480.3h0M116.0 491.7h0M112.5 487.1h0M114.7 491.5h0M113.1 485.0h0M113.6 471.8h0M115.5 493.3h0M117.2 483.7h0M115.5 493.2h0M114.4 493.0h0M113.8 490.3h0M116.6 485.5h0M115.6 493.1h0M115.6 493.4h0M113.4 476.0h0M116.3 491.1h0M115.2 494.6h0M115.7 494.0h0M117.0 489.4h0M107.2 459.9h0M115.3 493.9h0M114.7 459.3h0M113.6 492.8h0M117.0 471.7h0M116.4 495.0h0M118.4 482.1h0M114.2 491.8h0M110.1 449.5h0M114.3 491.9h0M116.3 469.9h0M118.4 488.1h0M117.0 478.4h0M113.7 491.1h0M113.7 481.4h0M114.1 473.8h0M119.7 484.7h0M116.3 493.6h0M111.2 468.4h0M117.1 468.4h0M114.1 490.7h0M115.2 495.5h0M113.9 493.5h0M116.1 492.0h0M113.0 486.9h0M115.3 495.5h0M117.1 479.9h0M118.8 483.3h0M116.2 475.8h0M119.9 475.5h0M111.9 480.0h0M104.8 463.0h0M117.9 463.8h0M111.7 485.5h0M114.1 487.3h0M110.3 486.4h0M114.9 481.4h0M112.6 481.4h0M118.1 490.5h0M125.0 427.4h0M117.2 486.8h0M109.3 471.7h0M114.9 487.8h0M116.4 489.9h0M116.0 494.8h0M118.6 452.6h0M115.3 495.4h0M108.6 477.9h0M121.6 469.4h0M115.9 494.8h0M113.6 487.7h0M115.6 495.8h0M118.3 476.3h0M111.6 462.6h0M117.0 481.3h0M114.1 486.6h0M113.2 488.1h0M118.5 432.6h0M115.7 494.2h0M124.1 448.2h0M117.0 478.2h0M113.2 475.1h0M115.5 493.8h0M99.5 420.4h0M116.2 488.7h0M112.7 471.4h0M115.1 490.8h0M116.8 485.1h0M115.0 493.7h0M113.9 488.3h0M115.1 495.6h0M114.5 495.6h0M117.1 483.9h0M114.0 480.6h0M122.1 469.3h0M115.9 494.9h0M119.6 477.5h0M115.7 478.5h0M116.8 489.9h0M117.3 480.2h0M115.6 494.8h0M115.0 489.9h0M112.3 474.7h0M115.1 494.2h0M110.8 458.8h0M114.0 478.5h0M110.4 480.6h0M112.7 484.3h0M114.0 472.7h0M113.2 470.2h0M116.4 492.1h0M114.4 488.4h0M110.1 477.6h0M111.9 427.1h0M113.2 474.0h0M116.7 482.9h0M116.1 495.5h0M112.4 483.8h0M114.8 484.0h0M116.5 493.2h0M117.1 471.8h0M116.2 493.2h0M124.0 473.9h0M116.4 493.4h0M115.4 492.3h0M119.1 489.1h0M112.7 479.9h0M117.7 490.2h0M116.0 492.4h0M115.5 491.0h0M115.2 491.6h0M118.4 484.3h0M113.9 491.7h0M113.7 476.8h0M112.8 465.8h0M116.4 482.4h0M114.2 488.9h0M114.9 494.3h0M108.9 467.6h0M115.1 494.2h0M120.5 454.9h0M125.1 447.9h0M114.1 479.8h0M112.7 485.5h0M115.8 479.1h0M117.0 475.8h0M117.3 487.7h0M117.0 486.2h0M118.9 470.0h0M116.8 485.0h0M119.6 408.4h0M111.0 445.9h0M116.2 488.9h0M112.3 472.6h0M114.7 492.7h0M119.6 468.3h0M111.4 483.0h0M115.9 494.2h0M120.0 475.8h0M117.1 482.2h0M114.9 491.7h0M114.8 491.3h0M115.4 490.1h0M113.4 478.8h0M114.1 493.0h0M111.6 470.2h0M111.2 474.8h0M111.1 460.6h0M116.4 485.3h0M114.7 494.4h0M115.1 494.4h0M113.3 482.9h0M118.5 470.0h0M115.0 495.7h0M106.7 458.1h0M112.5 484.6h0M117.1 470.9h0M133.6 446.9h0M116.3 495.4h0M116.9 482.7h0M115.1 494.5h0M116.6 481.6h0M117.5 485.2h0M115.6 487.8h0M113.1 483.5h0M128.6 421.7h0M117.4 485.1h0M120.0 424.7h0M116.5 489.3h0M113.4 470.9h0M114.8 490.7h0M116.4 491.1h0M111.3 468.7h0M114.6 485.4h0M117.1 487.3h0M112.4 463.9h0M114.3 491.5h0M115.3 491.4h0M118.7 481.2h0M112.7 480.0h0M113.4 443.5h0M119.0 460.8h0M111.6 477.6h0M110.4 474.7h0M117.0 489.4h0M113.8 485.3h0M121.4 455.7h0M115.6 494.3h0M118.4 480.1h0M119.0 483.9h0M112.6 487.5h0M112.2 482.3h0M117.3 488.5h0M112.7 492.9h0M103.3 469.1h0M116.3 495.1h0M116.4 494.3h0M114.7 480.9h0M118.6 463.9h0M114.3 489.9h0M117.1 441.4h0M112.3 470.5h0M114.7 445.7h0M115.1 494.5h0M115.2 495.8h0M115.4 495.0h0M118.2 485.9h0M119.4 475.8h0M116.0 488.5h0M118.9 476.1h0M111.8 462.7h0M115.0 494.4h0M115.9 494.1h0M111.7 479.4h0M113.5 491.9h0M115.9 495.1h0M116.7 491.4h0M116.8 477.4h0M104.0 441.1h0M112.8 489.4h0M116.2 487.7h0M116.8 479.1h0M116.0 487.4h0M113.8 493.4h0M109.0 464.7h0M110.5 487.6h0M111.4 476.0h0M123.7 415.0h0M114.0 489.2h0M120.6 484.6h0M115.4 495.7h0M120.0 478.0h0M112.4 486.7h0M114.1 486.4h0M114.4 488.0h0M116.8 475.9h0M112.7 469.8h0M116.0 487.5h0M110.2 472.2h0M118.8 483.7h0M114.8 489.0h0M114.8 492.3h0M111.1 470.8h0M118.7 469.8h0M116.7 484.3h0M114.8 495.5h0M110.9 476.9h0M114.3 490.2h0M117.7 491.9h0M114.4 487.8h0M115.8 495.0h0M113.3 457.7h0M114.4 489.4h0M118.9 457.0h0M109.1 478.6h0M115.3 493.2h0M115.6 495.7h0M115.6 493.2h0M116.8 480.7h0M119.1 460.5h0M120.7 462.6h0M113.5 480.0h0M118.1 487.8h0M114.7 492.0h0M118.0 484.6h0M116.1 489.7h0M115.7 494.8h0M109.7 481.1h0M113.8 482.4h0M115.4 495.4h0M115.5 491.4h0M118.7 466.6h0M114.4 491.8h0M115.4 490.6h0M112.4 487.3h0M116.4 486.7h0M113.8 482.5h0M116.9 474.8h0M118.0 454.9h0M118.0 479.8h0M116.9 494.9h0M117.8 472.9h0M115.4 490.4h0M113.6 487.2h0M116.1 493.7h0M115.5 493.2h0M115.0 494.1h0M110.4 468.0h0M122.3 459.7h0M113.1 484.2h0M116.0 494.0h0M116.8 473.0h0M113.8 474.7h0M121.3 480.7h0M115.9 492.7h0M116.2 489.7h0M113.9 482.0h0M116.1 495.1h0M117.6 484.9h0M123.6 479.9h0M114.2 441.8h0M117.4 482.8h0M118.3 467.4h0M115.0 492.9h0M118.6 485.1h0M118.1 488.4h0M115.9 492.8h0M115.7 490.3h0M117.6 469.3h0M116.6 484.7h0M113.9 478.5h0M113.8 472.3h0M117.1 486.5h0M109.7 460.3h0M123.6 438.2h0M113.3 488.3h0M112.9 445.2h0M107.8 473.6h0M116.0 487.4h0M113.7 485.2h0M108.8 473.5h0M112.4 464.0h0M116.7 491.1h0M114.4 475.6h0M117.7 472.9h0M113.8 488.3h0M114.1 476.8h0M113.9 484.5h0M114.5 494.1h0M113.0 486.7h0M112.5 479.9h0M110.1 479.2h0M115.8 480.5h0M114.1 481.6h0M114.9 489.6h0M112.8 479.3h0M121.6 466.7h0M113.7 482.9h0M110.1 436.8h0M110.1 478.3h0M117.8 488.5h0M112.1 473.1h0M114.8 488.5h0M119.9 485.5h0M115.7 490.1h0M113.6 491.0h0M114.1 471.9h0M113.8 477.7h0M119.0 470.0h0M114.7 493.3h0M121.2 477.8h0M112.7 490.5h0M112.2 452.4h0M116.4 483.1h0M116.0 492.3h0M114.7 490.1h0M112.9 483.2h0M115.1 494.3h0M118.5 482.9h0M119.5 472.4h0M117.1 476.7h0M122.0 479.7h0M108.8 459.5h0M116.0 494.1h0M114.2 491.6h0M120.2 466.2h0M118.4 482.1h0M114.7 491.5h0M111.1 468.3h0M115.1 494.9h0M112.0 446.8h0M113.0 469.4h0M115.5 495.0h0M115.7 489.6h0M115.6 494.9h0M115.7 493.6h0M115.2 495.3h0M115.9 485.5h0M116.9 472.6h0M106.8 467.1h0M115.9 493.5h0M117.0 482.5h0M122.1 488.6h0M115.7 493.9h0M114.4 488.6h0M114.7 495.1h0M114.2 488.3h0M116.8 485.2h0M115.3 495.6h0M118.5 468.5h0M115.2 495.0h0M117.1 486.6h0M114.5 494.3h0M111.1 475.7h0M119.5 478.6h0M111.8 473.5h0M118.0 467.7h0M114.6 489.5h0M116.3 491.8h0M114.5 482.2h0M107.6 475.2h0M119.6 490.0h0M114.3 492.5h0M116.0 489.9h0M111.1 473.8h0M117.4 475.3h0M111.0 477.3h0M110.9 387.4h0M120.3 483.3h0M112.8 475.2h0M113.8 486.9h0M109.7 483.0h0M114.4 490.0h0M110.1 480.4h0M114.9 488.7h0M115.9 493.4h0M119.5 451.2h0M118.9 487.9h0M112.9 485.1h0M118.3 480.5h0M113.9 490.5h0M113.5 488.1h0M118.8 471.0h0M116.4 485.2h0M120.5 483.2h0M111.4 451.2h0M113.1 483.4h0M120.5 475.1h0M98.7 436.2h0M115.3 494.2h0M117.0 476.3h0M117.8 482.1h0M113.6 478.9h0M112.7 462.4h0M116.8 491.0h0M118.7 487.0h0M112.7 473.3h0M114.7 486.8h0M115.2 493.5h0M119.7 469.9h0M115.8 495.8h0M115.8 495.7h0M116.4 490.4h0M110.1 429.9h0M114.0 491.7h0M111.7 482.0h0M118.4 481.2h0M124.4 463.8h0M115.4 495.8h0M115.7 493.1h0M122.8 472.1h0M109.4 467.5h0M106.7 465.0h0M128.0 448.3h0M103.7 460.6h0M115.0 492.5h0M116.3 484.4h0M115.6 495.1h0M121.8 471.9h0M114.8 492.9h0M114.4 475.3h0M116.0 487.1h0M112.3 484.6h0M118.4 477.1h0M113.9 446.6h0M117.7 489.8h0M115.7 495.4h0M119.0 466.9h0M116.0 475.7h0M120.6 454.7h0M115.5 495.3h0M115.1 494.2h0M111.2 480.0h0M116.4 491.2h0M113.2 489.0h0M114.8 458.3h0M115.4 495.2h0M116.7 465.3h0M111.1 490.1h0M111.9 469.2h0M118.6 474.5h0M116.0 464.4h0M116.3 476.0h0M112.4 490.2h0M116.7 490.9h0M117.8 476.4h0M114.4 477.5h0M118.2 489.7h0M113.6 460.0h0M114.9 495.7h0M115.6 494.3h0M115.8 494.7h0M117.6 478.7h0M115.2 494.0h0M115.1 495.2h0M112.0 466.3h0M117.4 463.9h0M118.8 485.1h0M116.4 489.5h0M116.0 494.2h0M115.9 495.9h0M117.2 471.5h0M117.4 481.3h0M120.2 454.5h0M114.6 489.1h0M115.8 493.6h0M113.7 469.2h0M115.3 495.8h0M119.3 459.7h0M113.3 490.0h0M116.8 489.9h0M115.3 492.3h0M119.4 466.1h0M112.8 475.5h0M114.9 492.4h0M113.2 492.2h0M114.9 495.0h0M113.3 479.1h0M114.2 495.8h0M114.2 490.3h0M120.0 482.3h0M113.1 494.7h0M115.4 495.9h0M124.5 473.2h0M112.0 483.9h0M106.1 469.1h0M117.8 465.2h0M111.1 475.7h0M115.1 495.2h0M107.6 467.3h0M111.2 478.2h0M116.0 491.8h0M110.9 458.2h0M116.3 486.2h0M108.2 466.9h0M115.1 494.7h0M116.6 484.4h0M116.9 465.6h0M109.3 484.0h0M115.1 491.2h0M118.4 485.4h0M110.5 481.1h0M115.4 493.1h0M109.2 414.5h0M117.1 488.1h0M118.4 473.7h0M127.9 463.9h0M120.4 483.0h0M112.4 477.8h0M115.3 493.8h0M115.2 493.9h0M118.6 474.5h0M113.9 486.6h0M108.9 470.0h0M126.1 454.7h0M116.8 489.0h0M110.5 448.8h0M116.6 486.1h0M118.2 488.0h0M110.4 465.2h0M120.4 488.1h0M111.6 478.0h0M116.5 491.9h0M116.6 487.3h0M112.9 484.9h0M115.0 495.3h0M117.5 479.4h0M119.6 461.4h0M115.3 490.9h0M119.4 468.2h0M119.0 470.6h0M115.7 495.0h0M114.2 485.9h0M114.5 486.5h0M116.7 490.2h0M112.8 474.0h0M112.6 470.6h0M116.4 492.4h0M117.6 465.8h0M116.5 480.6h0M126.3 436.2h0M116.5 494.3h0M116.4 482.1h0M117.7 478.8h0M116.7 488.0h0M114.1 487.3h0M114.9 493.3h0M114.5 483.1h0M111.6 477.4h0M116.8 492.5h0M113.4 478.7h0M115.4 490.4h0M115.1 495.7h0M116.3 475.4h0M117.1 472.4h0M114.3 494.8h0M118.7 476.2h0M116.1 486.1h0M116.1 495.4h0M115.0 487.8h0M112.8 474.4h0M114.0 485.6h0M113.3 461.9h0M115.1 495.5h0M116.9 483.6h0M119.3 478.6h0M118.0 488.6h0M115.3 491.1h0M115.4 494.7h0M117.2 485.9h0M114.6 487.7h0M117.6 477.9h0M115.2 493.9h0M117.8 479.7h0M97.4 454.9h0M113.2 483.9h0M116.0 495.9h0M117.8 483.1h0M114.7 481.6h0M111.7 470.8h0M115.8 495.7h0M117.3 482.9h0M113.9 480.4h0M118.2 482.1h0M115.2 495.0h0M119.6 469.5h0M114.7 492.5h0M113.9 488.2h0M113.3 486.4h0M117.2 484.5h0M114.7 478.4h0M120.3 465.8h0M117.3 487.9h0M122.0 463.0h0M115.4 494.1h0M114.9 493.2h0M115.0 491.3h0M115.4 495.3h0M119.3 465.9h0M115.4 495.7h0M122.5 473.3h0M107.8 464.5h0M115.7 495.0h0M115.8 490.1h0M132.0 421.2h0M115.8 493.7h0M116.1 485.0h0M117.5 486.4h0M118.4 478.8h0M116.2 490.3h0M117.3 475.2h0M116.9 490.0h0M119.6 481.8h0M115.3 495.2h0M118.1 488.5h0M112.4 464.2h0M117.5 477.9h0M113.9 487.7h0M130.8 469.7h0M115.7 494.7h0M113.6 485.4h0M115.6 494.8h0M109.3 477.4h0M113.8 474.2h0M112.6 464.6h0M115.1 494.5h0M114.3 493.9h0M111.7 472.4h0M115.4 493.7h0M115.9 493.0h0M116.1 490.0h0M128.8 474.4h0M112.2 485.2h0M113.2 485.4h0M126.4 364.0h0M115.2 485.1h0M117.4 488.4h0M113.0 484.9h0M118.6 473.0h0M112.5 457.4h0M115.7 490.3h0M112.2 472.0h0M111.9 475.0h0M124.2 459.4h0M116.0 487.5h0M118.6 483.1h0M118.3 478.0h0M114.2 480.6h0M114.1 492.0h0M117.6 472.1h0M115.7 492.0h0M116.2 479.7h0M115.3 495.8h0M114.2 492.7h0M116.2 495.7h0M113.7 480.9h0M117.4 487.3h0M115.3 494.1h0M116.2 479.4h0M117.6 483.5h0M114.8 494.1h0M114.4 491.7h0M114.3 492.5h0M115.4 495.8h0M117.4 491.9h0M96.3 435.5h0M117.0 485.1h0M115.3 490.6h0M116.5 489.6h0M114.6 493.2h0M117.6 483.2h0M113.7 463.9h0M117.0 487.2h0M115.4 494.2h0M117.6 486.0h0M110.6 467.3h0M111.7 464.9h0M112.7 485.5h0M110.1 478.5h0M120.7 476.7h0M116.4 468.5h0M116.8 451.3h0M114.3 489.0h0M115.1 492.6h0M114.7 494.0h0M113.9 490.8h0M114.4 492.5h0M117.2 481.1h0M116.1 492.4h0M111.9 453.5h0M112.1 456.0h0M115.8 490.6h0M115.0 490.7h0M118.7 472.0h0M114.4 493.3h0M114.6 495.8h0M111.0 452.8h0M119.2 468.4h0M119.6 453.4h0M109.9 477.3h0M116.8 480.4h0M111.4 484.0h0M116.7 478.3h0M108.3 473.5h0M115.2 495.8h0M115.2 495.2h0M116.9 492.3h0M115.5 493.8h0M116.1 482.9h0M116.3 470.5h0M116.0 495.1h0M119.0 492.7h0M114.6 485.8h0M119.6 470.5h0M118.5 485.7h0M111.4 460.9h0M116.0 492.6h0M114.9 489.1h0M114.9 490.2h0M112.6 484.0h0M116.5 489.9h0M119.1 476.9h0M116.0 491.2h0M115.5 493.2h0M107.4 414.2h0M116.2 485.4h0M108.5 458.2h0M113.8 481.6h0M115.9 485.0h0M116.3 476.3h0M115.8 495.7h0M114.0 489.5h0M121.3 458.7h0M116.2 487.9h0M115.3 492.6h0M115.7 495.2h0M114.0 491.7h0M113.3 476.2h0M113.9 485.5h0M106.0 426.1h0M110.3 459.5h0M123.1 447.5h0M118.4 490.5h0M117.3 484.2h0M108.7 468.4h0M116.9 459.1h0M115.7 484.2h0M113.0 476.9h0M114.6 482.6h0M112.5 482.7h0M129.6 437.6h0M118.6 486.7h0M114.7 495.5h0M117.1 487.4h0M117.2 486.5h0M116.9 488.7h0M117.0 489.2h0M114.2 491.3h0M116.9 474.2h0M115.8 488.7h0M119.5 485.2h0M113.2 464.7h0M117.4 481.9h0M113.2 486.3h0M125.9 455.9h0M114.7 488.1h0M114.3 488.7h0M114.5 490.3h0M121.2 477.1h0M123.1 485.7h0M119.1 481.8h0M114.7 492.6h0M115.7 493.1h0M119.0 486.0h0M116.6 491.5h0M116.5 490.3h0M117.2 483.5h0M119.3 467.2h0M116.4 480.5h0M119.5 481.0h0M116.4 491.7h0M118.7 476.1h0M117.5 480.7h0M115.2 491.4h0M112.5 484.6h0M114.0 489.9h0M108.3 463.7h0M114.5 490.2h0M117.7 454.8h0M116.4 446.5h0M113.0 480.6h0M115.1 493.5h0M116.1 490.8h0M109.7 483.8h0M116.4 491.5h0M111.7 453.5h0M114.4 491.3h0M114.7 488.9h0M116.9 488.1h0M112.9 482.1h0M120.3 457.5h0M113.9 493.6h0M117.7 453.4h0M115.5 494.5h0M111.9 482.0h0M110.1 466.8h0M111.9 479.6h0M121.5 459.0h0M112.6 491.7h0M121.9 454.5h0M119.1 474.7h0M113.2 482.3h0M118.7 458.3h0M118.9 481.9h0M114.6 493.3h0M100.9 396.3h0M116.6 482.6h0M115.5 495.1h0M116.8 477.2h0M116.6 489.6h0M115.1 494.4h0M118.7 480.0h0M115.2 492.4h0M106.4 460.1h0M115.6 489.1h0M135.9 434.0h0M117.6 491.6h0M112.2 474.6h0M107.9 405.5h0M115.3 488.3h0M114.1 488.4h0M115.2 493.4h0M119.8 488.8h0M117.2 491.4h0M112.0 461.9h0M113.5 484.2h0M116.5 488.1h0M115.5 480.7h0M113.7 482.9h0M138.9 364.0h0M118.0 490.9h0M114.5 494.6h0M118.4 487.2h0M123.2 417.4h0M116.7 487.6h0M114.7 491.6h0M117.6 462.1h0M123.0 457.6h0M117.1 476.4h0M116.9 471.2h0M114.5 489.7h0M112.3 489.0h0M114.3 476.9h0M116.0 493.1h0M112.4 476.6h0M112.2 465.4h0M114.8 492.4h0M107.6 477.3h0M114.5 478.5h0M111.7 478.6h0M117.2 489.8h0M114.8 490.6h0M114.3 482.2h0M118.0 490.4h0M111.6 458.7h0M116.4 492.2h0M116.5 491.6h0M114.6 469.7h0M116.9 488.7h0M118.2 484.6h0M115.8 494.9h0M106.8 467.7h0M110.0 478.5h0M110.6 461.2h0M115.9 489.3h0M112.2 490.5h0M120.5 475.6h0M114.1 492.5h0M117.0 475.2h0M114.8 490.6h0M120.6 454.8h0M114.6 494.9h0M115.3 495.4h0M113.0 468.0h0M120.4 483.5h0M123.7 452.5h0M118.9 468.5h0M116.5 484.2h0M114.7 471.9h0M115.3 489.0h0M115.9 494.9h0M115.9 494.8h0M113.3 490.3h0M110.0 450.2h0M113.2 434.8h0M118.8 459.5h0M117.0 486.0h0M123.6 475.4h0M116.0 493.5h0M116.0 485.0h0M110.6 466.8h0M114.5 491.0h0M117.3 456.9h0M120.9 477.6h0M116.3 493.3h0M114.5 489.3h0M119.8 461.4h0M114.3 478.6h0M120.1 462.9h0M115.0 491.3h0M116.1 493.0h0M117.6 448.2h0M119.4 476.0h0M114.4 485.7h0M116.2 480.5h0M116.6 493.3h0M117.7 469.3h0M116.9 493.7h0M115.1 495.3h0M116.1 492.8h0M114.8 494.5h0M112.7 485.9h0M113.1 483.9h0M116.9 486.4h0M116.4 493.0h0M116.3 481.6h0M113.0 468.1h0M114.4 487.8h0M119.7 475.4h0M114.6 486.3h0M113.6 487.6h0M118.4 487.2h0M115.3 487.9h0M115.8 480.4h0M109.1 429.2h0M108.3 423.4h0M119.8 449.6h0M115.1 495.1h0M113.1 468.9h0M117.1 477.5h0M117.2 458.5h0M112.8 486.1h0M116.8 477.2h0M116.8 490.7h0M115.5 494.1h0M113.5 487.8h0M117.2 486.3h0M112.6 475.6h0M114.7 487.9h0M116.5 492.1h0M110.9 478.9h0M118.1 491.5h0M114.1 485.1h0M96.0 438.1h0M116.7 489.7h0M113.8 492.1h0M116.9 485.8h0M115.7 494.2h0M118.2 476.4h0M113.7 434.9h0M117.9 485.3h0M111.6 452.5h0M119.6 482.3h0M114.4 494.4h0M112.7 490.9h0M117.5 467.9h0M116.2 478.9h0M111.9 437.1h0M114.9 495.6h0M118.2 459.3h0M117.0 491.5h0M115.4 488.0h0M120.0 459.6h0M119.8 475.4h0M113.5 459.3h0M116.9 487.1h0M112.9 480.4h0M115.1 495.0h0M117.3 486.5h0M119.2 455.0h0M115.6 494.1h0M116.0 493.2h0M116.1 485.5h0M114.5 491.5h0M128.4 419.9h0M118.2 476.0h0M118.8 457.7h0M118.3 485.2h0M107.2 453.1h0M113.7 492.6h0M122.0 443.4h0M118.4 484.8h0M114.1 486.8h0M117.5 479.3h0M114.6 490.3h0M115.8 495.2h0M118.1 485.7h0M115.4 495.7h0M112.5 484.4h0M115.9 493.2h0M115.4 491.3h0M114.2 484.1h0M112.0 487.8h0M114.6 490.4h0M116.4 491.5h0M116.3 491.3h0M116.3 488.3h0M113.4 484.2h0M117.2 480.9h0M113.3 488.5h0M116.6 492.2h0M109.8 481.7h0M119.5 474.8h0M114.1 491.7h0M115.1 490.3h0M114.0 490.2h0M109.9 478.5h0M114.5 477.7h0M113.5 491.2h0M117.2 459.4h0M118.5 490.6h0M114.1 490.2h0M116.1 489.1h0M114.2 475.6h0M117.0 485.2h0M113.1 474.5h0M114.2 477.8h0M114.5 491.3h0M110.7 481.6h0M134.0 458.3h0M101.4 489.4h0M115.8 483.8h0M114.8 493.4h0M121.5 467.1h0M120.4 440.3h0M117.8 477.2h0M117.0 468.9h0M117.5 489.9h0M118.1 488.3h0M115.2 495.8h0M116.4 480.0h0M112.8 475.1h0M114.6 491.2h0M112.2 485.9h0M116.6 492.6h0M116.9 492.7h0M115.4 494.2h0M112.9 485.5h0M115.9 491.2h0M119.2 487.8h0M100.8 445.2h0M118.9 474.4h0M113.5 477.6h0M117.2 487.3h0M114.9 481.5h0M113.0 475.3h0M114.8 489.0h0M114.4 488.6h0M116.1 495.8h0M114.5 467.3h0M113.7 454.6h0M115.0 494.4h0M121.4 478.0h0M117.5 475.0h0M112.6 475.5h0M111.3 480.5h0M115.9 489.3h0M117.4 452.5h0M115.4 495.0h0M117.7 478.1h0M127.0 470.0h0M113.5 490.4h0M116.0 493.6h0M114.8 494.6h0M118.0 467.8h0M118.7 479.4h0M113.2 476.1h0M114.9 493.2h0M116.3 468.8h0M113.3 482.3h0M119.1 470.0h0M117.8 472.5h0M118.7 484.6h0M112.3 465.2h0M115.7 492.2h0M113.1 469.7h0M119.4 454.9h0M113.2 479.8h0M121.6 462.6h0M116.3 488.0h0M114.6 495.0h0M120.4 470.2h0M111.7 469.4h0M110.7 472.2h0M117.8 464.2h0M114.1 490.2h0M110.3 463.2h0M113.0 485.9h0M116.4 478.1h0M115.4 492.0h0M118.4 487.0h0M114.9 492.3h0M114.5 494.4h0M118.7 468.5h0M114.8 490.4h0M115.8 495.7h0M118.5 484.8h0M116.5 474.0h0M115.1 491.5h0M113.4 480.8h0M121.1 475.7h0M116.3 493.3h0M116.7 480.3h0M117.6 467.1h0M116.8 473.0h0M119.6 484.5h0M113.3 486.2h0M120.5 465.6h0M111.8 476.6h0M115.8 487.9h0M116.3 492.6h0M118.1 480.0h0M117.6 487.9h0M119.2 446.6h0M116.9 484.7h0M115.3 495.8h0M115.7 492.1h0M115.6 493.6h0M114.2 484.3h0M118.9 475.7h0M115.8 494.7h0M115.4 488.7h0M116.6 491.0h0M115.9 485.0h0M119.7 454.2h0M115.1 490.1h0M112.2 444.5h0M117.5 459.9h0M116.1 493.7h0M118.9 475.0h0M116.4 493.1h0M118.3 468.3h0M107.4 442.2h0M116.8 478.8h0M114.0 486.6h0M115.6 494.7h0M117.5 487.8h0M116.5 485.1h0M113.7 482.4h0M105.7 473.3h0M113.4 486.2h0M115.9 492.3h0M120.5 489.5h0M118.5 488.5h0M118.3 479.0h0M107.1 483.4h0M117.5 482.3h0M116.2 495.3h0M116.7 478.4h0M108.8 435.2h0M121.1 472.6h0M116.6 488.3h0M116.0 495.4h0M112.7 493.9h0M114.2 490.1h0M113.2 437.2h0M107.0 481.5h0M115.5 490.6h0M117.5 460.1h0M117.1 488.0h0M118.7 472.5h0M120.3 469.0h0M109.9 484.0h0M117.5 489.7h0M123.7 392.6h0M108.9 454.6h0M112.7 434.9h0M115.5 494.8h0M114.1 479.0h0M104.6 419.0h0M115.7 494.4h0M113.4 491.8h0M116.9 491.2h0M115.8 494.0h0M106.6 467.5h0M112.9 482.8h0M114.1 472.2h0M121.8 474.1h0M114.2 493.1h0M115.8 495.6h0M117.7 472.4h0M114.6 486.0h0M110.9 448.7h0M114.4 491.2h0M115.5 495.4h0M109.0 446.2h0M115.9 491.4h0M115.6 494.0h0M114.7 493.6h0M111.3 481.7h0M115.7 492.1h0M118.5 456.2h0M116.6 492.7h0M110.6 467.6h0M114.1 494.5h0M118.0 482.4h0M122.3 466.0h0M111.0 477.4h0M112.2 445.7h0M117.5 470.9h0M115.2 495.4h0M118.9 480.0h0M106.8 459.0h0M113.1 480.5h0M117.0 475.7h0M117.5 474.4h0M115.1 494.4h0M117.7 481.6h0M116.0 487.6h0M116.1 490.4h0M116.9 488.4h0M115.5 490.1h0M111.4 447.3h0M114.1 487.9h0M115.7 494.7h0M114.6 494.5h0M116.5 489.4h0M115.3 494.0h0M115.3 495.3h0M115.2 489.3h0M116.1 490.2h0M114.7 488.9h0M110.7 489.9h0M111.4 470.1h0M106.1 434.9h0M114.3 493.0h0M114.4 490.7h0M112.6 472.2h0M110.6 477.0h0M117.7 478.4h0M120.0 467.3h0M114.4 492.5h0M114.6 486.5h0M113.6 482.8h0M106.1 449.2h0M112.8 486.6h0M116.1 494.7h0M115.9 492.3h0M112.4 485.6h0M112.3 485.4h0M117.2 488.8h0M115.1 492.2h0M114.0 491.3h0M119.8 458.3h0M127.7 481.5h0M114.8 492.5h0M117.3 490.2h0M120.4 470.1h0M114.6 491.3h0M112.1 490.1h0M112.3 474.5h0M119.2 462.1h0M113.1 480.4h0M114.4 470.3h0M117.1 476.0h0M116.3 479.0h0M115.4 491.1h0M113.2 489.7h0M115.9 492.1h0M110.7 468.2h0M117.3 480.5h0M99.6 452.9h0M114.9 495.2h0M115.2 494.5h0M114.1 484.6h0M114.5 493.1h0M113.2 471.9h0M115.3 489.5h0M115.5 495.4h0M119.7 473.3h0M118.8 475.7h0M121.8 438.3h0M114.0 488.8h0M116.5 487.9h0M109.1 464.6h0M119.4 477.0h0M116.3 494.4h0M115.8 492.9h0M117.7 492.9h0M113.3 474.1h0M123.9 442.3h0M112.2 484.9h0M116.2 489.9h0M125.7 457.9h0M113.7 488.1h0M116.2 488.0h0M114.7 491.9h0M116.9 489.8h0M111.3 461.1h0M118.7 477.1h0M109.5 474.4h0M117.1 492.3h0M110.9 481.1h0M114.9 495.5h0M115.3 494.9h0M114.2 493.5h0M115.6 494.8h0M116.8 493.5h0M116.9 481.6h0M112.6 487.1h0M116.6 490.8h0M114.3 493.5h0M115.9 484.1h0M118.2 479.7h0M120.3 457.2h0M115.2 493.6h0M116.3 489.6h0M115.6 495.5h0M115.0 495.4h0M115.1 492.7h0M114.8 486.7h0M114.6 488.2h0M115.3 493.9h0M116.7 487.7h0M117.7 467.3h0M115.4 495.9h0M108.8 471.0h0M113.0 478.1h0M115.3 495.1h0M114.2 484.7h0M119.1 484.4h0M111.4 438.9h0M116.0 491.3h0M117.7 468.9h0M116.7 478.4h0M117.7 480.4h0M111.8 474.9h0M112.7 468.0h0M116.4 488.0h0M107.3 473.5h0M116.3 490.5h0M110.7 464.1h0M114.2 483.9h0M120.5 478.9h0M115.8 494.4h0M116.1 486.9h0M114.1 494.4h0M119.0 486.7h0M115.6 491.8h0M117.6 478.5h0M119.1 481.3h0M120.2 437.0h0M114.6 487.8h0M117.6 486.3h0M114.4 487.1h0M115.4 492.3h0M116.4 480.7h0M119.4 469.3h0M115.9 492.3h0M114.1 491.7h0M114.1 491.3h0M115.9 495.9h0M114.3 487.5h0M115.7 494.6h0M117.2 492.1h0M114.7 493.6h0M116.0 473.3h0M116.8 458.2h0M116.3 494.3h0M114.2 489.9h0M114.7 493.7h0M115.7 495.6h0M114.3 489.1h0M114.0 489.5h0M116.8 488.0h0M113.9 490.0h0M105.4 460.0h0M113.1 491.3h0M115.9 489.4h0M118.9 483.2h0M115.5 492.9h0M114.3 478.4h0M114.3 489.6h0M115.7 494.7h0M114.7 493.5h0M119.4 458.6h0M116.3 479.8h0M117.3 483.6h0M118.0 483.0h0M118.7 472.9h0M117.2 477.7h0M116.0 492.2h0M111.7 472.2h0M115.5 494.6h0M112.4 491.1h0M111.9 480.4h0M115.5 495.8h0M115.7 492.5h0M109.2 490.7h0M121.6 410.2h0M116.4 488.2h0M116.2 484.2h0M111.5 480.5h0M118.5 480.8h0M115.6 491.1h0M115.9 493.0h0M116.6 489.2h0M117.9 484.2h0M115.7 488.7h0M111.4 469.4h0M117.0 491.3h0M118.6 487.5h0M114.2 492.2h0M118.6 487.0h0M112.2 481.4h0M116.5 494.0h0M114.0 479.9h0M116.2 495.0h0M117.1 491.8h0M113.7 488.2h0M114.3 492.2h0M111.0 444.4h0M113.7 485.7h0M116.9 488.5h0M116.0 489.4h0M115.0 494.0h0M113.6 467.6h0M114.8 493.5h0M115.7 493.7h0M121.4 469.8h0M115.9 490.1h0M116.2 483.0h0M113.3 452.8h0M115.8 494.9h0M115.1 493.3h0M106.8 486.5h0M121.2 464.0h0M116.6 475.4h0M115.0 492.0h0M111.5 469.8h0M116.6 493.8h0M115.3 495.1h0M112.2 460.2h0M113.7 484.0h0M117.1 485.6h0M117.5 469.3h0M114.7 485.6h0M117.0 480.9h0M121.1 443.0h0M116.0 493.3h0M115.8 490.3h0M121.3 481.2h0M114.4 493.7h0M106.6 470.4h0M115.1 494.7h0M114.5 488.0h0M117.3 487.9h0M112.5 478.6h0M114.3 491.7h0M116.5 484.2h0M121.5 439.6h0M114.2 489.1h0M110.6 457.2h0M113.7 489.6h0M113.2 487.6h0M111.5 479.6h0M122.1 464.9h0M120.6 467.5h0M110.1 457.6h0M117.8 480.5h0M117.7 476.2h0M111.4 445.1h0M113.1 474.2h0M113.1 467.6h0M114.7 478.8h0M115.7 495.3h0M117.9 476.4h0M116.7 492.0h0M119.2 470.1h0M114.5 477.0h0M118.6 472.5h0M114.7 491.8h0M113.6 484.3h0M121.5 446.8h0M114.9 491.1h0M111.2 484.3h0M118.9 486.8h0M108.7 471.7h0M120.3 443.4h0M118.0 470.6h0M122.6 477.1h0M114.7 492.0h0M117.1 489.7h0M115.0 495.2h0M112.5 435.0h0M117.4 487.7h0M113.9 474.6h0M117.2 460.3h0M111.3 482.2h0M115.1 489.8h0M115.4 495.0h0M116.0 493.4h0M119.7 476.6h0M110.3 471.0h0M116.8 492.2h0M118.9 441.9h0M115.3 495.8h0M113.3 485.3h0M117.2 442.2h0M110.2 491.1h0M114.7 494.3h0M113.9 461.8h0M116.2 459.6h0M113.2 490.1h0M112.6 477.9h0M114.9 487.1h0M116.8 482.1h0M116.0 489.8h0M118.9 474.9h0M122.9 470.6h0M119.4 459.7h0M116.6 491.8h0M114.3 487.2h0M116.4 492.7h0M118.3 477.6h0M115.6 492.1h0M115.0 492.4h0M115.4 492.0h0M116.5 487.2h0M114.5 473.5h0M116.1 492.6h0M117.5 479.0h0M114.5 489.8h0M113.8 481.0h0M115.5 495.3h0M123.5 468.2h0M113.5 483.3h0M114.4 487.4h0M114.0 467.9h0M91.3 399.4h0M115.4 494.9h0M116.4 485.8h0M115.3 495.6h0M117.1 488.4h0M111.0 463.8h0M114.0 488.6h0M119.7 476.7h0M116.8 483.2h0M114.3 491.8h0M111.7 475.2h0M114.6 489.5h0M111.8 474.0h0M115.6 494.0h0M117.0 490.3h0M104.8 408.9h0M117.2 485.0h0M115.1 490.5h0M113.8 485.7h0M119.4 457.0h0M110.8 473.7h0M112.1 463.6h0M113.9 481.8h0M113.1 487.1h0M117.3 486.6h0M110.3 475.4h0M115.6 494.0h0M112.9 479.4h0M115.0 476.4h0M114.1 477.1h0M116.6 493.6h0M120.6 463.7h0M110.0 469.9h0M121.9 483.0h0M117.8 479.0h0M116.0 493.1h0M113.3 482.5h0M119.8 456.9h0M114.3 491.5h0M114.4 481.7h0M115.1 489.6h0M117.3 489.5h0M117.8 487.6h0M120.4 474.0h0M124.5 445.5h0M124.6 441.1h0M116.5 474.4h0M114.4 493.5h0M116.4 477.5h0M119.5 451.6h0M113.6 472.2h0M111.5 460.8h0M115.2 495.7h0M114.8 488.5h0M117.1 481.1h0M124.9 455.8h0M115.4 495.3h0M114.2 493.1h0M111.0 464.2h0M116.3 490.8h0M115.7 493.0h0M116.6 486.3h0M118.1 479.2h0M112.7 481.6h0M120.4 490.5h0M115.6 493.7h0M113.6 472.4h0M113.4 468.7h0M119.7 480.0h0M112.0 485.6h0M121.8 458.6h0M116.8 489.4h0M115.0 494.0h0M116.9 489.0h0M114.4 487.0h0M114.2 492.1h0M117.0 492.2h0M117.8 429.3h0M115.2 495.3h0M115.5 494.5h0M110.3 470.4h0M107.8 459.8h0M115.3 488.6h0M120.1 478.6h0M113.6 481.7h0M114.3 492.3h0M114.0 492.3h0M119.9 478.6h0M115.4 493.7h0M116.6 486.4h0M115.8 490.4h0M116.2 492.1h0M116.2 494.0h0M113.5 478.4h0M119.0 468.1h0M114.3 490.1h0M114.7 485.4h0M114.3 490.7h0M115.4 495.0h0M115.1 495.1h0M106.0 448.4h0M112.9 490.3h0M114.4 480.6h0M116.1 493.4h0M117.4 462.6h0M113.9 485.0h0M114.9 472.8h0M113.5 490.9h0M118.0 481.5h0M114.4 489.9h0M114.9 495.5h0M116.6 488.8h0M114.6 490.4h0M116.2 489.5h0M118.2 485.4h0M119.5 471.4h0M118.0 481.4h0M120.1 478.8h0M119.6 457.2h0M114.0 476.8h0M114.5 489.4h0M119.5 476.9h0M116.2 491.5h0M116.3 482.9h0M116.9 489.9h0M117.4 489.0h0M115.1 494.2h0M116.6 485.6h0M112.2 448.2h0M115.1 494.8h0M119.0 483.4h0M117.3 473.8h0M116.6 489.4h0M117.2 485.1h0M115.4 495.2h0M114.9 495.5h0M116.6 478.6h0M114.8 494.8h0M115.1 495.8h0M115.5 494.3h0M115.8 494.3h0M112.8 469.4h0M116.1 492.2h0M111.6 477.5h0M114.9 494.6h0M118.6 450.8h0M115.0 495.8h0M116.3 493.4h0M115.0 495.9h0M115.3 495.5h0M112.3 464.9h0M121.0 456.9h0M115.6 495.6h0M116.8 478.5h0M117.6 473.0h0M113.7 467.3h0M114.7 488.7h0M112.0 468.7h0M114.9 495.5h0M115.7 485.7h0M110.3 483.6h0M115.0 484.8h0M113.9 493.9h0M115.1 495.6h0M116.8 490.4h0M116.0 485.6h0M115.9 491.8h0M116.6 486.9h0M113.0 490.9h0M114.9 494.7h0M116.8 470.0h0M114.2 476.7h0M112.8 456.9h0M116.8 485.9h0M111.3 441.2h0M115.5 492.3h0M118.6 438.9h0M120.1 488.7h0M114.3 486.6h0M115.0 494.7h0M113.1 478.8h0M116.4 492.8h0M113.9 485.8h0M116.6 492.2h0M121.5 460.4h0M115.0 489.0h0M116.6 495.1h0M117.6 486.1h0M112.0 465.7h0M120.2 472.4h0M115.5 491.7h0M115.2 493.8h0M117.3 482.7h0M108.7 473.0h0M114.7 492.5h0M118.8 481.6h0M116.0 495.4h0M115.1 492.6h0M121.6 461.2h0M116.7 487.1h0M113.9 485.3h0M113.4 490.3h0M117.8 443.2h0M117.9 458.7h0M113.2 482.5h0M115.2 494.2h0M117.3 480.4h0M114.6 492.9h0M113.9 491.4h0M115.1 495.2h0M113.5 488.2h0M116.3 485.3h0M116.3 489.6h0M116.8 481.8h0M115.6 493.9h0M114.9 493.0h0M115.7 493.5h0M121.5 460.8h0M116.8 489.0h0M116.7 489.7h0M121.2 471.5h0M114.8 485.5h0M115.5 494.2h0M111.5 465.4h0M112.3 480.5h0M117.3 477.4h0M113.4 492.1h0M116.0 491.2h0M111.5 452.1h0M116.3 493.1h0M116.2 489.4h0M115.4 494.8h0M115.5 492.4h0M106.1 475.1h0M116.6 456.0h0M115.4 494.3h0M114.1 477.2h0M113.6 473.9h0M117.2 485.0h0M114.6 490.4h0M117.3 453.7h0M104.1 463.9h0M115.5 495.7h0M115.4 495.4h0M111.2 464.5h0M119.9 463.9h0M115.1 495.5h0M113.5 483.4h0M116.7 492.0h0M113.3 484.7h0M114.3 489.2h0M115.4 489.3h0M114.4 493.0h0M114.2 472.5h0M114.4 494.0h0M115.5 491.7h0M113.0 487.5h0M119.1 463.6h0M117.1 473.3h0M119.7 472.6h0M111.5 485.0h0M112.0 471.3h0M117.7 489.2h0M112.7 472.5h0M115.2 488.8h0M114.0 470.4h0M117.1 488.5h0M108.7 463.8h0M117.1 476.6h0M110.8 480.3h0M116.7 490.6h0M117.1 488.2h0M114.0 491.4h0M102.9 480.4h0M114.9 489.6h0M115.2 495.0h0M114.2 493.1h0M109.2 473.7h0M113.9 474.6h0M115.9 486.3h0M115.1 495.8h0M116.1 494.8h0M115.6 492.4h0M113.2 472.5h0M119.0 477.0h0M116.2 490.7h0M113.3 468.8h0M115.1 493.4h0M112.7 480.2h0M108.1 464.2h0M115.4 493.5h0M114.9 493.5h0M117.0 492.0h0M116.8 492.8h0M111.1 485.4h0M116.6 472.3h0M119.5 490.5h0M113.5 478.9h0M125.7 432.5h0M120.5 471.5h0M117.0 479.5h0M115.5 494.0h0M116.2 494.1h0M113.1 490.8h0M114.6 490.3h0M115.1 485.8h0M108.8 482.0h0M119.6 465.4h0M115.3 492.3h0M127.0 450.9h0M115.3 495.6h0M114.9 493.8h0M114.8 493.7h0M114.6 475.4h0M116.7 490.9h0M115.5 495.9h0M116.6 487.4h0M115.5 495.7h0M113.3 468.1h0M118.2 464.9h0M118.9 475.0h0M112.6 482.5h0M121.8 474.4h0M114.9 494.7h0M112.2 457.6h0M113.1 491.3h0M114.5 485.5h0M117.1 494.4h0M116.0 491.9h0M111.2 434.4h0M112.7 490.0h0M117.9 484.8h0M113.9 486.9h0M115.6 489.0h0M119.5 455.9h0M111.4 476.2h0M117.1 486.0h0M111.0 471.5h0M116.2 491.6h0M115.1 480.3h0M115.4 495.8h0M115.9 488.8h0M113.6 482.6h0M105.1 449.8h0M116.6 487.3h0M115.0 490.4h0M117.9 453.3h0M115.7 495.0h0M121.8 475.5h0M112.4 481.0h0M119.5 455.7h0M112.2 467.6h0M115.9 486.1h0M110.8 473.6h0M117.4 488.8h0M120.7 461.9h0M116.1 490.6h0M108.6 486.4h0M109.4 466.9h0M119.0 460.3h0M113.4 483.3h0M114.5 494.5h0M116.7 485.4h0M119.1 479.6h0M115.5 492.9h0M117.1 491.6h0M114.3 489.7h0M117.2 481.6h0M115.6 483.9h0M116.1 493.6h0M112.5 490.9h0M109.6 455.9h0M114.0 490.7h0M109.5 463.7h0M115.4 495.6h0M112.4 478.3h0M119.9 464.4h0M112.2 477.9h0M111.1 442.0h0M111.5 462.3h0M114.9 495.7h0M114.6 488.5h0M117.8 477.5h0M114.0 480.8h0M121.4 476.2h0M115.4 495.1h0M115.1 495.5h0M113.8 477.8h0M117.1 481.0h0M115.9 491.4h0M113.5 488.1h0M118.2 483.7h0M115.6 495.3h0M118.1 487.9h0M117.8 470.2h0M112.7 462.6h0M115.7 491.7h0M116.0 485.3h0M114.0 492.0h0M110.0 473.3h0M99.4 455.6h0M113.7 444.2h0M114.0 489.4h0M115.2 492.5h0M113.9 485.4h0M115.1 486.0h0M116.7 484.7h0M115.0 491.1h0M115.0 495.4h0M119.2 488.8h0M112.5 477.1h0M116.0 484.4h0M111.9 473.1h0M119.8 488.1h0M116.6 482.2h0M110.1 464.0h0M134.4 461.9h0M115.2 494.1h0M113.2 477.6h0M120.5 450.5h0M115.5 489.8h0M112.3 489.6h0M115.2 491.6h0M115.8 486.1h0M116.5 491.9h0M112.6 479.3h0M116.0 487.2h0M119.4 482.3h0M117.7 471.8h0M114.3 489.2h0M115.3 495.6h0M115.3 493.9h0M114.1 481.6h0M112.3 456.1h0M114.7 495.2h0M117.9 486.5h0M115.6 488.0h0M120.6 462.2h0M112.1 461.2h0M114.0 489.1h0M118.9 451.4h0M119.3 470.0h0M116.1 486.8h0M118.9 485.2h0M117.0 489.9h0M117.4 488.0h0M115.5 481.5h0M115.9 493.4h0M116.5 486.9h0M116.2 486.7h0M120.7 443.7h0M112.8 479.4h0M118.0 475.7h0M115.9 494.4h0M119.6 485.5h0M116.2 477.4h0M119.5 481.1h0M114.5 484.2h0M119.6 463.7h0M116.9 479.5h0M114.5 486.0h0M114.7 493.2h0M114.6 491.5h0M110.3 461.1h0M119.5 472.5h0M111.0 441.9h0M117.9 485.0h0M119.3 482.0h0M113.9 488.4h0M105.5 459.3h0M114.7 493.9h0M109.1 468.0h0M115.8 494.7h0M107.1 437.9h0M115.7 489.6h0M115.5 493.1h0M116.5 485.0h0M115.8 493.1h0M113.8 490.2h0M114.8 489.3h0M121.1 487.4h0M116.1 492.1h0M116.5 485.6h0M117.1 492.6h0M108.7 469.1h0M114.4 467.8h0M118.2 484.0h0M116.6 484.8h0M122.0 483.1h0M116.9 490.5h0M117.4 465.9h0M117.5 493.8h0M114.6 493.5h0M115.2 495.9h0M114.8 495.0h0M114.2 491.3h0M115.3 495.4h0M113.5 487.8h0M114.5 493.1h0M107.0 465.2h0M118.6 490.7h0M117.5 482.6h0M116.1 492.6h0M115.9 477.8h0M117.7 485.5h0M115.3 494.2h0M112.2 484.3h0M124.0 486.4h0M115.7 486.3h0M114.1 477.5h0M107.6 468.4h0M116.9 487.2h0M117.5 485.5h0M120.3 479.8h0M119.8 444.4h0M115.6 494.2h0M116.1 491.0h0M111.7 482.4h0M115.9 488.8h0M114.3 487.6h0M115.6 495.7h0M117.8 477.9h0M114.9 494.5h0M117.1 477.0h0M113.9 490.0h0M112.9 468.8h0M111.9 487.2h0M115.3 489.1h0M116.9 485.9h0M116.1 492.9h0M117.1 487.5h0M105.3 460.1h0M110.4 478.0h0M115.0 495.2h0M112.6 486.9h0M115.5 492.7h0M118.3 484.8h0M116.7 487.8h0M115.4 491.6h0M119.4 474.2h0M115.6 495.2h0M115.8 495.5h0M114.4 490.4h0M116.1 494.3h0M106.8 466.1h0M115.5 492.6h0M116.5 489.4h0M117.8 481.9h0M107.5 460.5h0M117.4 463.7h0M113.7 489.2h0M113.3 476.9h0M115.2 492.4h0M116.4 488.8h0M111.6 487.8h0M112.6 467.2h0M116.4 494.0h0M115.0 491.1h0M114.0 471.8h0M114.7 491.1h0M114.0 459.9h0M108.8 450.1h0M115.4 493.4h0M113.4 486.3h0M117.1 468.6h0M118.4 480.3h0M117.5 488.1h0M117.2 472.9h0M116.6 488.7h0M118.0 474.7h0M115.6 494.5h0M115.8 488.1h0M120.0 484.9h0M115.4 495.0h0M116.3 484.2h0M114.1 488.4h0M112.6 468.0h0M113.4 477.2h0M116.9 476.8h0M114.1 484.1h0M113.1 465.3h0M115.5 495.8h0M115.9 494.4h0M123.4 469.0h0M114.4 485.3h0M117.1 486.2h0M116.0 488.9h0M113.0 477.2h0M115.5 489.0h0M115.9 489.1h0M119.1 471.4h0M119.1 484.7h0M114.0 476.1h0M114.9 495.3h0M115.1 492.4h0M114.9 492.2h0M113.4 489.1h0M116.8 492.9h0M116.2 493.4h0M114.8 491.9h0M115.0 493.4h0M119.8 468.8h0M116.1 494.6h0M108.6 407.6h0M110.6 472.9h0M118.9 470.2h0M116.8 477.0h0M113.0 484.8h0M118.6 477.1h0M111.0 457.8h0M115.0 492.9h0M119.7 485.8h0M113.4 488.5h0M114.6 492.1h0M111.1 475.9h0M116.3 484.0h0M118.6 466.8h0M115.8 494.9h0M113.6 466.9h0M114.5 489.9h0M117.3 481.0h0M115.8 494.9h0M113.0 477.6h0M115.4 493.8h0M114.0 491.6h0M115.5 494.9h0M114.5 490.5h0M114.6 495.5h0M116.1 492.8h0M114.8 492.4h0M113.9 486.5h0M114.3 495.4h0M113.1 475.1h0M117.9 461.0h0M118.5 491.1h0M119.3 474.2h0M118.3 436.8h0M114.5 487.7h0M115.0 494.8h0M114.5 489.2h0M110.0 461.7h0M117.1 492.7h0M115.7 493.9h0M101.6 449.2h0M114.5 493.5h0M120.9 482.6h0M115.0 490.0h0M116.4 494.0h0M114.8 486.3h0M116.8 479.4h0M112.2 474.9h0M116.8 482.8h0M100.1 454.8h0M113.1 477.7h0M111.5 472.4h0M106.7 471.9h0M113.8 490.3h0M111.8 481.1h0M110.2 477.3h0M113.5 491.5h0M116.3 490.0h0M121.2 488.9h0M101.7 443.0h0M109.8 440.5h0M115.7 492.9h0M118.5 485.2h0M114.2 483.5h0M115.6 487.6h0M114.5 494.8h0M113.7 489.7h0M114.8 491.5h0M115.2 488.8h0M114.4 493.2h0M112.3 478.5h0M115.9 493.8h0M114.6 492.4h0M116.7 475.7h0M114.9 486.3h0M115.5 494.5h0M115.5 490.0h0M114.2 492.8h0M121.6 480.0h0M116.1 491.2h0M115.6 495.8h0M110.3 475.5h0M114.9 489.1h0M116.2 492.5h0M115.7 495.7h0M117.6 480.9h0M110.3 484.1h0M116.1 478.5h0M115.9 493.6h0M118.4 491.1h0M116.1 487.3h0M117.7 486.7h0M115.8 486.9h0M115.7 491.3h0M116.7 486.8h0M115.2 495.9h0M114.2 489.2h0M119.7 477.9h0M118.6 482.8h0M107.7 472.3h0M116.4 489.5h0M111.6 475.2h0M117.8 457.7h0M115.4 481.5h0M114.0 487.3h0M112.3 474.9h0M109.9 410.1h0M119.7 480.2h0M114.6 471.8h0M117.2 485.3h0M115.7 490.1h0M117.7 473.5h0M115.7 494.2h0M114.3 489.5h0M111.7 466.1h0M115.0 492.9h0M117.1 482.2h0M111.5 464.6h0M113.8 488.2h0M118.8 443.1h0M117.2 485.8h0M117.2 487.2h0M116.8 486.0h0M114.1 467.7h0M117.2 489.4h0M111.5 484.0h0M113.4 488.6h0M115.8 491.2h0M116.8 483.5h0M114.3 493.7h0M114.8 494.6h0M114.5 486.6h0M119.2 475.6h0M115.7 494.7h0M111.0 477.7h0M115.4 493.4h0M117.7 471.2h0M116.8 485.5h0M115.7 491.1h0M117.1 488.8h0M115.2 494.2h0M115.2 489.2h0M121.4 453.3h0M114.4 490.4h0M115.9 494.2h0M112.3 472.0h0M124.3 474.8h0M116.7 486.2h0M114.7 492.9h0M114.8 487.1h0M110.8 478.3h0M116.0 494.2h0M118.2 478.6h0M117.3 460.0h0M114.7 491.1h0M115.5 488.4h0M113.1 466.8h0M113.0 483.3h0M117.9 467.8h0M117.4 481.7h0M114.7 493.5h0M93.0 474.9h0M107.6 480.7h0M116.6 493.9h0M116.5 490.2h0M113.6 465.5h0M112.0 415.8h0M110.7 485.1h0M116.9 492.9h0M115.8 492.3h0M119.7 475.2h0M126.1 463.1h0M119.6 474.4h0M109.9 406.6h0M129.6 430.1h0M114.4 492.6h0M112.8 468.6h0M114.2 493.9h0M115.7 494.4h0M111.1 464.9h0M115.7 495.2h0M110.2 472.1h0M113.9 485.5h0M118.8 476.0h0M120.5 451.6h0M115.0 492.5h0M117.6 475.7h0M113.7 490.9h0M122.5 481.2h0M116.3 493.0h0M101.1 458.8h0M115.6 495.7h0M114.7 492.7h0M116.0 491.4h0M118.0 485.8h0M116.1 494.9h0M114.0 490.0h0M121.9 477.4h0M117.7 486.1h0M118.4 487.3h0M111.8 434.5h0M116.8 492.3h0M118.5 469.5h0M116.3 494.3h0M117.3 482.2h0M109.8 482.2h0M118.5 462.5h0M110.7 441.8h0M111.0 474.3h0M114.3 481.6h0M114.2 494.9h0M113.5 486.1h0M115.9 488.3h0M109.3 468.3h0M114.4 490.2h0M115.3 491.2h0M113.9 479.1h0M110.6 483.3h0M116.0 492.4h0M116.1 493.6h0M112.1 470.5h0M113.7 479.4h0M116.1 489.4h0M115.4 490.0h0M114.0 482.9h0M120.4 475.3h0M117.2 481.0h0M114.6 471.0h0M104.6 465.9h0M117.9 449.3h0M114.6 493.8h0M117.7 490.6h0M115.4 495.5h0M117.6 477.3h0M115.5 495.6h0M115.8 495.8h0M114.5 490.1h0M116.1 494.8h0M114.9 488.7h0M120.2 474.9h0M117.0 486.6h0M113.9 493.5h0M116.3 478.5h0M119.2 484.8h0M115.5 495.6h0M114.5 485.5h0M115.2 492.2h0M111.9 484.8h0M115.7 491.5h0M112.2 471.9h0M117.0 487.0h0M115.5 492.0h0M116.2 492.7h0M114.1 485.2h0M115.9 492.1h0M114.2 488.4h0M112.9 487.6h0M105.3 477.9h0M113.9 474.2h0M118.5 477.8h0M110.6 477.1h0M110.8 437.2h0M117.8 470.1h0M119.1 451.7h0M112.5 477.8h0M108.1 410.9h0M119.0 488.2h0M109.6 454.5h0M115.0 495.7h0M115.1 488.3h0M112.0 472.7h0M113.8 490.6h0M118.5 481.1h0M115.1 495.8h0M118.5 487.4h0M116.6 480.2h0M114.1 477.9h0M113.5 477.2h0M115.2 493.4h0M116.6 492.4h0M119.2 472.4h0M113.3 485.6h0M115.5 489.3h0M113.2 490.0h0M114.6 493.4h0M116.3 480.8h0M116.3 487.5h0M115.1 495.9h0M116.5 493.3h0M110.7 470.7h0M115.4 494.9h0M116.3 490.5h0M117.9 481.2h0M115.0 491.8h0M113.3 487.2h0M114.5 494.1h0M126.7 434.9h0M112.3 459.9h0M114.6 489.8h0M114.8 493.2h0M111.7 455.0h0M118.7 489.3h0M117.5 481.8h0M113.4 478.8h0M112.4 486.2h0M117.1 486.9h0M114.2 487.2h0M119.2 442.5h0M122.5 430.8h0M116.5 466.1h0M108.2 483.9h0M115.5 494.9h0M115.5 494.1h0M117.0 483.1h0M103.9 477.2h0M114.8 493.9h0M115.7 487.2h0M112.3 474.4h0M115.7 491.5h0M114.9 494.1h0M112.2 488.3h0M115.7 495.6h0M115.1 489.6h0M114.2 490.9h0M107.9 464.8h0M118.9 473.7h0M114.8 492.8h0M119.7 490.2h0M110.4 461.6h0M115.8 493.4h0M114.8 495.0h0M114.5 492.7h0M115.6 481.8h0M119.2 476.5h0M120.3 476.7h0M114.2 491.4h0M111.2 468.2h0M114.0 485.4h0M117.3 484.7h0M118.7 480.5h0M113.8 476.9h0M119.4 473.5h0M115.6 495.6h0M115.9 475.4h0M115.2 494.8h0M115.2 493.2h0M110.2 481.8h0M113.9 487.9h0M116.1 494.5h0M115.9 492.5h0M116.5 483.7h0M111.3 470.8h0M116.0 488.6h0M119.9 462.5h0M117.8 467.9h0M107.2 443.4h0M113.2 490.1h0M119.0 480.1h0M120.6 441.8h0M116.3 488.1h0M116.4 495.1h0M113.9 490.0h0M114.6 485.7h0M114.0 491.0h0M116.8 476.9h0M114.6 493.6h0M117.4 483.8h0M116.3 489.4h0M114.8 495.0h0M111.4 427.3h0M113.9 486.1h0M116.7 481.7h0M113.9 476.2h0M116.3 488.9h0M115.3 493.8h0M113.4 479.1h0M117.0 473.0h0M117.5 485.1h0M113.2 482.3h0M116.9 483.7h0M117.7 450.9h0M96.6 435.7h0M111.9 483.6h0M115.5 490.4h0M113.7 486.0h0M115.6 495.5h0M115.6 493.3h0M114.8 492.9h0M116.0 493.1h0M113.6 492.4h0M115.1 491.4h0M114.6 494.7h0M115.2 493.6h0M114.0 486.7h0M118.6 465.4h0M113.7 450.8h0M118.7 482.2h0M118.2 486.9h0M116.1 488.1h0M114.1 472.6h0M117.1 469.5h0M115.9 491.1h0M116.6 482.8h0M110.3 467.0h0M108.7 446.6h0M113.1 481.8h0M117.7 488.5h0M115.7 495.5h0M127.3 452.9h0M119.0 446.4h0M114.7 495.3h0M112.9 487.4h0M113.5 483.2h0M116.3 489.2h0M123.1 470.0h0M116.7 488.2h0M115.1 489.8h0M115.1 493.7h0M115.3 493.6h0M114.1 489.7h0M116.2 493.4h0M114.1 468.2h0M115.1 493.5h0M116.1 486.1h0M116.7 491.7h0M116.3 488.6h0M115.1 493.7h0M114.1 469.3h0M104.1 464.7h0M115.6 495.7h0M110.4 487.3h0M117.0 469.4h0M121.1 486.4h0M114.9 487.4h0M116.3 490.4h0M116.0 492.0h0M115.5 494.7h0M116.0 483.1h0M125.1 457.1h0M121.0 463.7h0M111.6 428.6h0M116.4 490.9h0M115.8 495.8h0M116.3 490.2h0M116.9 479.9h0M113.7 487.0h0M113.7 467.9h0M113.7 486.9h0M112.7 487.0h0M114.3 486.7h0M119.8 468.5h0M113.8 491.0h0M116.8 478.6h0M115.8 495.1h0M112.4 488.3h0M112.6 473.2h0M118.0 450.8h0M116.4 491.4h0M114.8 489.7h0M115.1 492.0h0M114.7 483.8h0M113.7 479.2h0M118.0 487.6h0M112.0 477.6h0M114.2 463.8h0M116.0 492.9h0M115.4 495.2h0M114.3 466.8h0M111.7 469.2h0M117.1 490.4h0M131.8 460.7h0M112.7 491.0h0M112.1 469.7h0M116.6 491.4h0M116.3 492.7h0M114.8 494.8h0M118.7 477.4h0M116.1 491.2h0M117.0 490.6h0M117.1 481.9h0M117.0 468.8h0M114.8 494.8h0M112.6 486.2h0M117.6 472.9h0M115.9 495.9h0M114.3 492.1h0M120.6 451.2h0M116.4 493.8h0M114.6 493.3h0M117.0 487.7h0M113.7 480.0h0M116.9 489.4h0M123.4 433.1h0M116.3 491.1h0M111.9 413.7h0M115.8 490.3h0M114.0 484.6h0M115.8 494.1h0M118.8 475.8h0M115.1 495.5h0M113.0 478.0h0M117.4 490.0h0M114.1 483.6h0M114.7 492.4h0M118.2 473.6h0M115.3 492.0h0M113.6 487.3h0M118.4 477.8h0M123.2 480.5h0M114.4 494.4h0M113.6 483.6h0M117.8 483.4h0M114.2 488.0h0M116.8 476.4h0M115.5 494.5h0M114.4 493.6h0M112.4 479.9h0M116.5 491.2h0M115.1 489.4h0M114.5 491.8h0M114.9 492.6h0M116.2 490.8h0M116.4 489.9h0M117.1 489.2h0M106.9 449.3h0M119.1 466.7h0M113.9 489.4h0M116.8 491.0h0M116.8 474.8h0M115.7 495.2h0M115.6 494.2h0M119.9 483.8h0M115.6 493.8h0M117.7 483.8h0M122.7 477.3h0M116.8 486.8h0M111.3 483.1h0M115.0 494.7h0M113.5 489.1h0M124.1 444.8h0M117.1 489.4h0M112.9 481.4h0M118.9 481.0h0M117.0 479.2h0M117.1 489.5h0M116.4 495.3h0M115.9 493.6h0M114.3 493.2h0M111.0 483.7h0M119.6 479.4h0M114.4 494.7h0M118.4 460.7h0M119.4 477.5h0M118.6 485.1h0M114.3 481.4h0M116.7 478.5h0M115.0 483.3h0M116.2 485.6h0M118.0 479.3h0M115.0 495.2h0M113.8 479.1h0M114.3 487.7h0M114.8 492.8h0M118.0 488.5h0M115.3 493.6h0M115.7 495.0h0M112.5 474.6h0M118.9 489.3h0M117.6 449.5h0M117.9 468.9h0M110.5 466.1h0M109.5 451.3h0M115.5 494.8h0M118.9 474.7h0M116.0 489.9h0M113.1 481.5h0M116.8 483.7h0M123.9 445.8h0M115.9 492.3h0M115.7 492.2h0M115.9 490.5h0M115.0 491.1h0M116.2 494.2h0M117.4 477.2h0M114.3 487.9h0M112.3 485.2h0M107.7 471.7h0M114.5 487.2h0M121.0 410.1h0M113.7 471.4h0M117.9 485.4h0M115.5 494.2h0M117.8 485.9h0M118.6 478.9h0M113.3 475.0h0M117.0 481.1h0M115.6 494.8h0M119.5 475.0h0M114.6 481.0h0M114.8 493.8h0M115.0 490.3h0M114.1 483.7h0M112.8 466.6h0M111.9 484.9h0M115.5 494.5h0M116.3 487.6h0M121.3 457.0h0M112.8 454.9h0M115.1 486.4h0M117.3 487.8h0M114.2 487.2h0M116.6 488.4h0M114.2 491.1h0M113.2 480.1h0M113.8 492.8h0M115.2 495.2h0M111.1 482.9h0M114.2 490.4h0M109.1 483.1h0M115.7 491.9h0M114.5 493.0h0M116.0 495.2h0M117.8 455.4h0M117.1 484.8h0M117.4 476.9h0M115.8 495.8h0M113.6 486.4h0M111.0 480.1h0M111.4 469.4h0M115.3 495.5h0M114.7 491.4h0M112.3 461.6h0M116.9 483.0h0M114.2 486.7h0M113.5 469.7h0M109.8 476.9h0M114.2 482.5h0M115.6 487.0h0M120.1 472.3h0M114.8 487.1h0M114.5 488.5h0M111.9 481.1h0M111.9 472.5h0M113.9 490.4h0M117.8 467.9h0M115.3 495.1h0M114.8 495.1h0M116.2 493.5h0M121.4 486.8h0M117.1 482.8h0M117.5 488.2h0M113.7 483.5h0M108.9 477.2h0M113.8 479.6h0M115.1 491.9h0M111.8 470.1h0M110.4 482.1h0M114.8 494.0h0M113.0 461.4h0M104.3 456.6h0M114.7 494.1h0M118.4 487.8h0M114.0 493.5h0M120.0 471.7h0M115.7 491.9h0M116.5 490.7h0M115.2 488.9h0M117.2 491.9h0M116.8 490.7h0M114.1 489.8h0M108.8 470.0h0M116.5 492.8h0M106.3 473.0h0M115.4 494.9h0M115.3 494.2h0M115.6 487.7h0M115.0 494.6h0M112.3 482.0h0M113.0 471.2h0M116.4 490.3h0M116.6 493.1h0M114.8 488.2h0M116.9 493.9h0M114.7 493.3h0M116.6 492.6h0M116.2 483.3h0M111.5 475.0h0M117.2 484.8h0M114.0 473.7h0M116.6 489.9h0M113.4 484.3h0M115.6 490.4h0M113.3 493.3h0M116.8 481.0h0M114.1 485.6h0M114.1 489.9h0M114.8 479.6h0M116.2 491.0h0M109.1 444.1h0M117.3 483.3h0M118.1 482.5h0M114.5 493.1h0M116.3 465.4h0M112.6 483.5h0M119.1 467.2h0M112.7 471.2h0M116.5 488.4h0M115.7 491.4h0M116.9 485.2h0M105.7 452.7h0M117.0 487.8h0M114.3 489.6h0M115.3 495.8h0M114.6 489.0h0M121.8 491.9h0M114.6 474.1h0M115.3 495.6h0M122.0 486.7h0M117.0 485.3h0M115.0 482.4h0M119.1 489.2h0M114.5 492.9h0M116.8 493.3h0M113.9 476.1h0M114.7 485.7h0M117.2 494.3h0M115.4 493.9h0M110.9 465.8h0M119.2 483.5h0M122.4 464.3h0M115.3 490.2h0M114.3 483.2h0M110.2 448.8h0M114.9 477.3h0M113.9 494.8h0M115.2 493.9h0M109.3 467.4h0M119.6 469.8h0M116.0 495.9h0M114.0 491.3h0M115.5 487.0h0M116.3 489.5h0M114.1 493.9h0M110.2 487.7h0M115.0 492.9h0M113.3 485.2h0M115.1 495.7h0M114.4 493.0h0M126.7 477.9h0M113.8 470.8h0M114.2 478.3h0M119.0 461.1h0M120.8 458.6h0M114.2 489.3h0M118.7 487.9h0M114.3 484.2h0M114.7 473.9h0M109.2 469.6h0M114.8 487.8h0M113.4 480.6h0M115.3 495.4h0M119.0 477.2h0M118.4 473.6h0M117.0 479.3h0M121.1 480.5h0M115.1 493.9h0M117.1 480.1h0M104.3 448.5h0M117.6 467.1h0M110.5 466.8h0M113.2 474.6h0M115.3 480.5h0M117.7 483.9h0M112.0 476.6h0M122.2 466.3h0M115.9 492.8h0M115.1 495.1h0M115.3 493.6h0M116.6 478.1h0M119.3 469.7h0M112.4 478.0h0M118.3 478.3h0M119.3 471.7h0M112.2 474.6h0M122.4 465.2h0M114.5 491.3h0M111.4 456.8h0M116.0 491.4h0M116.8 487.3h0M117.3 479.2h0M115.2 486.7h0M113.9 485.9h0M109.6 484.6h0M116.9 479.3h0M117.6 486.0h0M115.1 492.3h0M117.7 493.0h0M116.8 485.6h0M116.3 492.3h0M110.9 477.0h0M114.9 493.4h0M108.3 462.1h0M114.9 492.5h0M115.2 495.6h0M114.8 490.8h0M116.9 481.5h0M118.7 487.0h0M116.5 490.9h0M114.8 490.2h0M112.4 468.4h0M117.1 485.5h0M114.8 487.7h0M117.9 484.6h0M116.2 495.4h0M121.4 483.1h0M115.4 495.1h0M116.9 492.2h0M117.6 486.2h0M116.9 481.4h0M114.3 493.9h0M116.1 488.5h0M116.1 494.9h0M120.0 475.1h0M114.4 491.2h0M118.6 449.4h0M115.7 488.5h0M120.9 481.0h0M103.6 470.7h0M113.9 463.4h0M117.7 485.3h0M114.3 492.7h0M114.0 491.7h0M100.9 458.2h0M115.3 495.3h0M114.5 489.3h0M115.9 482.2h0M116.4 489.5h0M116.7 485.7h0M116.2 491.7h0M118.6 479.1h0M113.5 490.0h0M111.6 475.3h0M114.3 492.3h0M117.5 487.9h0M118.3 477.0h0M116.5 482.5h0M115.5 492.3h0M114.3 491.7h0M115.0 494.7h0M116.9 474.3h0M116.0 494.7h0M115.1 492.7h0M114.6 492.7h0M115.3 492.4h0M113.2 487.2h0M109.6 451.7h0M111.2 447.8h0M114.1 491.4h0M117.7 484.6h0M115.4 486.9h0M115.2 495.2h0M114.0 492.1h0M115.7 493.9h0M112.3 476.0h0M115.0 495.3h0M109.7 455.2h0M117.7 489.9h0M111.1 479.2h0M106.3 441.7h0M116.5 492.6h0M113.9 493.6h0M113.5 479.4h0M114.9 492.0h0M114.2 465.2h0M113.7 484.4h0M116.0 482.4h0M114.7 490.1h0M114.7 493.9h0M111.6 480.9h0M117.1 490.4h0M110.8 483.8h0M117.1 474.9h0M114.8 491.9h0M117.3 480.7h0M113.7 477.1h0M119.2 467.3h0M115.0 495.1h0M115.8 494.6h0M116.2 479.2h0M115.0 492.4h0M114.3 490.8h0M115.1 494.7h0M119.9 425.6h0M115.3 494.0h0M118.1 486.3h0M116.9 481.9h0M117.6 488.2h0M117.3 486.8h0M115.4 494.5h0M115.6 492.0h0M116.9 490.6h0M116.7 477.1h0M114.9 491.3h0M118.9 452.1h0M115.7 494.6h0M118.5 489.1h0M116.2 477.1h0M116.4 491.5h0M113.7 480.1h0M113.8 489.7h0M120.4 467.9h0M115.1 495.6h0M121.8 486.8h0M115.0 492.7h0M113.6 484.5h0M112.1 487.8h0M139.8 377.0h0M117.6 479.9h0M112.8 488.8h0M113.3 485.8h0M114.7 494.9h0M113.1 480.6h0M115.8 494.8h0M115.1 494.3h0M113.6 488.8h0M112.3 457.9h0M116.1 492.3h0M113.9 490.6h0M115.0 493.4h0M118.5 488.9h0M116.8 470.1h0M114.2 488.0h0M112.1 470.8h0M121.8 484.8h0M112.6 491.8h0M114.7 488.8h0M116.7 491.4h0M113.8 485.8h0M118.7 490.3h0M105.4 471.7h0M115.8 490.6h0M121.4 462.3h0M114.3 490.6h0M114.8 495.1h0M116.3 489.2h0M112.3 469.2h0M122.1 444.0h0M113.8 479.3h0M113.9 486.3h0M115.0 494.3h0M110.3 473.5h0M114.2 477.8h0M122.7 473.8h0M113.6 482.2h0M117.0 486.3h0M117.0 480.4h0M114.0 491.5h0M114.2 494.1h0M111.8 478.5h0M114.7 475.6h0M114.1 493.1h0M117.3 484.2h0M115.3 494.1h0M113.6 476.5h0M118.0 488.6h0M117.6 486.2h0M112.6 481.6h0M109.6 453.2h0M115.8 491.5h0M118.3 489.6h0M104.9 459.5h0M124.6 467.7h0M116.2 481.7h0M116.8 488.9h0M114.4 477.6h0M116.4 492.4h0M119.1 474.5h0M116.6 492.1h0M112.7 471.6h0M112.5 487.8h0M117.8 476.2h0M114.8 493.2h0M119.1 489.2h0M113.8 492.9h0M118.6 464.5h0M119.3 466.7h0M117.7 472.2h0M114.4 492.8h0M117.0 470.2h0M113.9 489.5h0M112.7 484.2h0M115.8 492.7h0M119.3 487.5h0M111.7 481.4h0M108.9 468.6h0M115.9 492.9h0M118.7 478.0h0M114.5 485.1h0M105.5 477.3h0M115.0 494.4h0M115.9 489.3h0M115.0 494.4h0M116.8 485.9h0M109.0 479.4h0M113.9 462.9h0M116.1 474.8h0M116.8 480.3h0M118.0 471.8h0M110.8 470.4h0M117.9 459.9h0M117.2 487.8h0M111.7 480.6h0M121.8 466.6h0M116.7 479.7h0M121.2 460.7h0M116.4 467.0h0M119.0 472.7h0M117.6 462.1h0M116.0 481.5h0M117.1 482.8h0M115.4 476.9h0M117.3 478.4h0M119.8 486.4h0M114.8 493.1h0M114.9 493.0h0M111.9 485.6h0M110.9 443.3h0M115.6 495.6h0M121.1 473.2h0M117.9 478.4h0M103.8 437.5h0M114.6 494.4h0M115.1 495.0h0M115.8 489.4h0M116.5 480.4h0M115.1 494.8h0M118.5 440.9h0M118.6 486.7h0M117.1 490.8h0M117.8 478.1h0M115.9 491.9h0M115.0 492.8h0M115.2 492.1h0M115.9 492.2h0M116.8 460.5h0M116.1 488.6h0M114.6 490.6h0M115.7 495.3h0M112.1 484.6h0M115.7 492.8h0M119.6 482.1h0M112.0 482.2h0M111.4 472.1h0M112.8 487.3h0M118.0 466.0h0M116.8 490.9h0M111.4 491.9h0M114.8 489.1h0M113.8 489.8h0M118.1 486.9h0M114.4 487.5h0M114.8 494.1h0M113.8 480.4h0M116.6 493.1h0M114.0 487.8h0M111.4 460.4h0M114.4 493.6h0M109.1 460.1h0M111.2 462.5h0M118.9 476.3h0M113.5 477.4h0M114.9 489.4h0M117.5 477.0h0M115.8 493.5h0M113.7 478.5h0M113.4 473.4h0M118.5 480.2h0M116.0 495.8h0M117.2 488.3h0M116.3 487.9h0M116.3 478.3h0M115.8 493.2h0M116.0 494.8h0M122.3 478.6h0M116.5 485.4h0M113.3 481.7h0M113.3 469.1h0M117.0 493.1h0M115.7 490.6h0M116.3 493.9h0M107.8 462.0h0M122.0 463.0h0M114.5 484.0h0M113.8 485.0h0M119.8 474.9h0M114.7 493.2h0M115.5 490.6h0M113.3 489.6h0M115.9 487.8h0M115.0 492.8h0M111.0 486.5h0M116.5 477.7h0M112.7 487.0h0M116.3 491.3h0M116.3 493.7h0M117.8 487.1h0M116.0 492.7h0M114.3 487.5h0M114.8 488.0h0M115.7 494.5h0M114.2 468.3h0M117.2 472.5h0M117.1 492.9h0M106.0 452.4h0M114.6 493.7h0M116.5 490.1h0M113.0 471.8h0M116.4 490.5h0M112.8 473.2h0M115.2 495.9h0M117.1 474.2h0" stroke="#bcbcbc" stroke-opacity="0.75" stroke-width="1.6" stroke-linecap="round" fill="none"/>
<path d="M139.3 285 C139.5 292.5 139.9 312.3 140.5 330.0 C141.1 347.7 141.7 374.1 142.9 391.0 C144.1 407.9 145.7 421.1 147.5 431.5 C149.3 441.9 150.7 448.0 153.9 453.5 C157.1 459.0 161.6 461.9 166.8 464.6 C172.0 467.4 179.6 468.8 185.1 470.0 C190.6 471.2 190.8 471.4 199.9 472.0 C209.1 472.6 226.3 473.3 240.0 473.8 C253.7 474.3 274.8 474.6 281.8 474.8" fill="none" stroke="#222" stroke-width="0.9" stroke-dasharray="2 2"/>
<path d="M90.4 285.5 C90.2 296.8 90.2 333.0 89.3 353.5 C88.4 374.0 87.3 394.0 84.9 408.7 C82.5 423.4 79.7 432.5 75.0 441.8 C70.3 451.1 59.7 460.8 56.6 464.6" fill="none" stroke="#222" stroke-width="0.9" stroke-dasharray="2 2"/>
<circle cx="77.6" cy="411.6" r="1.6" fill="#111"/>
<circle cx="140.1" cy="328.7" r="1.6" fill="#111"/>
<circle cx="195.4" cy="336.1" r="1.6" fill="#111"/>
<circle cx="142" cy="356.3" r="1.6" fill="#111"/>
<circle cx="193.4" cy="355.4" r="1.6" fill="#111"/>
<circle cx="224.1" cy="353.5" r="1.6" fill="#111"/>
<circle cx="246.1" cy="340.8" r="1.6" fill="#111"/>
<circle cx="142" cy="365.3" r="1.6" fill="#111"/>
<circle cx="180.5" cy="364" r="1.6" fill="#111"/>
<circle cx="151.1" cy="370.6" r="1.6" fill="#111"/>
<circle cx="179.3" cy="371.4" r="1.6" fill="#111"/>
<circle cx="202.6" cy="373.5" r="1.6" fill="#111"/>
<circle cx="185.5" cy="376.2" r="1.6" fill="#111"/>
<circle cx="170" cy="378.9" r="1.6" fill="#111"/>
<circle cx="153.5" cy="381.7" r="1.6" fill="#111"/>
<circle cx="178.2" cy="381.7" r="1.6" fill="#111"/>
<circle cx="181.1" cy="384.3" r="1.6" fill="#111"/>
<circle cx="185.1" cy="383.5" r="1.6" fill="#111"/>
<circle cx="206.8" cy="384.3" r="1.6" fill="#111"/>
<circle cx="206.5" cy="384.7" r="1.6" fill="#111"/>
<circle cx="144.3" cy="391.6" r="1.6" fill="#111"/>
<circle cx="174.1" cy="394.6" r="1.6" fill="#111"/>
<circle cx="157.2" cy="394.9" r="1.6" fill="#111"/>
<circle cx="187.4" cy="397.1" r="1.6" fill="#111"/>
<circle cx="159.4" cy="399" r="1.6" fill="#111"/>
<circle cx="162.2" cy="398.2" r="1.6" fill="#111"/>
<circle cx="170.8" cy="403.2" r="1.6" fill="#111"/>
<circle cx="142.5" cy="405" r="1.6" fill="#111"/>
<circle cx="159" cy="405" r="1.6" fill="#111"/>
<circle cx="156.3" cy="407.4" r="1.6" fill="#111"/>
<circle cx="179.3" cy="409.6" r="1.6" fill="#111"/>
<circle cx="163.1" cy="424" r="1.6" fill="#111"/>
<circle cx="149.9" cy="429.5" r="1.6" fill="#111"/>
<circle cx="148.4" cy="431.7" r="1.6" fill="#111"/>
<circle cx="160.3" cy="435.7" r="1.6" fill="#111"/>
<circle cx="159.8" cy="443.1" r="1.6" fill="#111"/>
<circle cx="167.7" cy="451.5" r="1.6" fill="#111"/>
<circle cx="202.5" cy="373.7" r="1.6" fill="#111"/>
<line x1="158.1" y1="318" x2="158.1" y2="330" stroke="#555" stroke-width="0.8"/>
<line x1="165.3" y1="402.6" x2="188" y2="409" stroke="#555" stroke-width="0.8"/>
<line x1="168" y1="410" x2="193" y2="425" stroke="#555" stroke-width="0.8"/>
<line x1="178" y1="425" x2="190" y2="440" stroke="#555" stroke-width="0.8"/>
<line x1="160.3" y1="422.5" x2="163" y2="450" stroke="#555" stroke-width="0.8"/>
<circle cx="150.8" cy="295.6" r="2.1" fill="#1a7cc4" stroke="#0c3d66" stroke-width="0.7"/>
<circle cx="158.1" cy="330" r="2.1" fill="#1a7cc4" stroke="#0c3d66" stroke-width="0.7"/>
<circle cx="145.6" cy="329.3" r="2.1" fill="#1a7cc4" stroke="#0c3d66" stroke-width="0.7"/>
<circle cx="172.3" cy="325" r="2.1" fill="#1a7cc4" stroke="#0c3d66" stroke-width="0.7"/>
<circle cx="144.3" cy="355.4" r="2.1" fill="#1a7cc4" stroke="#0c3d66" stroke-width="0.7"/>
<circle cx="146.9" cy="358.7" r="2.1" fill="#1a7cc4" stroke="#0c3d66" stroke-width="0.7"/>
<circle cx="202" cy="356.8" r="2.1" fill="#1a7cc4" stroke="#0c3d66" stroke-width="0.7"/>
<circle cx="212.4" cy="362.7" r="2.1" fill="#1a7cc4" stroke="#0c3d66" stroke-width="0.7"/>
<circle cx="185.3" cy="373.9" r="2.1" fill="#1a7cc4" stroke="#0c3d66" stroke-width="0.7"/>
<circle cx="218.6" cy="376" r="2.1" fill="#1a7cc4" stroke="#0c3d66" stroke-width="0.7"/>
<circle cx="229.5" cy="379.7" r="2.1" fill="#1a7cc4" stroke="#0c3d66" stroke-width="0.7"/>
<circle cx="266.3" cy="398.1" r="2.1" fill="#1a7cc4" stroke="#0c3d66" stroke-width="0.7"/>
<circle cx="169.2" cy="383" r="2.1" fill="#1a7cc4" stroke="#0c3d66" stroke-width="0.7"/>
<circle cx="154.8" cy="390.9" r="2.1" fill="#1a7cc4" stroke="#0c3d66" stroke-width="0.7"/>
<circle cx="195.8" cy="392.2" r="2.1" fill="#1a7cc4" stroke="#0c3d66" stroke-width="0.7"/>
<circle cx="148.9" cy="409.6" r="2.1" fill="#1a7cc4" stroke="#0c3d66" stroke-width="0.7"/>
<circle cx="149.3" cy="413" r="2.1" fill="#1a7cc4" stroke="#0c3d66" stroke-width="0.7"/>
<circle cx="165.3" cy="402.6" r="2.1" fill="#1a7cc4" stroke="#0c3d66" stroke-width="0.7"/>
<circle cx="168" cy="410" r="2.1" fill="#1a7cc4" stroke="#0c3d66" stroke-width="0.7"/>
<circle cx="199.5" cy="417.9" r="2.1" fill="#1a7cc4" stroke="#0c3d66" stroke-width="0.7"/>
<circle cx="160.3" cy="422.5" r="2.1" fill="#1a7cc4" stroke="#0c3d66" stroke-width="0.7"/>
<circle cx="176.9" cy="423.4" r="2.1" fill="#1a7cc4" stroke="#0c3d66" stroke-width="0.7"/>
<circle cx="178.7" cy="423.4" r="2.1" fill="#1a7cc4" stroke="#0c3d66" stroke-width="0.7"/>
<circle cx="156.3" cy="434.4" r="2.1" fill="#1a7cc4" stroke="#0c3d66" stroke-width="0.7"/>
<text x="156.7" y="299.7" font-size="8.5" text-anchor="start" font-weight="bold" fill="#1f86c8">STAT1</text>
<text x="146.9" y="315.7" font-size="8.5" text-anchor="start" font-weight="bold" fill="#1f86c8">OAS3</text>
<text x="146.2" y="326.7" font-size="8.5" text-anchor="end" font-weight="bold" fill="#1f86c8">IFI35</text>
<text x="175.6" y="327.79999999999995" font-size="8.5" text-anchor="start" font-weight="bold" fill="#1f86c8">STAT2</text>
<text x="157.2" y="340.09999999999997" font-size="8.5" text-anchor="start" font-weight="bold" fill="#1f86c8">SAMHD1</text>
<text x="143.8" y="353.0" font-size="8.5" text-anchor="start" font-weight="bold" fill="#1f86c8">HLA-A</text>
<text x="178.2" y="353.59999999999997" font-size="8.5" text-anchor="start" font-weight="bold" fill="#1f86c8">OASL</text>
<text x="214.8" y="363.0" font-size="8.5" text-anchor="start" font-weight="bold" fill="#1f86c8">IFIT3</text>
<text x="144.7" y="368.09999999999997" font-size="8.5" text-anchor="start" font-weight="bold" fill="#1f86c8">PSMB8</text>
<text x="183.7" y="371.2" font-size="8.5" text-anchor="start" font-weight="bold" fill="#1f86c8">IFIT2</text>
<text x="220.3" y="375.2" font-size="8.5" text-anchor="start" font-weight="bold" fill="#1f86c8">ISG15</text>
<text x="231.9" y="386.59999999999997" font-size="8.5" text-anchor="start" font-weight="bold" fill="#1f86c8">IFIT1</text>
<text x="135.1" y="388.9" font-size="8.5" text-anchor="start" font-weight="bold" fill="#1f86c8">OAS1</text>
<text x="163.6" y="392.59999999999997" font-size="8.5" text-anchor="start" font-weight="bold" fill="#1f86c8">IRF9</text>
<text x="198.4" y="399.0" font-size="8.5" text-anchor="start" font-weight="bold" fill="#1f86c8">HLA-B</text>
<text x="252.9" y="406.79999999999995" font-size="8.5" text-anchor="start" font-weight="bold" fill="#1f86c8">MX1</text>
<text x="148.4" y="403.59999999999997" font-size="8.5" text-anchor="end" font-weight="bold" fill="#1f86c8">BST2</text>
<text x="188.8" y="411.5" font-size="8.5" text-anchor="start" font-weight="bold" fill="#1f86c8">HLA-B</text>
<text x="201.7" y="422.0" font-size="8.5" text-anchor="start" font-weight="bold" fill="#1f86c8">OAS2</text>
<text x="152.4" y="422.9" font-size="8.5" text-anchor="end" font-weight="bold" fill="#1f86c8">HLA-C</text>
<text x="164" y="433.0" font-size="8.5" text-anchor="start" font-weight="bold" fill="#1f86c8">HLA-C</text>
<text x="194.3" y="432.5" font-size="8.5" text-anchor="start" font-weight="bold" fill="#1f86c8">MX2</text>
<text x="190.7" y="446.79999999999995" font-size="8.5" text-anchor="start" font-weight="bold" fill="#1f86c8">IFITM3;IFITM1</text>
<text x="154.8" y="443.5" font-size="8.5" text-anchor="end" font-weight="bold" fill="#1f86c8">HLA-C</text>
<text x="159.1" y="459" font-size="10.2" text-anchor="start" font-weight="bold" fill="#1f86c8" textLength="26.8" lengthAdjust="spacingAndGlyphs">ISG20</text>
<circle cx="59" cy="229.8" r="2.6" fill="#c8c8c8" stroke="#999" stroke-width="0.6"/>
<circle cx="59" cy="245.3" r="2" fill="#111"/>
<circle cx="59" cy="260.6" r="2.6" fill="#1a7cc4" stroke="#0c3d66" stroke-width="0.6"/>
<text stroke="#222" stroke-width="0.12" x="67.4" y="233" font-size="11" text-anchor="start" font-weight="normal" fill="#222">non-significant</text>
<text stroke="#222" stroke-width="0.12" x="67.4" y="248.2" font-size="11" text-anchor="start" font-weight="normal" fill="#222">significant</text>
<text stroke="#222" stroke-width="0.12" x="67.4" y="263.4" font-size="11" text-anchor="start" font-weight="normal" fill="#222">significant + GOBP</text>
<text stroke="#222" stroke-width="0.12" x="67.3" y="275.4" font-size="10" text-anchor="start" font-weight="normal" fill="#222" font-style="italic" textLength="156.3" lengthAdjust="spacingAndGlyphs">cellular response to type I interferon</text>
<text x="466.9" y="247.8" font-size="10" text-anchor="end" font-weight="bold" fill="#111" textLength="81.8" lengthAdjust="spacingAndGlyphs">GOBP enrichment</text>
<rect x="472.2" y="258.3" width="54.099999999999966" height="9.6" fill="#0a78c8" stroke="#222" stroke-width="1"/>
<text stroke="#222" stroke-width="0.12" x="466.2" y="264.90000000000003" font-size="10.5" text-anchor="end" font-weight="normal" fill="#222" textLength="143.3" lengthAdjust="spacingAndGlyphs">cellular response to type I interferon</text>
<rect x="472.2" y="273.40000000000003" width="54.099999999999966" height="9.6" fill="#a0a0a0" stroke="#222" stroke-width="1"/>
<text stroke="#222" stroke-width="0.12" x="466.2" y="280.00000000000006" font-size="10.5" text-anchor="end" font-weight="normal" fill="#222" textLength="177.1" lengthAdjust="spacingAndGlyphs">type I interferon-mediated signaling pathway</text>
<rect x="472.2" y="288.5" width="53.19999999999999" height="9.6" fill="#a0a0a0" stroke="#222" stroke-width="1"/>
<text stroke="#222" stroke-width="0.12" x="466.2" y="295.1" font-size="10.5" text-anchor="end" font-weight="normal" fill="#222" textLength="112.4" lengthAdjust="spacingAndGlyphs">response to type I interferon</text>
<rect x="472.2" y="303.6" width="38.900000000000034" height="9.6" fill="#a0a0a0" stroke="#222" stroke-width="1"/>
<text stroke="#222" stroke-width="0.12" x="466.2" y="310.20000000000005" font-size="10.5" text-anchor="end" font-weight="normal" fill="#222" textLength="148.0" lengthAdjust="spacingAndGlyphs">cytokine-mediated signaling pathway</text>
<rect x="472.2" y="318.7" width="25.69999999999999" height="9.6" fill="#a0a0a0" stroke="#222" stroke-width="1"/>
<text stroke="#222" stroke-width="0.12" x="466.2" y="325.3" font-size="10.5" text-anchor="end" font-weight="normal" fill="#222" textLength="149.8" lengthAdjust="spacingAndGlyphs">cellular response to cytokine stimulus</text>
<rect x="472.2" y="333.8" width="22.900000000000034" height="9.6" fill="#a0a0a0" stroke="#222" stroke-width="1"/>
<text stroke="#222" stroke-width="0.12" x="466.2" y="340.40000000000003" font-size="10.5" text-anchor="end" font-weight="normal" fill="#222" textLength="103.3" lengthAdjust="spacingAndGlyphs">defense response to virus</text>
<rect x="472.2" y="348.9" width="22.100000000000023" height="9.6" fill="#a0a0a0" stroke="#222" stroke-width="1"/>
<text stroke="#222" stroke-width="0.12" x="466.2" y="355.5" font-size="10.5" text-anchor="end" font-weight="normal" fill="#222" textLength="68.0" lengthAdjust="spacingAndGlyphs">response to virus</text>
<line x1="472.2" y1="254" x2="472.2" y2="363.2" stroke="#111" stroke-width="1.3"/>
<line x1="471.5" y1="363.2" x2="534.5" y2="363.2" stroke="#111" stroke-width="1.3"/>
<line x1="472.2" y1="363.2" x2="472.2" y2="366" stroke="#111" stroke-width="1.1"/>
<text stroke="#222" stroke-width="0.12" x="472.2" y="375.9" font-size="10" text-anchor="middle" font-weight="normal" fill="#222">20</text>
<line x1="487.8" y1="363.2" x2="487.8" y2="366" stroke="#111" stroke-width="1.1"/>
<line x1="503.4" y1="363.2" x2="503.4" y2="366" stroke="#111" stroke-width="1.1"/>
<text stroke="#222" stroke-width="0.12" x="503.4" y="375.9" font-size="10" text-anchor="middle" font-weight="normal" fill="#222">30</text>
<line x1="518.9" y1="363.2" x2="518.9" y2="366" stroke="#111" stroke-width="1.1"/>
<line x1="534.5" y1="363.2" x2="534.5" y2="366" stroke="#111" stroke-width="1.1"/>
<text stroke="#222" stroke-width="0.12" x="534.5" y="375.9" font-size="10" text-anchor="middle" font-weight="normal" fill="#222">40</text>
<text stroke="#222" stroke-width="0.12" x="464.6" y="388.8" font-size="10.9" fill="#222"><tspan font-weight="bold">B.H. FDR</tspan><tspan font-size="9.4"> (-log</tspan><tspan font-size="6.2" dy="2.2">10</tspan><tspan font-size="9.4" dy="-2.2">)</tspan></text>
<text stroke="#222" stroke-width="0.12" x="370.7" y="432.9" font-size="10" text-anchor="middle" font-weight="normal" fill="#222">WT</text>
<text stroke="#222" stroke-width="0.12" x="439.1" y="431.6" font-size="10.6" fill="#222">RIG-I<tspan font-size="6.5" dy="-4.3">-/-</tspan></text>
<line x1="332.9" y1="436.6" x2="408.6" y2="436.6" stroke="#111" stroke-width="1.3"/>
<line x1="417.4" y1="436.3" x2="492.2" y2="436.3" stroke="#111" stroke-width="1.3"/>
<text stroke="#222" stroke-width="0.12" x="343.1" y="449.8" font-size="10" text-anchor="middle" font-weight="normal" fill="#222">2</text>
<text stroke="#222" stroke-width="0.12" x="371.3" y="449.8" font-size="10" text-anchor="middle" font-weight="normal" fill="#222">4</text>
<text stroke="#222" stroke-width="0.12" x="400" y="449.8" font-size="10" text-anchor="middle" font-weight="normal" fill="#222">6</text>
<text stroke="#222" stroke-width="0.12" x="426.5" y="449.8" font-size="10" text-anchor="middle" font-weight="normal" fill="#222">2</text>
<text stroke="#222" stroke-width="0.12" x="454.2" y="449.8" font-size="10" text-anchor="middle" font-weight="normal" fill="#222">4</text>
<text stroke="#222" stroke-width="0.12" x="482" y="449.8" font-size="10" text-anchor="middle" font-weight="normal" fill="#222">6</text>
<text stroke="#222" stroke-width="0.12" x="500.5" y="449.9" font-size="10.4" fill="#222"><tspan font-weight="bold">time</tspan> (d)</text>
<defs><filter id="bl" x="-30%" y="-150%" width="160%" height="400%"><feGaussianBlur stdDeviation="1.8 1.0"/></filter></defs>
<rect x="329.2" y="453.3" width="166.8" height="22.899999999999977" fill="#fdfdfd" stroke="#3a3a3a" stroke-width="1.2"/>
<rect x="329.2" y="479.5" width="166.8" height="22.899999999999977" fill="#fdfdfd" stroke="#3a3a3a" stroke-width="1.2"/>
<rect x="329.2" y="505.6" width="166.8" height="21.899999999999977" fill="#fdfdfd" stroke="#3a3a3a" stroke-width="1.2"/>
<rect x="331.5" y="463.3" width="24" height="3.4" rx="1.7" fill="#000" fill-opacity="0.6" filter="url(#bl)"/>
<rect x="358.3" y="462.8" width="27" height="4.4" rx="2.2" fill="#000" fill-opacity="0.85" filter="url(#bl)"/>
<rect x="389.7" y="463.6" width="22" height="2.8" rx="1.4" fill="#000" fill-opacity="0.45" filter="url(#bl)"/>
<rect x="416.0" y="463.3" width="24" height="3.4" rx="1.7" fill="#000" fill-opacity="0.75" filter="url(#bl)"/>
<rect x="443.0" y="462.7" width="25" height="4.6" rx="2.3" fill="#000" fill-opacity="1.0" filter="url(#bl)"/>
<rect x="471.2" y="463.1" width="24" height="3.8" rx="1.9" fill="#000" fill-opacity="0.8" filter="url(#bl)"/>
<rect x="358.0" y="488.09999999999997" width="26" height="4.2" rx="2.1" fill="#000" fill-opacity="0.8" filter="url(#bl)"/>
<rect x="387.2" y="486.5" width="25" height="5.8" rx="2.9" fill="#000" fill-opacity="1.0" filter="url(#bl)"/>
<rect x="331.0" y="496.0" width="25" height="2.6" rx="1.3" fill="#000" fill-opacity="0.12" filter="url(#bl)"/>
<rect x="359.3" y="496.0" width="25" height="2.6" rx="1.3" fill="#000" fill-opacity="0.2" filter="url(#bl)"/>
<rect x="388.2" y="496.0" width="25" height="2.6" rx="1.3" fill="#000" fill-opacity="0.15" filter="url(#bl)"/>
<rect x="415.5" y="496.0" width="25" height="2.6" rx="1.3" fill="#000" fill-opacity="0.18" filter="url(#bl)"/>
<rect x="443.0" y="496.0" width="25" height="2.6" rx="1.3" fill="#000" fill-opacity="0.2" filter="url(#bl)"/>
<rect x="470.7" y="496.0" width="25" height="2.6" rx="1.3" fill="#000" fill-opacity="0.3" filter="url(#bl)"/>
<rect x="331.0" y="515.8" width="25" height="4.4" rx="2.2" fill="#000" fill-opacity="0.45" filter="url(#bl)"/>
<rect x="359.3" y="515.8" width="25" height="4.4" rx="2.2" fill="#000" fill-opacity="0.5" filter="url(#bl)"/>
<rect x="388.2" y="515.8" width="25" height="4.4" rx="2.2" fill="#000" fill-opacity="0.55" filter="url(#bl)"/>
<rect x="415.5" y="515.8" width="25" height="4.4" rx="2.2" fill="#000" fill-opacity="0.45" filter="url(#bl)"/>
<rect x="443.0" y="515.8" width="25" height="4.4" rx="2.2" fill="#000" fill-opacity="0.48" filter="url(#bl)"/>
<rect x="470.7" y="515.8" width="25" height="4.4" rx="2.2" fill="#000" fill-opacity="0.55" filter="url(#bl)"/>
<text stroke="#222" stroke-width="0.12" x="500" y="469.6" font-size="10.3" fill="#222">NS5B<tspan font-size="6.3" dy="-4.2">WT</tspan></text>
<text stroke="#222" stroke-width="0.12" x="500" y="495.4" font-size="10.5" text-anchor="start" font-weight="normal" fill="#222">IFIT1</text>
<text stroke="#222" stroke-width="0.12" x="500" y="522.7" font-size="10.8" text-anchor="start" font-weight="normal" fill="#222">CANX</text>
</svg></body></html>
